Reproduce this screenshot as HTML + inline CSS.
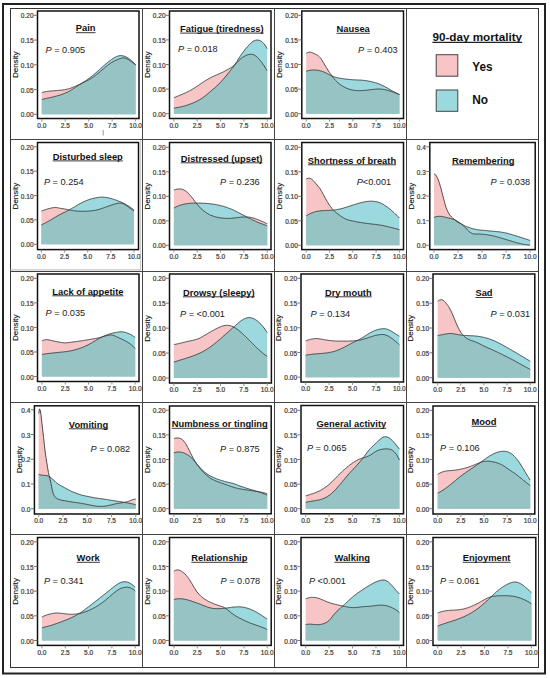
<!DOCTYPE html>
<html><head><meta charset="utf-8"><style>
html,body{margin:0;padding:0;background:#fff;}
svg{display:block;}
text{font-family:'Liberation Sans', sans-serif;text-decoration-skip-ink:none;}
.tk{font-size:6.5px;fill:#404040;stroke:#404040;stroke-width:0.22px;}
.dl{font-size:8px;fill:#111;stroke:#111;stroke-width:0.12px;}
.ti{font-size:9.35px;font-weight:bold;fill:#111;}
.pv{font-size:9.2px;fill:#1a1a1a;}
.lt{font-size:11.7px;font-weight:bold;fill:#111;}
.ly{font-size:13.2px;font-weight:bold;fill:#111;}
</style></head><body>
<svg width="550" height="678" viewBox="0 0 550 678">
<rect x="0" y="0" width="550" height="678" fill="#fff"/>
<rect x="3" y="4" width="542" height="669.5" fill="none" stroke="#222" stroke-width="2"/>
<rect x="10.5" y="8.5" width="528" height="659" fill="none" stroke="#333" stroke-width="1"/>
<line x1="142.5" y1="8.5" x2="142.5" y2="667.5" stroke="#444" stroke-width="1"/>
<line x1="274.5" y1="8.5" x2="274.5" y2="667.5" stroke="#444" stroke-width="1"/>
<line x1="406.5" y1="8.5" x2="406.5" y2="667.5" stroke="#444" stroke-width="1"/>
<line x1="10.5" y1="139.5" x2="538.5" y2="139.5" stroke="#444" stroke-width="1"/>
<line x1="10.5" y1="271.5" x2="538.5" y2="271.5" stroke="#444" stroke-width="1"/>
<line x1="10.5" y1="402.5" x2="538.5" y2="402.5" stroke="#444" stroke-width="1"/>
<line x1="10.5" y1="534.5" x2="538.5" y2="534.5" stroke="#444" stroke-width="1"/>
<line x1="10.5" y1="269.8" x2="141" y2="269.8" stroke="#c4c4c4" stroke-width="1.2"/>
<line x1="140.6" y1="140" x2="140.6" y2="270" stroke="#c8c8c8" stroke-width="1"/>
<path d="M41.8,114.3 L41.8,92.6 L42.6,92.4 L43.4,92.2 L44.1,92 L44.9,91.8 L45.7,91.7 L46.5,91.6 L47.3,91.4 L48.1,91.3 L48.8,91.2 L49.6,91.1 L50.4,91.1 L51.2,91 L52,90.9 L52.7,90.8 L53.5,90.8 L54.3,90.7 L55.1,90.7 L55.9,90.6 L56.7,90.6 L57.4,90.5 L58.2,90.4 L59,90.4 L59.8,90.3 L60.6,90.2 L61.3,90.2 L62.1,90.1 L62.9,90 L63.7,89.8 L64.5,89.7 L65.2,89.6 L66,89.4 L66.8,89.2 L67.6,89.1 L68.4,88.9 L69.2,88.6 L69.9,88.4 L70.7,88.1 L71.5,87.8 L72.3,87.5 L73.1,87.2 L73.8,86.9 L74.6,86.6 L75.4,86.3 L76.2,85.9 L77,85.5 L77.8,85.2 L78.5,84.8 L79.3,84.5 L80.1,84.1 L80.9,83.7 L81.7,83.3 L82.4,83 L83.2,82.6 L84,82.2 L84.8,81.9 L85.6,81.5 L86.4,81.1 L87.1,80.7 L87.9,80.3 L88.7,79.9 L89.5,79.4 L90.3,79 L91,78.5 L91.8,78 L92.6,77.5 L93.4,76.9 L94.2,76.4 L95,75.8 L95.7,75.2 L96.5,74.6 L97.3,74 L98.1,73.3 L98.9,72.7 L99.6,72.1 L100.4,71.4 L101.2,70.7 L102,70.1 L102.8,69.4 L103.6,68.7 L104.3,68 L105.1,67.4 L105.9,66.7 L106.7,66.1 L107.5,65.5 L108.2,64.8 L109,64.3 L109.8,63.7 L110.6,63.1 L111.4,62.6 L112.1,62.2 L112.9,61.7 L113.7,61.3 L114.5,60.9 L115.3,60.6 L116.1,60.2 L116.8,59.9 L117.6,59.6 L118.4,59.3 L119.2,58.9 L120,58.6 L120.7,58.4 L121.5,58.1 L122.3,58 L123.1,57.9 L123.9,57.9 L124.7,58 L125.4,58.2 L126.2,58.5 L127,58.8 L127.8,59.2 L128.6,59.7 L129.3,60.2 L130.1,60.8 L130.9,61.3 L131.7,61.9 L132.5,62.5 L133.3,63.1 L134,63.7 L134.8,64.3 L135.6,64.8 L135.6,114.3 Z" fill="rgb(247,197,197)"/>
<path d="M41.8,114.3 L41.8,99.5 L42.6,99.3 L43.4,99.1 L44.1,98.9 L44.9,98.7 L45.7,98.6 L46.5,98.4 L47.3,98.2 L48.1,98 L48.8,97.9 L49.6,97.7 L50.4,97.5 L51.2,97.4 L52,97.2 L52.7,97 L53.5,96.8 L54.3,96.6 L55.1,96.4 L55.9,96.2 L56.7,96 L57.4,95.8 L58.2,95.6 L59,95.4 L59.8,95.1 L60.6,94.9 L61.3,94.6 L62.1,94.3 L62.9,94 L63.7,93.7 L64.5,93.4 L65.2,93.1 L66,92.7 L66.8,92.4 L67.6,92 L68.4,91.6 L69.2,91.2 L69.9,90.8 L70.7,90.3 L71.5,89.9 L72.3,89.4 L73.1,88.9 L73.8,88.4 L74.6,87.9 L75.4,87.4 L76.2,86.9 L77,86.4 L77.8,85.9 L78.5,85.3 L79.3,84.8 L80.1,84.3 L80.9,83.8 L81.7,83.3 L82.4,82.8 L83.2,82.3 L84,81.8 L84.8,81.3 L85.6,80.8 L86.4,80.3 L87.1,79.7 L87.9,79.2 L88.7,78.6 L89.5,78.1 L90.3,77.5 L91,76.9 L91.8,76.3 L92.6,75.6 L93.4,75 L94.2,74.3 L95,73.6 L95.7,73 L96.5,72.3 L97.3,71.6 L98.1,70.9 L98.9,70.2 L99.6,69.5 L100.4,68.7 L101.2,68 L102,67.3 L102.8,66.6 L103.6,65.9 L104.3,65.3 L105.1,64.6 L105.9,63.9 L106.7,63.3 L107.5,62.6 L108.2,62 L109,61.4 L109.8,60.8 L110.6,60.2 L111.4,59.6 L112.1,59.1 L112.9,58.6 L113.7,58.1 L114.5,57.6 L115.3,57.2 L116.1,56.8 L116.8,56.4 L117.6,56.2 L118.4,55.9 L119.2,55.8 L120,55.7 L120.7,55.6 L121.5,55.6 L122.3,55.7 L123.1,55.9 L123.9,56.1 L124.7,56.3 L125.4,56.6 L126.2,57 L127,57.4 L127.8,57.9 L128.6,58.4 L129.3,58.9 L130.1,59.5 L130.9,60.2 L131.7,60.9 L132.5,61.6 L133.3,62.3 L134,63.1 L134.8,63.9 L135.6,64.8 L135.6,114.3 Z" fill="rgb(156,217,222)"/>
<path d="M41.8,114.3 L41.8,99.5 L42.6,99.3 L43.4,99.1 L44.1,98.9 L44.9,98.7 L45.7,98.6 L46.5,98.4 L47.3,98.2 L48.1,98 L48.8,97.9 L49.6,97.7 L50.4,97.5 L51.2,97.4 L52,97.2 L52.7,97 L53.5,96.8 L54.3,96.6 L55.1,96.4 L55.9,96.2 L56.7,96 L57.4,95.8 L58.2,95.6 L59,95.4 L59.8,95.1 L60.6,94.9 L61.3,94.6 L62.1,94.3 L62.9,94 L63.7,93.7 L64.5,93.4 L65.2,93.1 L66,92.7 L66.8,92.4 L67.6,92 L68.4,91.6 L69.2,91.2 L69.9,90.8 L70.7,90.3 L71.5,89.9 L72.3,89.4 L73.1,88.9 L73.8,88.4 L74.6,87.9 L75.4,87.4 L76.2,86.9 L77,86.4 L77.8,85.9 L78.5,85.3 L79.3,84.8 L80.1,84.3 L80.9,83.8 L81.7,83.3 L82.4,83 L83.2,82.6 L84,82.2 L84.8,81.9 L85.6,81.5 L86.4,81.1 L87.1,80.7 L87.9,80.3 L88.7,79.9 L89.5,79.4 L90.3,79 L91,78.5 L91.8,78 L92.6,77.5 L93.4,76.9 L94.2,76.4 L95,75.8 L95.7,75.2 L96.5,74.6 L97.3,74 L98.1,73.3 L98.9,72.7 L99.6,72.1 L100.4,71.4 L101.2,70.7 L102,70.1 L102.8,69.4 L103.6,68.7 L104.3,68 L105.1,67.4 L105.9,66.7 L106.7,66.1 L107.5,65.5 L108.2,64.8 L109,64.3 L109.8,63.7 L110.6,63.1 L111.4,62.6 L112.1,62.2 L112.9,61.7 L113.7,61.3 L114.5,60.9 L115.3,60.6 L116.1,60.2 L116.8,59.9 L117.6,59.6 L118.4,59.3 L119.2,58.9 L120,58.6 L120.7,58.4 L121.5,58.1 L122.3,58 L123.1,57.9 L123.9,57.9 L124.7,58 L125.4,58.2 L126.2,58.5 L127,58.8 L127.8,59.2 L128.6,59.7 L129.3,60.2 L130.1,60.8 L130.9,61.3 L131.7,61.9 L132.5,62.5 L133.3,63.1 L134,63.7 L134.8,64.3 L135.6,64.8 L135.6,114.3 Z" fill="rgb(150,195,196)"/>
<path d="M41.8,92.62 L42.6,92.4 L43.4,92.2 L44.1,92 L44.9,91.8 L45.7,91.7 L46.5,91.6 L47.3,91.4 L48.1,91.3 L48.8,91.2 L49.6,91.1 L50.4,91.1 L51.2,91 L52,90.9 L52.7,90.8 L53.5,90.8 L54.3,90.7 L55.1,90.7 L55.9,90.6 L56.7,90.6 L57.4,90.5 L58.2,90.4 L59,90.4 L59.8,90.3 L60.6,90.2 L61.3,90.2 L62.1,90.1 L62.9,90 L63.7,89.8 L64.5,89.7 L65.2,89.6 L66,89.4 L66.8,89.2 L67.6,89.1 L68.4,88.9 L69.2,88.6 L69.9,88.4 L70.7,88.1 L71.5,87.8 L72.3,87.5 L73.1,87.2 L73.8,86.9 L74.6,86.6 L75.4,86.3 L76.2,85.9 L77,85.5 L77.8,85.2 L78.5,84.8 L79.3,84.5 L80.1,84.1 L80.9,83.7 L81.7,83.3 L82.4,83 L83.2,82.6 L84,82.2 L84.8,81.9 L85.6,81.5 L86.4,81.1 L87.1,80.7 L87.9,80.3 L88.7,79.9 L89.5,79.4 L90.3,79 L91,78.5 L91.8,78 L92.6,77.5 L93.4,76.9 L94.2,76.4 L95,75.8 L95.7,75.2 L96.5,74.6 L97.3,74 L98.1,73.3 L98.9,72.7 L99.6,72.1 L100.4,71.4 L101.2,70.7 L102,70.1 L102.8,69.4 L103.6,68.7 L104.3,68 L105.1,67.4 L105.9,66.7 L106.7,66.1 L107.5,65.5 L108.2,64.8 L109,64.3 L109.8,63.7 L110.6,63.1 L111.4,62.6 L112.1,62.2 L112.9,61.7 L113.7,61.3 L114.5,60.9 L115.3,60.6 L116.1,60.2 L116.8,59.9 L117.6,59.6 L118.4,59.3 L119.2,58.9 L120,58.6 L120.7,58.4 L121.5,58.1 L122.3,58 L123.1,57.9 L123.9,57.9 L124.7,58 L125.4,58.2 L126.2,58.5 L127,58.8 L127.8,59.2 L128.6,59.7 L129.3,60.2 L130.1,60.8 L130.9,61.3 L131.7,61.9 L132.5,62.5 L133.3,63.1 L134,63.7 L134.8,64.3 L135.6,64.8" fill="none" stroke="#3a3a3a" stroke-width="0.9"/>
<path d="M41.8,99.45 L42.6,99.3 L43.4,99.1 L44.1,98.9 L44.9,98.7 L45.7,98.6 L46.5,98.4 L47.3,98.2 L48.1,98 L48.8,97.9 L49.6,97.7 L50.4,97.5 L51.2,97.4 L52,97.2 L52.7,97 L53.5,96.8 L54.3,96.6 L55.1,96.4 L55.9,96.2 L56.7,96 L57.4,95.8 L58.2,95.6 L59,95.4 L59.8,95.1 L60.6,94.9 L61.3,94.6 L62.1,94.3 L62.9,94 L63.7,93.7 L64.5,93.4 L65.2,93.1 L66,92.7 L66.8,92.4 L67.6,92 L68.4,91.6 L69.2,91.2 L69.9,90.8 L70.7,90.3 L71.5,89.9 L72.3,89.4 L73.1,88.9 L73.8,88.4 L74.6,87.9 L75.4,87.4 L76.2,86.9 L77,86.4 L77.8,85.9 L78.5,85.3 L79.3,84.8 L80.1,84.3 L80.9,83.8 L81.7,83.3 L82.4,82.8 L83.2,82.3 L84,81.8 L84.8,81.3 L85.6,80.8 L86.4,80.3 L87.1,79.7 L87.9,79.2 L88.7,78.6 L89.5,78.1 L90.3,77.5 L91,76.9 L91.8,76.3 L92.6,75.6 L93.4,75 L94.2,74.3 L95,73.6 L95.7,73 L96.5,72.3 L97.3,71.6 L98.1,70.9 L98.9,70.2 L99.6,69.5 L100.4,68.7 L101.2,68 L102,67.3 L102.8,66.6 L103.6,65.9 L104.3,65.3 L105.1,64.6 L105.9,63.9 L106.7,63.3 L107.5,62.6 L108.2,62 L109,61.4 L109.8,60.8 L110.6,60.2 L111.4,59.6 L112.1,59.1 L112.9,58.6 L113.7,58.1 L114.5,57.6 L115.3,57.2 L116.1,56.8 L116.8,56.4 L117.6,56.2 L118.4,55.9 L119.2,55.8 L120,55.7 L120.7,55.6 L121.5,55.6 L122.3,55.7 L123.1,55.9 L123.9,56.1 L124.7,56.3 L125.4,56.6 L126.2,57 L127,57.4 L127.8,57.9 L128.6,58.4 L129.3,58.9 L130.1,59.5 L130.9,60.2 L131.7,60.9 L132.5,61.6 L133.3,62.3 L134,63.1 L134.8,63.9 L135.6,64.8" fill="none" stroke="#3a3a3a" stroke-width="0.9"/>
<rect x="37.5" y="11" width="101.5" height="107.5" fill="none" stroke="#111" stroke-width="1.5"/>
<line x1="33.9" y1="114.3" x2="37.5" y2="114.3" stroke="#555" stroke-width="0.8"/>
<text x="33.5" y="117.4" class="tk" text-anchor="end">0.00</text>
<line x1="33.9" y1="89.55" x2="37.5" y2="89.55" stroke="#555" stroke-width="0.8"/>
<text x="33.5" y="92.65" class="tk" text-anchor="end">0.05</text>
<line x1="33.9" y1="64.8" x2="37.5" y2="64.8" stroke="#555" stroke-width="0.8"/>
<text x="33.5" y="67.9" class="tk" text-anchor="end">0.10</text>
<line x1="33.9" y1="40.05" x2="37.5" y2="40.05" stroke="#555" stroke-width="0.8"/>
<text x="33.5" y="43.15" class="tk" text-anchor="end">0.15</text>
<line x1="33.9" y1="15.3" x2="37.5" y2="15.3" stroke="#555" stroke-width="0.8"/>
<text x="33.5" y="18.4" class="tk" text-anchor="end">0.20</text>
<line x1="41.8" y1="118.5" x2="41.8" y2="121.5" stroke="#777" stroke-width="0.8"/>
<text x="41.8" y="127.7" class="tk" text-anchor="middle">0.0</text>
<line x1="65.25" y1="118.5" x2="65.25" y2="121.5" stroke="#777" stroke-width="0.8"/>
<text x="65.25" y="127.7" class="tk" text-anchor="middle">2.5</text>
<line x1="88.7" y1="118.5" x2="88.7" y2="121.5" stroke="#777" stroke-width="0.8"/>
<text x="88.7" y="127.7" class="tk" text-anchor="middle">5.0</text>
<line x1="112.15" y1="118.5" x2="112.15" y2="121.5" stroke="#777" stroke-width="0.8"/>
<text x="112.15" y="127.7" class="tk" text-anchor="middle">7.5</text>
<line x1="135.6" y1="118.5" x2="135.6" y2="121.5" stroke="#777" stroke-width="0.8"/>
<text x="135.6" y="127.7" class="tk" text-anchor="middle">10.0</text>
<text transform="translate(17.5,64.75) rotate(-90)" class="dl" text-anchor="middle">Density</text>
<text x="85.7" y="31.4" class="ti" text-anchor="middle">Pain</text>
<line x1="75.83" y1="32.7" x2="95.57" y2="32.7" stroke="#222" stroke-width="0.9"/>
<text x="45.5" y="52.5" class="pv"><tspan font-style="italic">P</tspan> = 0.905</text>
<path d="M173.9,113.7 L173.9,97.8 L174.7,97.4 L175.5,97.1 L176.2,96.8 L177,96.4 L177.8,96.1 L178.6,95.8 L179.3,95.5 L180.1,95.2 L180.9,94.8 L181.7,94.5 L182.5,94.2 L183.2,93.8 L184,93.5 L184.8,93.1 L185.6,92.8 L186.3,92.4 L187.1,92 L187.9,91.7 L188.7,91.3 L189.4,90.9 L190.2,90.5 L191,90 L191.8,89.6 L192.6,89.1 L193.3,88.7 L194.1,88.2 L194.9,87.7 L195.7,87.2 L196.4,86.7 L197.2,86.2 L198,85.7 L198.8,85.2 L199.6,84.6 L200.3,84.1 L201.1,83.6 L201.9,83 L202.7,82.5 L203.4,82 L204.2,81.5 L205,81 L205.8,80.5 L206.6,80 L207.3,79.6 L208.1,79.1 L208.9,78.6 L209.7,78.2 L210.4,77.8 L211.2,77.4 L212,77 L212.8,76.6 L213.6,76.3 L214.3,75.9 L215.1,75.6 L215.9,75.2 L216.7,74.9 L217.4,74.6 L218.2,74.2 L219,73.9 L219.8,73.6 L220.6,73.2 L221.3,72.8 L222.1,72.5 L222.9,72.1 L223.7,71.7 L224.4,71.3 L225.2,70.9 L226,70.5 L226.8,70 L227.5,69.6 L228.3,69.2 L229.1,68.7 L229.9,68.3 L230.7,67.8 L231.4,67.4 L232.2,66.9 L233,66.3 L233.8,65.8 L234.5,65.1 L235.3,64.3 L236.1,63.5 L236.9,62.7 L237.7,61.9 L238.4,61 L239.2,60.2 L240,59.5 L240.8,58.8 L241.5,58.1 L242.3,57.6 L243.1,57 L243.9,56.5 L244.7,56.1 L245.4,55.7 L246.2,55.3 L247,55 L247.8,54.8 L248.5,54.6 L249.3,54.4 L250.1,54.3 L250.9,54.2 L251.6,54.3 L252.4,54.4 L253.2,54.6 L254,54.9 L254.8,55.3 L255.5,55.8 L256.3,56.3 L257.1,57 L257.9,57.8 L258.6,58.6 L259.4,59.5 L260.2,60.4 L261,61.4 L261.8,62.4 L262.5,63.5 L263.3,64.7 L264.1,65.8 L264.9,67 L265.6,68.3 L266.4,69.5 L267.2,70.7 L267.2,113.7 Z" fill="rgb(247,197,197)"/>
<path d="M173.9,113.7 L173.9,108 L174.7,108 L175.5,107.9 L176.2,107.7 L177,107.6 L177.8,107.5 L178.6,107.4 L179.3,107.2 L180.1,107.1 L180.9,106.9 L181.7,106.7 L182.5,106.5 L183.2,106.3 L184,106.1 L184.8,105.9 L185.6,105.7 L186.3,105.4 L187.1,105.2 L187.9,104.9 L188.7,104.7 L189.4,104.4 L190.2,104.1 L191,103.8 L191.8,103.5 L192.6,103.2 L193.3,102.8 L194.1,102.5 L194.9,102.2 L195.7,101.8 L196.4,101.4 L197.2,101 L198,100.6 L198.8,100.2 L199.6,99.7 L200.3,99.3 L201.1,98.8 L201.9,98.3 L202.7,97.7 L203.4,97.2 L204.2,96.6 L205,96 L205.8,95.4 L206.6,94.8 L207.3,94.1 L208.1,93.5 L208.9,92.8 L209.7,92.2 L210.4,91.5 L211.2,90.9 L212,90.2 L212.8,89.5 L213.6,88.9 L214.3,88.2 L215.1,87.5 L215.9,86.8 L216.7,86.1 L217.4,85.4 L218.2,84.7 L219,83.9 L219.8,83.1 L220.6,82.3 L221.3,81.5 L222.1,80.6 L222.9,79.7 L223.7,78.8 L224.4,77.9 L225.2,77 L226,76.1 L226.8,75.1 L227.5,74.1 L228.3,73.2 L229.1,72.2 L229.9,71.2 L230.7,70.3 L231.4,69.3 L232.2,68.3 L233,67.3 L233.8,66.2 L234.5,65.1 L235.3,63.9 L236.1,62.7 L236.9,61.5 L237.7,60.2 L238.4,59 L239.2,57.8 L240,56.6 L240.8,55.4 L241.5,54.3 L242.3,53.2 L243.1,52.2 L243.9,51.1 L244.7,50.1 L245.4,49.1 L246.2,48.2 L247,47.2 L247.8,46.3 L248.5,45.5 L249.3,44.6 L250.1,43.8 L250.9,43.1 L251.6,42.4 L252.4,41.8 L253.2,41.3 L254,40.9 L254.8,40.6 L255.5,40.3 L256.3,40.1 L257.1,40.1 L257.9,40.1 L258.6,40.2 L259.4,40.4 L260.2,40.7 L261,41.2 L261.8,41.7 L262.5,42.3 L263.3,43.1 L264.1,43.9 L264.9,44.9 L265.6,46 L266.4,47.3 L267.2,48.7 L267.2,113.7 Z" fill="rgb(156,217,222)"/>
<path d="M173.9,113.7 L173.9,108 L174.7,108 L175.5,107.9 L176.2,107.7 L177,107.6 L177.8,107.5 L178.6,107.4 L179.3,107.2 L180.1,107.1 L180.9,106.9 L181.7,106.7 L182.5,106.5 L183.2,106.3 L184,106.1 L184.8,105.9 L185.6,105.7 L186.3,105.4 L187.1,105.2 L187.9,104.9 L188.7,104.7 L189.4,104.4 L190.2,104.1 L191,103.8 L191.8,103.5 L192.6,103.2 L193.3,102.8 L194.1,102.5 L194.9,102.2 L195.7,101.8 L196.4,101.4 L197.2,101 L198,100.6 L198.8,100.2 L199.6,99.7 L200.3,99.3 L201.1,98.8 L201.9,98.3 L202.7,97.7 L203.4,97.2 L204.2,96.6 L205,96 L205.8,95.4 L206.6,94.8 L207.3,94.1 L208.1,93.5 L208.9,92.8 L209.7,92.2 L210.4,91.5 L211.2,90.9 L212,90.2 L212.8,89.5 L213.6,88.9 L214.3,88.2 L215.1,87.5 L215.9,86.8 L216.7,86.1 L217.4,85.4 L218.2,84.7 L219,83.9 L219.8,83.1 L220.6,82.3 L221.3,81.5 L222.1,80.6 L222.9,79.7 L223.7,78.8 L224.4,77.9 L225.2,77 L226,76.1 L226.8,75.1 L227.5,74.1 L228.3,73.2 L229.1,72.2 L229.9,71.2 L230.7,70.3 L231.4,69.3 L232.2,68.3 L233,67.3 L233.8,66.2 L234.5,65.1 L235.3,64.3 L236.1,63.5 L236.9,62.7 L237.7,61.9 L238.4,61 L239.2,60.2 L240,59.5 L240.8,58.8 L241.5,58.1 L242.3,57.6 L243.1,57 L243.9,56.5 L244.7,56.1 L245.4,55.7 L246.2,55.3 L247,55 L247.8,54.8 L248.5,54.6 L249.3,54.4 L250.1,54.3 L250.9,54.2 L251.6,54.3 L252.4,54.4 L253.2,54.6 L254,54.9 L254.8,55.3 L255.5,55.8 L256.3,56.3 L257.1,57 L257.9,57.8 L258.6,58.6 L259.4,59.5 L260.2,60.4 L261,61.4 L261.8,62.4 L262.5,63.5 L263.3,64.7 L264.1,65.8 L264.9,67 L265.6,68.3 L266.4,69.5 L267.2,70.7 L267.2,113.7 Z" fill="rgb(150,195,196)"/>
<path d="M173.9,97.76 L174.7,97.4 L175.5,97.1 L176.2,96.8 L177,96.4 L177.8,96.1 L178.6,95.8 L179.3,95.5 L180.1,95.2 L180.9,94.8 L181.7,94.5 L182.5,94.2 L183.2,93.8 L184,93.5 L184.8,93.1 L185.6,92.8 L186.3,92.4 L187.1,92 L187.9,91.7 L188.7,91.3 L189.4,90.9 L190.2,90.5 L191,90 L191.8,89.6 L192.6,89.1 L193.3,88.7 L194.1,88.2 L194.9,87.7 L195.7,87.2 L196.4,86.7 L197.2,86.2 L198,85.7 L198.8,85.2 L199.6,84.6 L200.3,84.1 L201.1,83.6 L201.9,83 L202.7,82.5 L203.4,82 L204.2,81.5 L205,81 L205.8,80.5 L206.6,80 L207.3,79.6 L208.1,79.1 L208.9,78.6 L209.7,78.2 L210.4,77.8 L211.2,77.4 L212,77 L212.8,76.6 L213.6,76.3 L214.3,75.9 L215.1,75.6 L215.9,75.2 L216.7,74.9 L217.4,74.6 L218.2,74.2 L219,73.9 L219.8,73.6 L220.6,73.2 L221.3,72.8 L222.1,72.5 L222.9,72.1 L223.7,71.7 L224.4,71.3 L225.2,70.9 L226,70.5 L226.8,70 L227.5,69.6 L228.3,69.2 L229.1,68.7 L229.9,68.3 L230.7,67.8 L231.4,67.4 L232.2,66.9 L233,66.3 L233.8,65.8 L234.5,65.1 L235.3,64.3 L236.1,63.5 L236.9,62.7 L237.7,61.9 L238.4,61 L239.2,60.2 L240,59.5 L240.8,58.8 L241.5,58.1 L242.3,57.6 L243.1,57 L243.9,56.5 L244.7,56.1 L245.4,55.7 L246.2,55.3 L247,55 L247.8,54.8 L248.5,54.6 L249.3,54.4 L250.1,54.3 L250.9,54.2 L251.6,54.3 L252.4,54.4 L253.2,54.6 L254,54.9 L254.8,55.3 L255.5,55.8 L256.3,56.3 L257.1,57 L257.9,57.8 L258.6,58.6 L259.4,59.5 L260.2,60.4 L261,61.4 L261.8,62.4 L262.5,63.5 L263.3,64.7 L264.1,65.8 L264.9,67 L265.6,68.3 L266.4,69.5 L267.2,70.7" fill="none" stroke="#3a3a3a" stroke-width="0.9"/>
<path d="M173.9,108.04 L174.7,108 L175.5,107.9 L176.2,107.7 L177,107.6 L177.8,107.5 L178.6,107.4 L179.3,107.2 L180.1,107.1 L180.9,106.9 L181.7,106.7 L182.5,106.5 L183.2,106.3 L184,106.1 L184.8,105.9 L185.6,105.7 L186.3,105.4 L187.1,105.2 L187.9,104.9 L188.7,104.7 L189.4,104.4 L190.2,104.1 L191,103.8 L191.8,103.5 L192.6,103.2 L193.3,102.8 L194.1,102.5 L194.9,102.2 L195.7,101.8 L196.4,101.4 L197.2,101 L198,100.6 L198.8,100.2 L199.6,99.7 L200.3,99.3 L201.1,98.8 L201.9,98.3 L202.7,97.7 L203.4,97.2 L204.2,96.6 L205,96 L205.8,95.4 L206.6,94.8 L207.3,94.1 L208.1,93.5 L208.9,92.8 L209.7,92.2 L210.4,91.5 L211.2,90.9 L212,90.2 L212.8,89.5 L213.6,88.9 L214.3,88.2 L215.1,87.5 L215.9,86.8 L216.7,86.1 L217.4,85.4 L218.2,84.7 L219,83.9 L219.8,83.1 L220.6,82.3 L221.3,81.5 L222.1,80.6 L222.9,79.7 L223.7,78.8 L224.4,77.9 L225.2,77 L226,76.1 L226.8,75.1 L227.5,74.1 L228.3,73.2 L229.1,72.2 L229.9,71.2 L230.7,70.3 L231.4,69.3 L232.2,68.3 L233,67.3 L233.8,66.2 L234.5,65.1 L235.3,63.9 L236.1,62.7 L236.9,61.5 L237.7,60.2 L238.4,59 L239.2,57.8 L240,56.6 L240.8,55.4 L241.5,54.3 L242.3,53.2 L243.1,52.2 L243.9,51.1 L244.7,50.1 L245.4,49.1 L246.2,48.2 L247,47.2 L247.8,46.3 L248.5,45.5 L249.3,44.6 L250.1,43.8 L250.9,43.1 L251.6,42.4 L252.4,41.8 L253.2,41.3 L254,40.9 L254.8,40.6 L255.5,40.3 L256.3,40.1 L257.1,40.1 L257.9,40.1 L258.6,40.2 L259.4,40.4 L260.2,40.7 L261,41.2 L261.8,41.7 L262.5,42.3 L263.3,43.1 L264.1,43.9 L264.9,44.9 L265.6,46 L266.4,47.3 L267.2,48.7" fill="none" stroke="#3a3a3a" stroke-width="0.9"/>
<rect x="169.5" y="11" width="101.5" height="107.5" fill="none" stroke="#111" stroke-width="1.5"/>
<line x1="165.9" y1="113.7" x2="169.5" y2="113.7" stroke="#555" stroke-width="0.8"/>
<text x="165.5" y="116.8" class="tk" text-anchor="end">0.00</text>
<line x1="165.9" y1="89.1" x2="169.5" y2="89.1" stroke="#555" stroke-width="0.8"/>
<text x="165.5" y="92.2" class="tk" text-anchor="end">0.05</text>
<line x1="165.9" y1="64.5" x2="169.5" y2="64.5" stroke="#555" stroke-width="0.8"/>
<text x="165.5" y="67.6" class="tk" text-anchor="end">0.10</text>
<line x1="165.9" y1="39.9" x2="169.5" y2="39.9" stroke="#555" stroke-width="0.8"/>
<text x="165.5" y="43" class="tk" text-anchor="end">0.15</text>
<line x1="165.9" y1="15.3" x2="169.5" y2="15.3" stroke="#555" stroke-width="0.8"/>
<text x="165.5" y="18.4" class="tk" text-anchor="end">0.20</text>
<line x1="173.9" y1="118.5" x2="173.9" y2="121.5" stroke="#777" stroke-width="0.8"/>
<text x="173.9" y="127.7" class="tk" text-anchor="middle">0.0</text>
<line x1="197.22" y1="118.5" x2="197.22" y2="121.5" stroke="#777" stroke-width="0.8"/>
<text x="197.22" y="127.7" class="tk" text-anchor="middle">2.5</text>
<line x1="220.55" y1="118.5" x2="220.55" y2="121.5" stroke="#777" stroke-width="0.8"/>
<text x="220.55" y="127.7" class="tk" text-anchor="middle">5.0</text>
<line x1="243.88" y1="118.5" x2="243.88" y2="121.5" stroke="#777" stroke-width="0.8"/>
<text x="243.88" y="127.7" class="tk" text-anchor="middle">7.5</text>
<line x1="267.2" y1="118.5" x2="267.2" y2="121.5" stroke="#777" stroke-width="0.8"/>
<text x="267.2" y="127.7" class="tk" text-anchor="middle">10.0</text>
<text transform="translate(149.5,64.75) rotate(-90)" class="dl" text-anchor="middle">Density</text>
<text x="221.9" y="31.8" class="ti" text-anchor="middle">Fatigue (tiredness)</text>
<line x1="180.08" y1="33.1" x2="263.72" y2="33.1" stroke="#222" stroke-width="0.9"/>
<text x="178" y="52.2" class="pv"><tspan font-style="italic">P</tspan> = 0.018</text>
<path d="M306.2,113.7 L306.2,53.3 L307,52.9 L307.8,52.5 L308.5,52.3 L309.3,52.2 L310.1,52.2 L310.9,52.3 L311.6,52.5 L312.4,52.8 L313.2,53.1 L314,53.4 L314.7,53.8 L315.5,54.2 L316.3,54.6 L317.1,55 L317.8,55.5 L318.6,56.1 L319.4,56.8 L320.2,57.6 L321,58.6 L321.7,59.8 L322.5,61 L323.3,62.3 L324.1,63.7 L324.8,65 L325.6,66.3 L326.4,67.6 L327.2,68.8 L327.9,70 L328.7,71.2 L329.5,72.4 L330.3,73.5 L331.1,74.6 L331.8,75.7 L332.6,76.8 L333.4,77.8 L334.2,78.8 L334.9,79.7 L335.7,80.5 L336.5,81.3 L337.3,82.1 L338,82.8 L338.8,83.5 L339.6,84.1 L340.4,84.7 L341.1,85.2 L341.9,85.7 L342.7,86.2 L343.5,86.6 L344.3,87.1 L345,87.5 L345.8,87.8 L346.6,88.2 L347.4,88.5 L348.1,88.8 L348.9,89.1 L349.7,89.3 L350.5,89.5 L351.2,89.7 L352,89.9 L352.8,90.1 L353.6,90.2 L354.4,90.3 L355.1,90.4 L355.9,90.5 L356.7,90.6 L357.5,90.6 L358.2,90.6 L359,90.7 L359.8,90.7 L360.6,90.6 L361.3,90.6 L362.1,90.6 L362.9,90.5 L363.7,90.5 L364.4,90.4 L365.2,90.3 L366,90.2 L366.8,90.2 L367.6,90.1 L368.3,90 L369.1,89.9 L369.9,89.8 L370.7,89.7 L371.4,89.6 L372.2,89.5 L373,89.4 L373.8,89.3 L374.5,89.2 L375.3,89.2 L376.1,89.1 L376.9,89.1 L377.7,89 L378.4,89 L379.2,89 L380,89.1 L380.8,89.1 L381.5,89.2 L382.3,89.3 L383.1,89.4 L383.9,89.5 L384.6,89.6 L385.4,89.8 L386.2,90 L387,90.2 L387.8,90.4 L388.5,90.6 L389.3,90.8 L390.1,91.1 L390.9,91.3 L391.6,91.6 L392.4,91.9 L393.2,92.1 L394,92.4 L394.7,92.7 L395.5,93 L396.3,93.3 L397.1,93.6 L397.8,93.9 L398.6,94.2 L399.4,94.5 L399.4,113.7 Z" fill="rgb(247,197,197)"/>
<path d="M306.2,113.7 L306.2,71.2 L307,71 L307.8,70.8 L308.5,70.6 L309.3,70.4 L310.1,70.3 L310.9,70.2 L311.6,70.1 L312.4,70 L313.2,70 L314,70 L314.7,70 L315.5,70 L316.3,70.1 L317.1,70.2 L317.8,70.3 L318.6,70.4 L319.4,70.6 L320.2,70.8 L321,71 L321.7,71.2 L322.5,71.5 L323.3,71.8 L324.1,72.1 L324.8,72.5 L325.6,72.8 L326.4,73.2 L327.2,73.6 L327.9,74 L328.7,74.4 L329.5,74.8 L330.3,75.2 L331.1,75.6 L331.8,75.9 L332.6,76.2 L333.4,76.5 L334.2,76.8 L334.9,77.1 L335.7,77.3 L336.5,77.5 L337.3,77.7 L338,77.9 L338.8,78 L339.6,78.2 L340.4,78.3 L341.1,78.4 L341.9,78.5 L342.7,78.7 L343.5,78.8 L344.3,78.9 L345,79 L345.8,79.1 L346.6,79.2 L347.4,79.3 L348.1,79.3 L348.9,79.4 L349.7,79.5 L350.5,79.6 L351.2,79.6 L352,79.7 L352.8,79.8 L353.6,79.8 L354.4,79.8 L355.1,79.9 L355.9,79.9 L356.7,79.9 L357.5,80 L358.2,80 L359,80 L359.8,80.1 L360.6,80.1 L361.3,80.2 L362.1,80.2 L362.9,80.3 L363.7,80.4 L364.4,80.5 L365.2,80.6 L366,80.7 L366.8,80.8 L367.6,80.9 L368.3,81.1 L369.1,81.2 L369.9,81.4 L370.7,81.5 L371.4,81.7 L372.2,81.9 L373,82.1 L373.8,82.3 L374.5,82.5 L375.3,82.7 L376.1,83 L376.9,83.2 L377.7,83.5 L378.4,83.7 L379.2,84 L380,84.3 L380.8,84.7 L381.5,85 L382.3,85.4 L383.1,85.8 L383.9,86.1 L384.6,86.6 L385.4,87 L386.2,87.4 L387,87.8 L387.8,88.3 L388.5,88.7 L389.3,89.1 L390.1,89.6 L390.9,90 L391.6,90.5 L392.4,90.9 L393.2,91.4 L394,91.8 L394.7,92.2 L395.5,92.6 L396.3,93 L397.1,93.4 L397.8,93.8 L398.6,94.2 L399.4,94.5 L399.4,113.7 Z" fill="rgb(156,217,222)"/>
<path d="M306.2,113.7 L306.2,71.2 L307,71 L307.8,70.8 L308.5,70.6 L309.3,70.4 L310.1,70.3 L310.9,70.2 L311.6,70.1 L312.4,70 L313.2,70 L314,70 L314.7,70 L315.5,70 L316.3,70.1 L317.1,70.2 L317.8,70.3 L318.6,70.4 L319.4,70.6 L320.2,70.8 L321,71 L321.7,71.2 L322.5,71.5 L323.3,71.8 L324.1,72.1 L324.8,72.5 L325.6,72.8 L326.4,73.2 L327.2,73.6 L327.9,74 L328.7,74.4 L329.5,74.8 L330.3,75.2 L331.1,75.6 L331.8,75.9 L332.6,76.8 L333.4,77.8 L334.2,78.8 L334.9,79.7 L335.7,80.5 L336.5,81.3 L337.3,82.1 L338,82.8 L338.8,83.5 L339.6,84.1 L340.4,84.7 L341.1,85.2 L341.9,85.7 L342.7,86.2 L343.5,86.6 L344.3,87.1 L345,87.5 L345.8,87.8 L346.6,88.2 L347.4,88.5 L348.1,88.8 L348.9,89.1 L349.7,89.3 L350.5,89.5 L351.2,89.7 L352,89.9 L352.8,90.1 L353.6,90.2 L354.4,90.3 L355.1,90.4 L355.9,90.5 L356.7,90.6 L357.5,90.6 L358.2,90.6 L359,90.7 L359.8,90.7 L360.6,90.6 L361.3,90.6 L362.1,90.6 L362.9,90.5 L363.7,90.5 L364.4,90.4 L365.2,90.3 L366,90.2 L366.8,90.2 L367.6,90.1 L368.3,90 L369.1,89.9 L369.9,89.8 L370.7,89.7 L371.4,89.6 L372.2,89.5 L373,89.4 L373.8,89.3 L374.5,89.2 L375.3,89.2 L376.1,89.1 L376.9,89.1 L377.7,89 L378.4,89 L379.2,89 L380,89.1 L380.8,89.1 L381.5,89.2 L382.3,89.3 L383.1,89.4 L383.9,89.5 L384.6,89.6 L385.4,89.8 L386.2,90 L387,90.2 L387.8,90.4 L388.5,90.6 L389.3,90.8 L390.1,91.1 L390.9,91.3 L391.6,91.6 L392.4,91.9 L393.2,92.1 L394,92.4 L394.7,92.7 L395.5,93 L396.3,93.3 L397.1,93.6 L397.8,93.9 L398.6,94.2 L399.4,94.5 L399.4,113.7 Z" fill="rgb(150,195,196)"/>
<path d="M306.2,53.33 L307,52.9 L307.8,52.5 L308.5,52.3 L309.3,52.2 L310.1,52.2 L310.9,52.3 L311.6,52.5 L312.4,52.8 L313.2,53.1 L314,53.4 L314.7,53.8 L315.5,54.2 L316.3,54.6 L317.1,55 L317.8,55.5 L318.6,56.1 L319.4,56.8 L320.2,57.6 L321,58.6 L321.7,59.8 L322.5,61 L323.3,62.3 L324.1,63.7 L324.8,65 L325.6,66.3 L326.4,67.6 L327.2,68.8 L327.9,70 L328.7,71.2 L329.5,72.4 L330.3,73.5 L331.1,74.6 L331.8,75.7 L332.6,76.8 L333.4,77.8 L334.2,78.8 L334.9,79.7 L335.7,80.5 L336.5,81.3 L337.3,82.1 L338,82.8 L338.8,83.5 L339.6,84.1 L340.4,84.7 L341.1,85.2 L341.9,85.7 L342.7,86.2 L343.5,86.6 L344.3,87.1 L345,87.5 L345.8,87.8 L346.6,88.2 L347.4,88.5 L348.1,88.8 L348.9,89.1 L349.7,89.3 L350.5,89.5 L351.2,89.7 L352,89.9 L352.8,90.1 L353.6,90.2 L354.4,90.3 L355.1,90.4 L355.9,90.5 L356.7,90.6 L357.5,90.6 L358.2,90.6 L359,90.7 L359.8,90.7 L360.6,90.6 L361.3,90.6 L362.1,90.6 L362.9,90.5 L363.7,90.5 L364.4,90.4 L365.2,90.3 L366,90.2 L366.8,90.2 L367.6,90.1 L368.3,90 L369.1,89.9 L369.9,89.8 L370.7,89.7 L371.4,89.6 L372.2,89.5 L373,89.4 L373.8,89.3 L374.5,89.2 L375.3,89.2 L376.1,89.1 L376.9,89.1 L377.7,89 L378.4,89 L379.2,89 L380,89.1 L380.8,89.1 L381.5,89.2 L382.3,89.3 L383.1,89.4 L383.9,89.5 L384.6,89.6 L385.4,89.8 L386.2,90 L387,90.2 L387.8,90.4 L388.5,90.6 L389.3,90.8 L390.1,91.1 L390.9,91.3 L391.6,91.6 L392.4,91.9 L393.2,92.1 L394,92.4 L394.7,92.7 L395.5,93 L396.3,93.3 L397.1,93.6 L397.8,93.9 L398.6,94.2 L399.4,94.5" fill="none" stroke="#3a3a3a" stroke-width="0.9"/>
<path d="M306.2,71.24 L307,71 L307.8,70.8 L308.5,70.6 L309.3,70.4 L310.1,70.3 L310.9,70.2 L311.6,70.1 L312.4,70 L313.2,70 L314,70 L314.7,70 L315.5,70 L316.3,70.1 L317.1,70.2 L317.8,70.3 L318.6,70.4 L319.4,70.6 L320.2,70.8 L321,71 L321.7,71.2 L322.5,71.5 L323.3,71.8 L324.1,72.1 L324.8,72.5 L325.6,72.8 L326.4,73.2 L327.2,73.6 L327.9,74 L328.7,74.4 L329.5,74.8 L330.3,75.2 L331.1,75.6 L331.8,75.9 L332.6,76.2 L333.4,76.5 L334.2,76.8 L334.9,77.1 L335.7,77.3 L336.5,77.5 L337.3,77.7 L338,77.9 L338.8,78 L339.6,78.2 L340.4,78.3 L341.1,78.4 L341.9,78.5 L342.7,78.7 L343.5,78.8 L344.3,78.9 L345,79 L345.8,79.1 L346.6,79.2 L347.4,79.3 L348.1,79.3 L348.9,79.4 L349.7,79.5 L350.5,79.6 L351.2,79.6 L352,79.7 L352.8,79.8 L353.6,79.8 L354.4,79.8 L355.1,79.9 L355.9,79.9 L356.7,79.9 L357.5,80 L358.2,80 L359,80 L359.8,80.1 L360.6,80.1 L361.3,80.2 L362.1,80.2 L362.9,80.3 L363.7,80.4 L364.4,80.5 L365.2,80.6 L366,80.7 L366.8,80.8 L367.6,80.9 L368.3,81.1 L369.1,81.2 L369.9,81.4 L370.7,81.5 L371.4,81.7 L372.2,81.9 L373,82.1 L373.8,82.3 L374.5,82.5 L375.3,82.7 L376.1,83 L376.9,83.2 L377.7,83.5 L378.4,83.7 L379.2,84 L380,84.3 L380.8,84.7 L381.5,85 L382.3,85.4 L383.1,85.8 L383.9,86.1 L384.6,86.6 L385.4,87 L386.2,87.4 L387,87.8 L387.8,88.3 L388.5,88.7 L389.3,89.1 L390.1,89.6 L390.9,90 L391.6,90.5 L392.4,90.9 L393.2,91.4 L394,91.8 L394.7,92.2 L395.5,92.6 L396.3,93 L397.1,93.4 L397.8,93.8 L398.6,94.2 L399.4,94.5" fill="none" stroke="#3a3a3a" stroke-width="0.9"/>
<rect x="301.8" y="11" width="101.7" height="107.5" fill="none" stroke="#111" stroke-width="1.5"/>
<line x1="298.2" y1="113.7" x2="301.8" y2="113.7" stroke="#555" stroke-width="0.8"/>
<text x="297.8" y="116.8" class="tk" text-anchor="end">0.00</text>
<line x1="298.2" y1="89.1" x2="301.8" y2="89.1" stroke="#555" stroke-width="0.8"/>
<text x="297.8" y="92.2" class="tk" text-anchor="end">0.05</text>
<line x1="298.2" y1="64.5" x2="301.8" y2="64.5" stroke="#555" stroke-width="0.8"/>
<text x="297.8" y="67.6" class="tk" text-anchor="end">0.10</text>
<line x1="298.2" y1="39.9" x2="301.8" y2="39.9" stroke="#555" stroke-width="0.8"/>
<text x="297.8" y="43" class="tk" text-anchor="end">0.15</text>
<line x1="298.2" y1="15.3" x2="301.8" y2="15.3" stroke="#555" stroke-width="0.8"/>
<text x="297.8" y="18.4" class="tk" text-anchor="end">0.20</text>
<line x1="306.2" y1="118.5" x2="306.2" y2="121.5" stroke="#777" stroke-width="0.8"/>
<text x="306.2" y="127.7" class="tk" text-anchor="middle">0.0</text>
<line x1="329.5" y1="118.5" x2="329.5" y2="121.5" stroke="#777" stroke-width="0.8"/>
<text x="329.5" y="127.7" class="tk" text-anchor="middle">2.5</text>
<line x1="352.8" y1="118.5" x2="352.8" y2="121.5" stroke="#777" stroke-width="0.8"/>
<text x="352.8" y="127.7" class="tk" text-anchor="middle">5.0</text>
<line x1="376.1" y1="118.5" x2="376.1" y2="121.5" stroke="#777" stroke-width="0.8"/>
<text x="376.1" y="127.7" class="tk" text-anchor="middle">7.5</text>
<line x1="399.4" y1="118.5" x2="399.4" y2="121.5" stroke="#777" stroke-width="0.8"/>
<text x="399.4" y="127.7" class="tk" text-anchor="middle">10.0</text>
<text transform="translate(281.8,64.75) rotate(-90)" class="dl" text-anchor="middle">Density</text>
<text x="353.2" y="32" class="ti" text-anchor="middle">Nausea</text>
<line x1="336.57" y1="33.3" x2="369.83" y2="33.3" stroke="#222" stroke-width="0.9"/>
<text x="358" y="52.9" class="pv"><tspan font-style="italic">P</tspan> = 0.403</text>
<path d="M41.4,244.3 L41.4,211.2 L42.2,210.8 L42.9,210.5 L43.7,210.2 L44.5,209.9 L45.3,209.7 L46,209.4 L46.8,209.2 L47.6,209 L48.3,208.8 L49.1,208.6 L49.9,208.4 L50.7,208.2 L51.4,208 L52.2,207.8 L53,207.7 L53.7,207.6 L54.5,207.5 L55.3,207.4 L56.1,207.5 L56.8,207.6 L57.6,207.7 L58.4,207.9 L59.1,208.1 L59.9,208.2 L60.7,208.4 L61.5,208.5 L62.2,208.6 L63,208.7 L63.8,208.8 L64.5,209 L65.3,209.1 L66.1,209.3 L66.9,209.4 L67.6,209.6 L68.4,209.8 L69.2,209.9 L70,210.1 L70.7,210.2 L71.5,210.4 L72.3,210.5 L73,210.6 L73.8,210.7 L74.6,210.8 L75.4,210.9 L76.1,211 L76.9,211 L77.7,211.1 L78.4,211.2 L79.2,211.2 L80,211.2 L80.8,211.3 L81.5,211.3 L82.3,211.3 L83.1,211.3 L83.8,211.3 L84.6,211.3 L85.4,211.2 L86.2,211.2 L86.9,211.2 L87.7,211.2 L88.5,211.1 L89.2,211.1 L90,211 L90.8,210.9 L91.6,210.8 L92.3,210.7 L93.1,210.6 L93.9,210.5 L94.6,210.4 L95.4,210.3 L96.2,210.1 L97,209.9 L97.7,209.7 L98.5,209.5 L99.3,209.3 L100,209.1 L100.8,208.8 L101.6,208.6 L102.4,208.3 L103.1,208.1 L103.9,207.8 L104.7,207.5 L105.4,207.2 L106.2,207 L107,206.7 L107.8,206.4 L108.5,206.1 L109.3,205.8 L110.1,205.6 L110.8,205.3 L111.6,205 L112.4,204.8 L113.2,204.5 L113.9,204.3 L114.7,204.1 L115.5,203.8 L116.3,203.6 L117,203.5 L117.8,203.3 L118.6,203.2 L119.3,203.1 L120.1,203.1 L120.9,203.2 L121.7,203.3 L122.4,203.5 L123.2,203.8 L124,204.1 L124.7,204.5 L125.5,205 L126.3,205.5 L127.1,206 L127.8,206.6 L128.6,207.1 L129.4,207.7 L130.1,208.3 L130.9,208.8 L131.7,209.3 L132.5,209.8 L133.2,210.3 L134,210.7 L134,244.3 Z" fill="rgb(247,197,197)"/>
<path d="M41.4,244.3 L41.4,224.8 L42.2,224.5 L42.9,224.1 L43.7,223.7 L44.5,223.4 L45.3,223 L46,222.6 L46.8,222.1 L47.6,221.7 L48.3,221.3 L49.1,220.8 L49.9,220.4 L50.7,219.9 L51.4,219.5 L52.2,219 L53,218.5 L53.7,218.1 L54.5,217.6 L55.3,217.2 L56.1,216.7 L56.8,216.3 L57.6,215.8 L58.4,215.4 L59.1,215 L59.9,214.6 L60.7,214.2 L61.5,213.8 L62.2,213.4 L63,213 L63.8,212.6 L64.5,212.3 L65.3,211.9 L66.1,211.5 L66.9,211.1 L67.6,210.7 L68.4,210.3 L69.2,209.9 L70,209.5 L70.7,209.1 L71.5,208.6 L72.3,208.2 L73,207.7 L73.8,207.3 L74.6,206.8 L75.4,206.3 L76.1,205.9 L76.9,205.4 L77.7,205 L78.4,204.5 L79.2,204.1 L80,203.7 L80.8,203.2 L81.5,202.8 L82.3,202.5 L83.1,202.1 L83.8,201.7 L84.6,201.4 L85.4,201 L86.2,200.7 L86.9,200.4 L87.7,200.1 L88.5,199.8 L89.2,199.5 L90,199.3 L90.8,199.1 L91.6,198.8 L92.3,198.6 L93.1,198.4 L93.9,198.3 L94.6,198.1 L95.4,197.9 L96.2,197.8 L97,197.6 L97.7,197.5 L98.5,197.4 L99.3,197.3 L100,197.2 L100.8,197.2 L101.6,197.2 L102.4,197.2 L103.1,197.2 L103.9,197.2 L104.7,197.3 L105.4,197.4 L106.2,197.5 L107,197.6 L107.8,197.8 L108.5,197.9 L109.3,198.1 L110.1,198.3 L110.8,198.5 L111.6,198.7 L112.4,198.9 L113.2,199.2 L113.9,199.4 L114.7,199.7 L115.5,199.9 L116.3,200.2 L117,200.5 L117.8,200.8 L118.6,201.1 L119.3,201.4 L120.1,201.7 L120.9,202 L121.7,202.3 L122.4,202.7 L123.2,203.1 L124,203.4 L124.7,203.8 L125.5,204.3 L126.3,204.7 L127.1,205.1 L127.8,205.6 L128.6,206.1 L129.4,206.6 L130.1,207.1 L130.9,207.7 L131.7,208.3 L132.5,208.9 L133.2,209.5 L134,210.2 L134,244.3 Z" fill="rgb(156,217,222)"/>
<path d="M41.4,244.3 L41.4,224.8 L42.2,224.5 L42.9,224.1 L43.7,223.7 L44.5,223.4 L45.3,223 L46,222.6 L46.8,222.1 L47.6,221.7 L48.3,221.3 L49.1,220.8 L49.9,220.4 L50.7,219.9 L51.4,219.5 L52.2,219 L53,218.5 L53.7,218.1 L54.5,217.6 L55.3,217.2 L56.1,216.7 L56.8,216.3 L57.6,215.8 L58.4,215.4 L59.1,215 L59.9,214.6 L60.7,214.2 L61.5,213.8 L62.2,213.4 L63,213 L63.8,212.6 L64.5,212.3 L65.3,211.9 L66.1,211.5 L66.9,211.1 L67.6,210.7 L68.4,210.3 L69.2,209.9 L70,210.1 L70.7,210.2 L71.5,210.4 L72.3,210.5 L73,210.6 L73.8,210.7 L74.6,210.8 L75.4,210.9 L76.1,211 L76.9,211 L77.7,211.1 L78.4,211.2 L79.2,211.2 L80,211.2 L80.8,211.3 L81.5,211.3 L82.3,211.3 L83.1,211.3 L83.8,211.3 L84.6,211.3 L85.4,211.2 L86.2,211.2 L86.9,211.2 L87.7,211.2 L88.5,211.1 L89.2,211.1 L90,211 L90.8,210.9 L91.6,210.8 L92.3,210.7 L93.1,210.6 L93.9,210.5 L94.6,210.4 L95.4,210.3 L96.2,210.1 L97,209.9 L97.7,209.7 L98.5,209.5 L99.3,209.3 L100,209.1 L100.8,208.8 L101.6,208.6 L102.4,208.3 L103.1,208.1 L103.9,207.8 L104.7,207.5 L105.4,207.2 L106.2,207 L107,206.7 L107.8,206.4 L108.5,206.1 L109.3,205.8 L110.1,205.6 L110.8,205.3 L111.6,205 L112.4,204.8 L113.2,204.5 L113.9,204.3 L114.7,204.1 L115.5,203.8 L116.3,203.6 L117,203.5 L117.8,203.3 L118.6,203.2 L119.3,203.1 L120.1,203.1 L120.9,203.2 L121.7,203.3 L122.4,203.5 L123.2,203.8 L124,204.1 L124.7,204.5 L125.5,205 L126.3,205.5 L127.1,206 L127.8,206.6 L128.6,207.1 L129.4,207.7 L130.1,208.3 L130.9,208.8 L131.7,209.3 L132.5,209.8 L133.2,210.3 L134,210.7 L134,244.3 Z" fill="rgb(150,195,196)"/>
<path d="M41.4,211.15 L42.2,210.8 L42.9,210.5 L43.7,210.2 L44.5,209.9 L45.3,209.7 L46,209.4 L46.8,209.2 L47.6,209 L48.3,208.8 L49.1,208.6 L49.9,208.4 L50.7,208.2 L51.4,208 L52.2,207.8 L53,207.7 L53.7,207.6 L54.5,207.5 L55.3,207.4 L56.1,207.5 L56.8,207.6 L57.6,207.7 L58.4,207.9 L59.1,208.1 L59.9,208.2 L60.7,208.4 L61.5,208.5 L62.2,208.6 L63,208.7 L63.8,208.8 L64.5,209 L65.3,209.1 L66.1,209.3 L66.9,209.4 L67.6,209.6 L68.4,209.8 L69.2,209.9 L70,210.1 L70.7,210.2 L71.5,210.4 L72.3,210.5 L73,210.6 L73.8,210.7 L74.6,210.8 L75.4,210.9 L76.1,211 L76.9,211 L77.7,211.1 L78.4,211.2 L79.2,211.2 L80,211.2 L80.8,211.3 L81.5,211.3 L82.3,211.3 L83.1,211.3 L83.8,211.3 L84.6,211.3 L85.4,211.2 L86.2,211.2 L86.9,211.2 L87.7,211.2 L88.5,211.1 L89.2,211.1 L90,211 L90.8,210.9 L91.6,210.8 L92.3,210.7 L93.1,210.6 L93.9,210.5 L94.6,210.4 L95.4,210.3 L96.2,210.1 L97,209.9 L97.7,209.7 L98.5,209.5 L99.3,209.3 L100,209.1 L100.8,208.8 L101.6,208.6 L102.4,208.3 L103.1,208.1 L103.9,207.8 L104.7,207.5 L105.4,207.2 L106.2,207 L107,206.7 L107.8,206.4 L108.5,206.1 L109.3,205.8 L110.1,205.6 L110.8,205.3 L111.6,205 L112.4,204.8 L113.2,204.5 L113.9,204.3 L114.7,204.1 L115.5,203.8 L116.3,203.6 L117,203.5 L117.8,203.3 L118.6,203.2 L119.3,203.1 L120.1,203.1 L120.9,203.2 L121.7,203.3 L122.4,203.5 L123.2,203.8 L124,204.1 L124.7,204.5 L125.5,205 L126.3,205.5 L127.1,206 L127.8,206.6 L128.6,207.1 L129.4,207.7 L130.1,208.3 L130.9,208.8 L131.7,209.3 L132.5,209.8 L133.2,210.3 L134,210.7" fill="none" stroke="#3a3a3a" stroke-width="0.9"/>
<path d="M41.4,224.8 L42.2,224.5 L42.9,224.1 L43.7,223.7 L44.5,223.4 L45.3,223 L46,222.6 L46.8,222.1 L47.6,221.7 L48.3,221.3 L49.1,220.8 L49.9,220.4 L50.7,219.9 L51.4,219.5 L52.2,219 L53,218.5 L53.7,218.1 L54.5,217.6 L55.3,217.2 L56.1,216.7 L56.8,216.3 L57.6,215.8 L58.4,215.4 L59.1,215 L59.9,214.6 L60.7,214.2 L61.5,213.8 L62.2,213.4 L63,213 L63.8,212.6 L64.5,212.3 L65.3,211.9 L66.1,211.5 L66.9,211.1 L67.6,210.7 L68.4,210.3 L69.2,209.9 L70,209.5 L70.7,209.1 L71.5,208.6 L72.3,208.2 L73,207.7 L73.8,207.3 L74.6,206.8 L75.4,206.3 L76.1,205.9 L76.9,205.4 L77.7,205 L78.4,204.5 L79.2,204.1 L80,203.7 L80.8,203.2 L81.5,202.8 L82.3,202.5 L83.1,202.1 L83.8,201.7 L84.6,201.4 L85.4,201 L86.2,200.7 L86.9,200.4 L87.7,200.1 L88.5,199.8 L89.2,199.5 L90,199.3 L90.8,199.1 L91.6,198.8 L92.3,198.6 L93.1,198.4 L93.9,198.3 L94.6,198.1 L95.4,197.9 L96.2,197.8 L97,197.6 L97.7,197.5 L98.5,197.4 L99.3,197.3 L100,197.2 L100.8,197.2 L101.6,197.2 L102.4,197.2 L103.1,197.2 L103.9,197.2 L104.7,197.3 L105.4,197.4 L106.2,197.5 L107,197.6 L107.8,197.8 L108.5,197.9 L109.3,198.1 L110.1,198.3 L110.8,198.5 L111.6,198.7 L112.4,198.9 L113.2,199.2 L113.9,199.4 L114.7,199.7 L115.5,199.9 L116.3,200.2 L117,200.5 L117.8,200.8 L118.6,201.1 L119.3,201.4 L120.1,201.7 L120.9,202 L121.7,202.3 L122.4,202.7 L123.2,203.1 L124,203.4 L124.7,203.8 L125.5,204.3 L126.3,204.7 L127.1,205.1 L127.8,205.6 L128.6,206.1 L129.4,206.6 L130.1,207.1 L130.9,207.7 L131.7,208.3 L132.5,208.9 L133.2,209.5 L134,210.2" fill="none" stroke="#3a3a3a" stroke-width="0.9"/>
<rect x="37.5" y="142.5" width="101" height="107.1" fill="none" stroke="#111" stroke-width="1.5"/>
<line x1="33.9" y1="244.3" x2="37.5" y2="244.3" stroke="#555" stroke-width="0.8"/>
<text x="33.5" y="247.4" class="tk" text-anchor="end">0.00</text>
<line x1="33.9" y1="219.93" x2="37.5" y2="219.93" stroke="#555" stroke-width="0.8"/>
<text x="33.5" y="223.03" class="tk" text-anchor="end">0.05</text>
<line x1="33.9" y1="195.55" x2="37.5" y2="195.55" stroke="#555" stroke-width="0.8"/>
<text x="33.5" y="198.65" class="tk" text-anchor="end">0.10</text>
<line x1="33.9" y1="171.18" x2="37.5" y2="171.18" stroke="#555" stroke-width="0.8"/>
<text x="33.5" y="174.28" class="tk" text-anchor="end">0.15</text>
<line x1="33.9" y1="146.8" x2="37.5" y2="146.8" stroke="#555" stroke-width="0.8"/>
<text x="33.5" y="149.9" class="tk" text-anchor="end">0.20</text>
<line x1="41.4" y1="249.6" x2="41.4" y2="252.6" stroke="#777" stroke-width="0.8"/>
<text x="41.4" y="258.8" class="tk" text-anchor="middle">0.0</text>
<line x1="64.55" y1="249.6" x2="64.55" y2="252.6" stroke="#777" stroke-width="0.8"/>
<text x="64.55" y="258.8" class="tk" text-anchor="middle">2.5</text>
<line x1="87.7" y1="249.6" x2="87.7" y2="252.6" stroke="#777" stroke-width="0.8"/>
<text x="87.7" y="258.8" class="tk" text-anchor="middle">5.0</text>
<line x1="110.85" y1="249.6" x2="110.85" y2="252.6" stroke="#777" stroke-width="0.8"/>
<text x="110.85" y="258.8" class="tk" text-anchor="middle">7.5</text>
<line x1="134" y1="249.6" x2="134" y2="252.6" stroke="#777" stroke-width="0.8"/>
<text x="134" y="258.8" class="tk" text-anchor="middle">10.0</text>
<text transform="translate(17.5,196.05) rotate(-90)" class="dl" text-anchor="middle">Density</text>
<text x="87.8" y="159.6" class="ti" text-anchor="middle">Disturbed sleep</text>
<line x1="52.73" y1="160.9" x2="122.87" y2="160.9" stroke="#222" stroke-width="0.9"/>
<text x="43.9" y="184.9" class="pv"><tspan font-style="italic">P</tspan> = 0.254</text>
<path d="M173.9,245.3 L173.9,190.2 L174.7,189.9 L175.5,189.6 L176.2,189.4 L177,189.2 L177.8,189 L178.6,189 L179.3,188.9 L180.1,188.9 L180.9,189 L181.7,189.2 L182.5,189.4 L183.2,189.7 L184,190 L184.8,190.5 L185.6,191 L186.3,191.5 L187.1,192.2 L187.9,192.9 L188.7,193.6 L189.4,194.5 L190.2,195.4 L191,196.3 L191.8,197.3 L192.6,198.3 L193.3,199.3 L194.1,200.3 L194.9,201.4 L195.7,202.4 L196.4,203.4 L197.2,204.4 L198,205.3 L198.8,206.2 L199.6,207 L200.3,207.8 L201.1,208.6 L201.9,209.3 L202.7,210 L203.4,210.6 L204.2,211.2 L205,211.8 L205.8,212.4 L206.6,212.9 L207.3,213.4 L208.1,213.9 L208.9,214.3 L209.7,214.7 L210.4,215.1 L211.2,215.4 L212,215.7 L212.8,216 L213.6,216.3 L214.3,216.5 L215.1,216.8 L215.9,217 L216.7,217.2 L217.4,217.3 L218.2,217.5 L219,217.6 L219.8,217.7 L220.6,217.9 L221.3,218 L222.1,218.1 L222.9,218.1 L223.7,218.2 L224.4,218.3 L225.2,218.3 L226,218.4 L226.8,218.4 L227.5,218.4 L228.3,218.4 L229.1,218.4 L229.9,218.4 L230.7,218.3 L231.4,218.3 L232.2,218.2 L233,218.1 L233.8,218 L234.5,217.9 L235.3,217.8 L236.1,217.8 L236.9,217.7 L237.7,217.6 L238.4,217.5 L239.2,217.4 L240,217.3 L240.8,217.2 L241.5,217.1 L242.3,217.1 L243.1,217 L243.9,217 L244.7,217 L245.4,217 L246.2,217 L247,217 L247.8,217.1 L248.5,217.1 L249.3,217.2 L250.1,217.3 L250.9,217.5 L251.6,217.6 L252.4,217.8 L253.2,218 L254,218.2 L254.8,218.5 L255.5,218.7 L256.3,219 L257.1,219.3 L257.9,219.6 L258.6,219.9 L259.4,220.2 L260.2,220.5 L261,220.9 L261.8,221.2 L262.5,221.6 L263.3,221.9 L264.1,222.3 L264.9,222.6 L265.6,223 L266.4,223.4 L267.2,223.7 L267.2,245.3 Z" fill="rgb(247,197,197)"/>
<path d="M173.9,245.3 L173.9,208.1 L174.7,207.6 L175.5,207.2 L176.2,206.8 L177,206.5 L177.8,206.1 L178.6,205.8 L179.3,205.5 L180.1,205.3 L180.9,205 L181.7,204.8 L182.5,204.6 L183.2,204.4 L184,204.2 L184.8,204 L185.6,203.9 L186.3,203.8 L187.1,203.7 L187.9,203.6 L188.7,203.5 L189.4,203.4 L190.2,203.3 L191,203.3 L191.8,203.2 L192.6,203.2 L193.3,203.1 L194.1,203.1 L194.9,203.1 L195.7,203.1 L196.4,203.1 L197.2,203.1 L198,203.1 L198.8,203.1 L199.6,203.1 L200.3,203.1 L201.1,203.1 L201.9,203.2 L202.7,203.2 L203.4,203.2 L204.2,203.3 L205,203.3 L205.8,203.4 L206.6,203.4 L207.3,203.5 L208.1,203.6 L208.9,203.6 L209.7,203.7 L210.4,203.8 L211.2,203.9 L212,204 L212.8,204.1 L213.6,204.2 L214.3,204.3 L215.1,204.5 L215.9,204.6 L216.7,204.8 L217.4,204.9 L218.2,205.1 L219,205.2 L219.8,205.4 L220.6,205.6 L221.3,205.8 L222.1,206 L222.9,206.2 L223.7,206.4 L224.4,206.7 L225.2,206.9 L226,207.1 L226.8,207.4 L227.5,207.7 L228.3,208 L229.1,208.2 L229.9,208.6 L230.7,208.9 L231.4,209.2 L232.2,209.5 L233,209.9 L233.8,210.2 L234.5,210.6 L235.3,211 L236.1,211.4 L236.9,211.8 L237.7,212.2 L238.4,212.6 L239.2,213 L240,213.4 L240.8,213.8 L241.5,214.2 L242.3,214.6 L243.1,215 L243.9,215.4 L244.7,215.8 L245.4,216.2 L246.2,216.7 L247,217.1 L247.8,217.5 L248.5,217.9 L249.3,218.3 L250.1,218.6 L250.9,219 L251.6,219.4 L252.4,219.8 L253.2,220.2 L254,220.5 L254.8,220.9 L255.5,221.2 L256.3,221.6 L257.1,221.9 L257.9,222.3 L258.6,222.6 L259.4,222.9 L260.2,223.2 L261,223.5 L261.8,223.8 L262.5,224.1 L263.3,224.4 L264.1,224.7 L264.9,225 L265.6,225.2 L266.4,225.5 L267.2,225.7 L267.2,245.3 Z" fill="rgb(156,217,222)"/>
<path d="M173.9,245.3 L173.9,208.1 L174.7,207.6 L175.5,207.2 L176.2,206.8 L177,206.5 L177.8,206.1 L178.6,205.8 L179.3,205.5 L180.1,205.3 L180.9,205 L181.7,204.8 L182.5,204.6 L183.2,204.4 L184,204.2 L184.8,204 L185.6,203.9 L186.3,203.8 L187.1,203.7 L187.9,203.6 L188.7,203.5 L189.4,203.4 L190.2,203.3 L191,203.3 L191.8,203.2 L192.6,203.2 L193.3,203.1 L194.1,203.1 L194.9,203.1 L195.7,203.1 L196.4,203.4 L197.2,204.4 L198,205.3 L198.8,206.2 L199.6,207 L200.3,207.8 L201.1,208.6 L201.9,209.3 L202.7,210 L203.4,210.6 L204.2,211.2 L205,211.8 L205.8,212.4 L206.6,212.9 L207.3,213.4 L208.1,213.9 L208.9,214.3 L209.7,214.7 L210.4,215.1 L211.2,215.4 L212,215.7 L212.8,216 L213.6,216.3 L214.3,216.5 L215.1,216.8 L215.9,217 L216.7,217.2 L217.4,217.3 L218.2,217.5 L219,217.6 L219.8,217.7 L220.6,217.9 L221.3,218 L222.1,218.1 L222.9,218.1 L223.7,218.2 L224.4,218.3 L225.2,218.3 L226,218.4 L226.8,218.4 L227.5,218.4 L228.3,218.4 L229.1,218.4 L229.9,218.4 L230.7,218.3 L231.4,218.3 L232.2,218.2 L233,218.1 L233.8,218 L234.5,217.9 L235.3,217.8 L236.1,217.8 L236.9,217.7 L237.7,217.6 L238.4,217.5 L239.2,217.4 L240,217.3 L240.8,217.2 L241.5,217.1 L242.3,217.1 L243.1,217 L243.9,217 L244.7,217 L245.4,217 L246.2,217 L247,217.1 L247.8,217.5 L248.5,217.9 L249.3,218.3 L250.1,218.6 L250.9,219 L251.6,219.4 L252.4,219.8 L253.2,220.2 L254,220.5 L254.8,220.9 L255.5,221.2 L256.3,221.6 L257.1,221.9 L257.9,222.3 L258.6,222.6 L259.4,222.9 L260.2,223.2 L261,223.5 L261.8,223.8 L262.5,224.1 L263.3,224.4 L264.1,224.7 L264.9,225 L265.6,225.2 L266.4,225.5 L267.2,225.7 L267.2,245.3 Z" fill="rgb(150,195,196)"/>
<path d="M173.9,190.18 L174.7,189.9 L175.5,189.6 L176.2,189.4 L177,189.2 L177.8,189 L178.6,189 L179.3,188.9 L180.1,188.9 L180.9,189 L181.7,189.2 L182.5,189.4 L183.2,189.7 L184,190 L184.8,190.5 L185.6,191 L186.3,191.5 L187.1,192.2 L187.9,192.9 L188.7,193.6 L189.4,194.5 L190.2,195.4 L191,196.3 L191.8,197.3 L192.6,198.3 L193.3,199.3 L194.1,200.3 L194.9,201.4 L195.7,202.4 L196.4,203.4 L197.2,204.4 L198,205.3 L198.8,206.2 L199.6,207 L200.3,207.8 L201.1,208.6 L201.9,209.3 L202.7,210 L203.4,210.6 L204.2,211.2 L205,211.8 L205.8,212.4 L206.6,212.9 L207.3,213.4 L208.1,213.9 L208.9,214.3 L209.7,214.7 L210.4,215.1 L211.2,215.4 L212,215.7 L212.8,216 L213.6,216.3 L214.3,216.5 L215.1,216.8 L215.9,217 L216.7,217.2 L217.4,217.3 L218.2,217.5 L219,217.6 L219.8,217.7 L220.6,217.9 L221.3,218 L222.1,218.1 L222.9,218.1 L223.7,218.2 L224.4,218.3 L225.2,218.3 L226,218.4 L226.8,218.4 L227.5,218.4 L228.3,218.4 L229.1,218.4 L229.9,218.4 L230.7,218.3 L231.4,218.3 L232.2,218.2 L233,218.1 L233.8,218 L234.5,217.9 L235.3,217.8 L236.1,217.8 L236.9,217.7 L237.7,217.6 L238.4,217.5 L239.2,217.4 L240,217.3 L240.8,217.2 L241.5,217.1 L242.3,217.1 L243.1,217 L243.9,217 L244.7,217 L245.4,217 L246.2,217 L247,217 L247.8,217.1 L248.5,217.1 L249.3,217.2 L250.1,217.3 L250.9,217.5 L251.6,217.6 L252.4,217.8 L253.2,218 L254,218.2 L254.8,218.5 L255.5,218.7 L256.3,219 L257.1,219.3 L257.9,219.6 L258.6,219.9 L259.4,220.2 L260.2,220.5 L261,220.9 L261.8,221.2 L262.5,221.6 L263.3,221.9 L264.1,222.3 L264.9,222.6 L265.6,223 L266.4,223.4 L267.2,223.7" fill="none" stroke="#3a3a3a" stroke-width="0.9"/>
<path d="M173.9,208.06 L174.7,207.6 L175.5,207.2 L176.2,206.8 L177,206.5 L177.8,206.1 L178.6,205.8 L179.3,205.5 L180.1,205.3 L180.9,205 L181.7,204.8 L182.5,204.6 L183.2,204.4 L184,204.2 L184.8,204 L185.6,203.9 L186.3,203.8 L187.1,203.7 L187.9,203.6 L188.7,203.5 L189.4,203.4 L190.2,203.3 L191,203.3 L191.8,203.2 L192.6,203.2 L193.3,203.1 L194.1,203.1 L194.9,203.1 L195.7,203.1 L196.4,203.1 L197.2,203.1 L198,203.1 L198.8,203.1 L199.6,203.1 L200.3,203.1 L201.1,203.1 L201.9,203.2 L202.7,203.2 L203.4,203.2 L204.2,203.3 L205,203.3 L205.8,203.4 L206.6,203.4 L207.3,203.5 L208.1,203.6 L208.9,203.6 L209.7,203.7 L210.4,203.8 L211.2,203.9 L212,204 L212.8,204.1 L213.6,204.2 L214.3,204.3 L215.1,204.5 L215.9,204.6 L216.7,204.8 L217.4,204.9 L218.2,205.1 L219,205.2 L219.8,205.4 L220.6,205.6 L221.3,205.8 L222.1,206 L222.9,206.2 L223.7,206.4 L224.4,206.7 L225.2,206.9 L226,207.1 L226.8,207.4 L227.5,207.7 L228.3,208 L229.1,208.2 L229.9,208.6 L230.7,208.9 L231.4,209.2 L232.2,209.5 L233,209.9 L233.8,210.2 L234.5,210.6 L235.3,211 L236.1,211.4 L236.9,211.8 L237.7,212.2 L238.4,212.6 L239.2,213 L240,213.4 L240.8,213.8 L241.5,214.2 L242.3,214.6 L243.1,215 L243.9,215.4 L244.7,215.8 L245.4,216.2 L246.2,216.7 L247,217.1 L247.8,217.5 L248.5,217.9 L249.3,218.3 L250.1,218.6 L250.9,219 L251.6,219.4 L252.4,219.8 L253.2,220.2 L254,220.5 L254.8,220.9 L255.5,221.2 L256.3,221.6 L257.1,221.9 L257.9,222.3 L258.6,222.6 L259.4,222.9 L260.2,223.2 L261,223.5 L261.8,223.8 L262.5,224.1 L263.3,224.4 L264.1,224.7 L264.9,225 L265.6,225.2 L266.4,225.5 L267.2,225.7" fill="none" stroke="#3a3a3a" stroke-width="0.9"/>
<rect x="169.5" y="142.5" width="101.5" height="107.1" fill="none" stroke="#111" stroke-width="1.5"/>
<line x1="165.9" y1="245.3" x2="169.5" y2="245.3" stroke="#555" stroke-width="0.8"/>
<text x="165.5" y="248.4" class="tk" text-anchor="end">0.00</text>
<line x1="165.9" y1="220.8" x2="169.5" y2="220.8" stroke="#555" stroke-width="0.8"/>
<text x="165.5" y="223.9" class="tk" text-anchor="end">0.05</text>
<line x1="165.9" y1="196.3" x2="169.5" y2="196.3" stroke="#555" stroke-width="0.8"/>
<text x="165.5" y="199.4" class="tk" text-anchor="end">0.10</text>
<line x1="165.9" y1="171.8" x2="169.5" y2="171.8" stroke="#555" stroke-width="0.8"/>
<text x="165.5" y="174.9" class="tk" text-anchor="end">0.15</text>
<line x1="165.9" y1="147.3" x2="169.5" y2="147.3" stroke="#555" stroke-width="0.8"/>
<text x="165.5" y="150.4" class="tk" text-anchor="end">0.20</text>
<line x1="173.9" y1="249.6" x2="173.9" y2="252.6" stroke="#777" stroke-width="0.8"/>
<text x="173.9" y="258.8" class="tk" text-anchor="middle">0.0</text>
<line x1="197.22" y1="249.6" x2="197.22" y2="252.6" stroke="#777" stroke-width="0.8"/>
<text x="197.22" y="258.8" class="tk" text-anchor="middle">2.5</text>
<line x1="220.55" y1="249.6" x2="220.55" y2="252.6" stroke="#777" stroke-width="0.8"/>
<text x="220.55" y="258.8" class="tk" text-anchor="middle">5.0</text>
<line x1="243.88" y1="249.6" x2="243.88" y2="252.6" stroke="#777" stroke-width="0.8"/>
<text x="243.88" y="258.8" class="tk" text-anchor="middle">7.5</text>
<line x1="267.2" y1="249.6" x2="267.2" y2="252.6" stroke="#777" stroke-width="0.8"/>
<text x="267.2" y="258.8" class="tk" text-anchor="middle">10.0</text>
<text transform="translate(149.5,196.05) rotate(-90)" class="dl" text-anchor="middle">Density</text>
<text x="221.6" y="161.5" class="ti" text-anchor="middle">Distressed (upset)</text>
<line x1="180.81" y1="162.8" x2="262.39" y2="162.8" stroke="#222" stroke-width="0.9"/>
<text x="220" y="184.9" class="pv"><tspan font-style="italic">P</tspan> = 0.236</text>
<path d="M306.2,245.3 L306.2,179.2 L307,178.7 L307.8,178.3 L308.5,178.2 L309.3,178.2 L310.1,178.3 L310.9,178.7 L311.6,179.2 L312.4,179.8 L313.2,180.5 L314,181.4 L314.7,182.2 L315.5,183.2 L316.3,184.1 L317.1,185 L317.8,186 L318.6,186.9 L319.4,187.9 L320.2,189 L321,190.2 L321.7,191.5 L322.5,192.9 L323.3,194.4 L324.1,195.8 L324.8,197.3 L325.6,198.7 L326.4,200.1 L327.2,201.4 L327.9,202.7 L328.7,204 L329.5,205.2 L330.3,206.3 L331.1,207.4 L331.8,208.4 L332.6,209.4 L333.4,210.2 L334.2,211 L334.9,211.7 L335.7,212.3 L336.5,212.9 L337.3,213.5 L338,214.1 L338.8,214.7 L339.6,215.2 L340.4,215.8 L341.1,216.3 L341.9,216.9 L342.7,217.4 L343.5,217.8 L344.3,218.3 L345,218.7 L345.8,219.1 L346.6,219.4 L347.4,219.7 L348.1,219.9 L348.9,220.2 L349.7,220.4 L350.5,220.6 L351.2,220.7 L352,220.9 L352.8,221 L353.6,221.2 L354.4,221.4 L355.1,221.5 L355.9,221.7 L356.7,221.8 L357.5,222 L358.2,222.1 L359,222.2 L359.8,222.4 L360.6,222.5 L361.3,222.6 L362.1,222.8 L362.9,222.9 L363.7,223 L364.4,223.1 L365.2,223.2 L366,223.3 L366.8,223.4 L367.6,223.5 L368.3,223.6 L369.1,223.7 L369.9,223.8 L370.7,223.9 L371.4,224 L372.2,224.1 L373,224.2 L373.8,224.3 L374.5,224.3 L375.3,224.4 L376.1,224.5 L376.9,224.6 L377.7,224.7 L378.4,224.9 L379.2,225 L380,225.1 L380.8,225.2 L381.5,225.3 L382.3,225.5 L383.1,225.6 L383.9,225.8 L384.6,225.9 L385.4,226.1 L386.2,226.3 L387,226.4 L387.8,226.6 L388.5,226.8 L389.3,227 L390.1,227.2 L390.9,227.4 L391.6,227.6 L392.4,227.8 L393.2,228 L394,228.2 L394.7,228.4 L395.5,228.6 L396.3,228.8 L397.1,229 L397.8,229.2 L398.6,229.4 L399.4,229.6 L399.4,245.3 Z" fill="rgb(247,197,197)"/>
<path d="M306.2,245.3 L306.2,215.9 L307,215.4 L307.8,214.9 L308.5,214.5 L309.3,214.1 L310.1,213.7 L310.9,213.3 L311.6,213 L312.4,212.7 L313.2,212.4 L314,212.2 L314.7,211.9 L315.5,211.7 L316.3,211.5 L317.1,211.4 L317.8,211.2 L318.6,211.1 L319.4,211 L320.2,210.9 L321,210.8 L321.7,210.7 L322.5,210.7 L323.3,210.6 L324.1,210.5 L324.8,210.5 L325.6,210.5 L326.4,210.4 L327.2,210.4 L327.9,210.4 L328.7,210.4 L329.5,210.3 L330.3,210.3 L331.1,210.3 L331.8,210.2 L332.6,210.2 L333.4,210.1 L334.2,210 L334.9,209.9 L335.7,209.8 L336.5,209.7 L337.3,209.6 L338,209.4 L338.8,209.2 L339.6,209.1 L340.4,208.9 L341.1,208.7 L341.9,208.5 L342.7,208.3 L343.5,208.1 L344.3,207.8 L345,207.6 L345.8,207.4 L346.6,207.1 L347.4,206.9 L348.1,206.6 L348.9,206.4 L349.7,206.1 L350.5,205.9 L351.2,205.6 L352,205.4 L352.8,205.1 L353.6,204.9 L354.4,204.6 L355.1,204.4 L355.9,204.1 L356.7,203.9 L357.5,203.7 L358.2,203.4 L359,203.2 L359.8,203 L360.6,202.8 L361.3,202.6 L362.1,202.4 L362.9,202.2 L363.7,202.1 L364.4,201.9 L365.2,201.8 L366,201.6 L366.8,201.5 L367.6,201.4 L368.3,201.3 L369.1,201.3 L369.9,201.2 L370.7,201.2 L371.4,201.2 L372.2,201.2 L373,201.3 L373.8,201.3 L374.5,201.4 L375.3,201.5 L376.1,201.7 L376.9,201.8 L377.7,202 L378.4,202.3 L379.2,202.5 L380,202.8 L380.8,203.2 L381.5,203.5 L382.3,203.9 L383.1,204.3 L383.9,204.8 L384.6,205.3 L385.4,205.8 L386.2,206.3 L387,206.9 L387.8,207.4 L388.5,208 L389.3,208.6 L390.1,209.3 L390.9,209.9 L391.6,210.6 L392.4,211.3 L393.2,212 L394,212.7 L394.7,213.4 L395.5,214.1 L396.3,214.9 L397.1,215.6 L397.8,216.4 L398.6,217.1 L399.4,217.9 L399.4,245.3 Z" fill="rgb(156,217,222)"/>
<path d="M306.2,245.3 L306.2,215.9 L307,215.4 L307.8,214.9 L308.5,214.5 L309.3,214.1 L310.1,213.7 L310.9,213.3 L311.6,213 L312.4,212.7 L313.2,212.4 L314,212.2 L314.7,211.9 L315.5,211.7 L316.3,211.5 L317.1,211.4 L317.8,211.2 L318.6,211.1 L319.4,211 L320.2,210.9 L321,210.8 L321.7,210.7 L322.5,210.7 L323.3,210.6 L324.1,210.5 L324.8,210.5 L325.6,210.5 L326.4,210.4 L327.2,210.4 L327.9,210.4 L328.7,210.4 L329.5,210.3 L330.3,210.3 L331.1,210.3 L331.8,210.2 L332.6,210.2 L333.4,210.2 L334.2,211 L334.9,211.7 L335.7,212.3 L336.5,212.9 L337.3,213.5 L338,214.1 L338.8,214.7 L339.6,215.2 L340.4,215.8 L341.1,216.3 L341.9,216.9 L342.7,217.4 L343.5,217.8 L344.3,218.3 L345,218.7 L345.8,219.1 L346.6,219.4 L347.4,219.7 L348.1,219.9 L348.9,220.2 L349.7,220.4 L350.5,220.6 L351.2,220.7 L352,220.9 L352.8,221 L353.6,221.2 L354.4,221.4 L355.1,221.5 L355.9,221.7 L356.7,221.8 L357.5,222 L358.2,222.1 L359,222.2 L359.8,222.4 L360.6,222.5 L361.3,222.6 L362.1,222.8 L362.9,222.9 L363.7,223 L364.4,223.1 L365.2,223.2 L366,223.3 L366.8,223.4 L367.6,223.5 L368.3,223.6 L369.1,223.7 L369.9,223.8 L370.7,223.9 L371.4,224 L372.2,224.1 L373,224.2 L373.8,224.3 L374.5,224.3 L375.3,224.4 L376.1,224.5 L376.9,224.6 L377.7,224.7 L378.4,224.9 L379.2,225 L380,225.1 L380.8,225.2 L381.5,225.3 L382.3,225.5 L383.1,225.6 L383.9,225.8 L384.6,225.9 L385.4,226.1 L386.2,226.3 L387,226.4 L387.8,226.6 L388.5,226.8 L389.3,227 L390.1,227.2 L390.9,227.4 L391.6,227.6 L392.4,227.8 L393.2,228 L394,228.2 L394.7,228.4 L395.5,228.6 L396.3,228.8 L397.1,229 L397.8,229.2 L398.6,229.4 L399.4,229.6 L399.4,245.3 Z" fill="rgb(150,195,196)"/>
<path d="M306.2,179.15 L307,178.7 L307.8,178.3 L308.5,178.2 L309.3,178.2 L310.1,178.3 L310.9,178.7 L311.6,179.2 L312.4,179.8 L313.2,180.5 L314,181.4 L314.7,182.2 L315.5,183.2 L316.3,184.1 L317.1,185 L317.8,186 L318.6,186.9 L319.4,187.9 L320.2,189 L321,190.2 L321.7,191.5 L322.5,192.9 L323.3,194.4 L324.1,195.8 L324.8,197.3 L325.6,198.7 L326.4,200.1 L327.2,201.4 L327.9,202.7 L328.7,204 L329.5,205.2 L330.3,206.3 L331.1,207.4 L331.8,208.4 L332.6,209.4 L333.4,210.2 L334.2,211 L334.9,211.7 L335.7,212.3 L336.5,212.9 L337.3,213.5 L338,214.1 L338.8,214.7 L339.6,215.2 L340.4,215.8 L341.1,216.3 L341.9,216.9 L342.7,217.4 L343.5,217.8 L344.3,218.3 L345,218.7 L345.8,219.1 L346.6,219.4 L347.4,219.7 L348.1,219.9 L348.9,220.2 L349.7,220.4 L350.5,220.6 L351.2,220.7 L352,220.9 L352.8,221 L353.6,221.2 L354.4,221.4 L355.1,221.5 L355.9,221.7 L356.7,221.8 L357.5,222 L358.2,222.1 L359,222.2 L359.8,222.4 L360.6,222.5 L361.3,222.6 L362.1,222.8 L362.9,222.9 L363.7,223 L364.4,223.1 L365.2,223.2 L366,223.3 L366.8,223.4 L367.6,223.5 L368.3,223.6 L369.1,223.7 L369.9,223.8 L370.7,223.9 L371.4,224 L372.2,224.1 L373,224.2 L373.8,224.3 L374.5,224.3 L375.3,224.4 L376.1,224.5 L376.9,224.6 L377.7,224.7 L378.4,224.9 L379.2,225 L380,225.1 L380.8,225.2 L381.5,225.3 L382.3,225.5 L383.1,225.6 L383.9,225.8 L384.6,225.9 L385.4,226.1 L386.2,226.3 L387,226.4 L387.8,226.6 L388.5,226.8 L389.3,227 L390.1,227.2 L390.9,227.4 L391.6,227.6 L392.4,227.8 L393.2,228 L394,228.2 L394.7,228.4 L395.5,228.6 L396.3,228.8 L397.1,229 L397.8,229.2 L398.6,229.4 L399.4,229.6" fill="none" stroke="#3a3a3a" stroke-width="0.9"/>
<path d="M306.2,215.9 L307,215.4 L307.8,214.9 L308.5,214.5 L309.3,214.1 L310.1,213.7 L310.9,213.3 L311.6,213 L312.4,212.7 L313.2,212.4 L314,212.2 L314.7,211.9 L315.5,211.7 L316.3,211.5 L317.1,211.4 L317.8,211.2 L318.6,211.1 L319.4,211 L320.2,210.9 L321,210.8 L321.7,210.7 L322.5,210.7 L323.3,210.6 L324.1,210.5 L324.8,210.5 L325.6,210.5 L326.4,210.4 L327.2,210.4 L327.9,210.4 L328.7,210.4 L329.5,210.3 L330.3,210.3 L331.1,210.3 L331.8,210.2 L332.6,210.2 L333.4,210.1 L334.2,210 L334.9,209.9 L335.7,209.8 L336.5,209.7 L337.3,209.6 L338,209.4 L338.8,209.2 L339.6,209.1 L340.4,208.9 L341.1,208.7 L341.9,208.5 L342.7,208.3 L343.5,208.1 L344.3,207.8 L345,207.6 L345.8,207.4 L346.6,207.1 L347.4,206.9 L348.1,206.6 L348.9,206.4 L349.7,206.1 L350.5,205.9 L351.2,205.6 L352,205.4 L352.8,205.1 L353.6,204.9 L354.4,204.6 L355.1,204.4 L355.9,204.1 L356.7,203.9 L357.5,203.7 L358.2,203.4 L359,203.2 L359.8,203 L360.6,202.8 L361.3,202.6 L362.1,202.4 L362.9,202.2 L363.7,202.1 L364.4,201.9 L365.2,201.8 L366,201.6 L366.8,201.5 L367.6,201.4 L368.3,201.3 L369.1,201.3 L369.9,201.2 L370.7,201.2 L371.4,201.2 L372.2,201.2 L373,201.3 L373.8,201.3 L374.5,201.4 L375.3,201.5 L376.1,201.7 L376.9,201.8 L377.7,202 L378.4,202.3 L379.2,202.5 L380,202.8 L380.8,203.2 L381.5,203.5 L382.3,203.9 L383.1,204.3 L383.9,204.8 L384.6,205.3 L385.4,205.8 L386.2,206.3 L387,206.9 L387.8,207.4 L388.5,208 L389.3,208.6 L390.1,209.3 L390.9,209.9 L391.6,210.6 L392.4,211.3 L393.2,212 L394,212.7 L394.7,213.4 L395.5,214.1 L396.3,214.9 L397.1,215.6 L397.8,216.4 L398.6,217.1 L399.4,217.9" fill="none" stroke="#3a3a3a" stroke-width="0.9"/>
<rect x="301.8" y="142.5" width="101.7" height="107.1" fill="none" stroke="#111" stroke-width="1.5"/>
<line x1="298.2" y1="245.3" x2="301.8" y2="245.3" stroke="#555" stroke-width="0.8"/>
<text x="297.8" y="248.4" class="tk" text-anchor="end">0.00</text>
<line x1="298.2" y1="220.8" x2="301.8" y2="220.8" stroke="#555" stroke-width="0.8"/>
<text x="297.8" y="223.9" class="tk" text-anchor="end">0.05</text>
<line x1="298.2" y1="196.3" x2="301.8" y2="196.3" stroke="#555" stroke-width="0.8"/>
<text x="297.8" y="199.4" class="tk" text-anchor="end">0.10</text>
<line x1="298.2" y1="171.8" x2="301.8" y2="171.8" stroke="#555" stroke-width="0.8"/>
<text x="297.8" y="174.9" class="tk" text-anchor="end">0.15</text>
<line x1="298.2" y1="147.3" x2="301.8" y2="147.3" stroke="#555" stroke-width="0.8"/>
<text x="297.8" y="150.4" class="tk" text-anchor="end">0.20</text>
<line x1="306.2" y1="249.6" x2="306.2" y2="252.6" stroke="#777" stroke-width="0.8"/>
<text x="306.2" y="258.8" class="tk" text-anchor="middle">0.0</text>
<line x1="329.5" y1="249.6" x2="329.5" y2="252.6" stroke="#777" stroke-width="0.8"/>
<text x="329.5" y="258.8" class="tk" text-anchor="middle">2.5</text>
<line x1="352.8" y1="249.6" x2="352.8" y2="252.6" stroke="#777" stroke-width="0.8"/>
<text x="352.8" y="258.8" class="tk" text-anchor="middle">5.0</text>
<line x1="376.1" y1="249.6" x2="376.1" y2="252.6" stroke="#777" stroke-width="0.8"/>
<text x="376.1" y="258.8" class="tk" text-anchor="middle">7.5</text>
<line x1="399.4" y1="249.6" x2="399.4" y2="252.6" stroke="#777" stroke-width="0.8"/>
<text x="399.4" y="258.8" class="tk" text-anchor="middle">10.0</text>
<text transform="translate(281.8,196.05) rotate(-90)" class="dl" text-anchor="middle">Density</text>
<text x="352" y="163.5" class="ti" text-anchor="middle">Shortness of breath</text>
<line x1="307.84" y1="164.8" x2="396.16" y2="164.8" stroke="#222" stroke-width="0.9"/>
<text x="356.7" y="185.4" class="pv"><tspan font-style="italic">P</tspan><0.001</text>
<path d="M434,245.3 L434,174 L434.8,174.2 L435.6,174.8 L436.4,175.9 L437.2,177.4 L438,179.2 L438.8,181.3 L439.6,183.8 L440.4,186.4 L441.2,189.3 L442,192.4 L442.8,195.5 L443.6,198.7 L444.4,201.7 L445.2,204.6 L446,207.1 L446.8,209.3 L447.6,211.2 L448.4,212.8 L449.2,214.1 L450,215.3 L450.8,216.2 L451.6,217 L452.4,217.7 L453.2,218.5 L454,219.2 L454.8,220 L455.6,220.7 L456.4,221.4 L457.2,221.9 L458.1,222.4 L458.9,222.8 L459.7,223.2 L460.5,223.6 L461.3,224.1 L462.1,224.6 L462.9,225.3 L463.7,226 L464.5,226.8 L465.3,227.6 L466.1,228.4 L466.9,229.3 L467.7,230.1 L468.5,230.9 L469.3,231.6 L470.1,232.3 L470.9,232.8 L471.7,233.3 L472.5,233.6 L473.3,233.8 L474.1,234 L474.9,234 L475.7,234 L476.5,234 L477.3,234 L478.1,234 L478.9,234 L479.7,234 L480.5,234.1 L481.3,234.1 L482.1,234.2 L482.9,234.3 L483.7,234.4 L484.5,234.4 L485.3,234.5 L486.1,234.6 L486.9,234.7 L487.7,234.9 L488.5,235 L489.3,235.1 L490.1,235.3 L490.9,235.4 L491.7,235.6 L492.5,235.7 L493.3,235.9 L494.1,236.1 L494.9,236.3 L495.7,236.5 L496.5,236.7 L497.3,236.9 L498.1,237.2 L498.9,237.4 L499.7,237.6 L500.5,237.8 L501.3,238.1 L502.1,238.3 L502.9,238.6 L503.7,238.8 L504.5,239.1 L505.3,239.3 L506.2,239.6 L507,239.8 L507.8,240.1 L508.6,240.3 L509.4,240.6 L510.2,240.8 L511,241 L511.8,241.3 L512.6,241.5 L513.4,241.8 L514.2,242 L515,242.2 L515.8,242.5 L516.6,242.7 L517.4,242.9 L518.2,243.1 L519,243.3 L519.8,243.5 L520.6,243.7 L521.4,243.9 L522.2,244.1 L523,244.2 L523.8,244.4 L524.6,244.5 L525.4,244.6 L526.2,244.7 L527,244.8 L527.8,244.9 L528.6,245 L529.4,245 L530.2,245.1 L530.2,245.3 Z" fill="rgb(247,197,197)"/>
<path d="M434,245.3 L434,217.5 L434.8,217.1 L435.6,216.9 L436.4,216.6 L437.2,216.5 L438,216.4 L438.8,216.3 L439.6,216.3 L440.4,216.4 L441.2,216.4 L442,216.5 L442.8,216.7 L443.6,216.8 L444.4,217 L445.2,217.2 L446,217.4 L446.8,217.6 L447.6,217.8 L448.4,218 L449.2,218.2 L450,218.4 L450.8,218.5 L451.6,218.7 L452.4,218.9 L453.2,219.2 L454,219.4 L454.8,219.8 L455.6,220.1 L456.4,220.6 L457.2,221.1 L458.1,221.6 L458.9,222.2 L459.7,222.7 L460.5,223.3 L461.3,223.8 L462.1,224.4 L462.9,224.8 L463.7,225.3 L464.5,225.7 L465.3,226.1 L466.1,226.4 L466.9,226.8 L467.7,227.1 L468.5,227.3 L469.3,227.6 L470.1,227.9 L470.9,228.1 L471.7,228.4 L472.5,228.6 L473.3,228.8 L474.1,229 L474.9,229.2 L475.7,229.4 L476.5,229.5 L477.3,229.7 L478.1,229.8 L478.9,229.9 L479.7,230 L480.5,230.1 L481.3,230.2 L482.1,230.2 L482.9,230.3 L483.7,230.4 L484.5,230.4 L485.3,230.5 L486.1,230.6 L486.9,230.7 L487.7,230.7 L488.5,230.8 L489.3,230.9 L490.1,231 L490.9,231.1 L491.7,231.1 L492.5,231.2 L493.3,231.3 L494.1,231.3 L494.9,231.4 L495.7,231.5 L496.5,231.6 L497.3,231.7 L498.1,231.7 L498.9,231.8 L499.7,231.9 L500.5,232 L501.3,232.2 L502.1,232.3 L502.9,232.4 L503.7,232.6 L504.5,232.7 L505.3,232.9 L506.2,233.1 L507,233.2 L507.8,233.4 L508.6,233.7 L509.4,233.9 L510.2,234.1 L511,234.3 L511.8,234.6 L512.6,234.8 L513.4,235.1 L514.2,235.3 L515,235.6 L515.8,235.8 L516.6,236.1 L517.4,236.3 L518.2,236.6 L519,236.8 L519.8,237.1 L520.6,237.3 L521.4,237.6 L522.2,237.8 L523,238.1 L523.8,238.4 L524.6,238.6 L525.4,238.9 L526.2,239.2 L527,239.4 L527.8,239.7 L528.6,240 L529.4,240.2 L530.2,240.5 L530.2,245.3 Z" fill="rgb(156,217,222)"/>
<path d="M434,245.3 L434,217.5 L434.8,217.1 L435.6,216.9 L436.4,216.6 L437.2,216.5 L438,216.4 L438.8,216.3 L439.6,216.3 L440.4,216.4 L441.2,216.4 L442,216.5 L442.8,216.7 L443.6,216.8 L444.4,217 L445.2,217.2 L446,217.4 L446.8,217.6 L447.6,217.8 L448.4,218 L449.2,218.2 L450,218.4 L450.8,218.5 L451.6,218.7 L452.4,218.9 L453.2,219.2 L454,219.4 L454.8,220 L455.6,220.7 L456.4,221.4 L457.2,221.9 L458.1,222.4 L458.9,222.8 L459.7,223.2 L460.5,223.6 L461.3,224.1 L462.1,224.6 L462.9,225.3 L463.7,226 L464.5,226.8 L465.3,227.6 L466.1,228.4 L466.9,229.3 L467.7,230.1 L468.5,230.9 L469.3,231.6 L470.1,232.3 L470.9,232.8 L471.7,233.3 L472.5,233.6 L473.3,233.8 L474.1,234 L474.9,234 L475.7,234 L476.5,234 L477.3,234 L478.1,234 L478.9,234 L479.7,234 L480.5,234.1 L481.3,234.1 L482.1,234.2 L482.9,234.3 L483.7,234.4 L484.5,234.4 L485.3,234.5 L486.1,234.6 L486.9,234.7 L487.7,234.9 L488.5,235 L489.3,235.1 L490.1,235.3 L490.9,235.4 L491.7,235.6 L492.5,235.7 L493.3,235.9 L494.1,236.1 L494.9,236.3 L495.7,236.5 L496.5,236.7 L497.3,236.9 L498.1,237.2 L498.9,237.4 L499.7,237.6 L500.5,237.8 L501.3,238.1 L502.1,238.3 L502.9,238.6 L503.7,238.8 L504.5,239.1 L505.3,239.3 L506.2,239.6 L507,239.8 L507.8,240.1 L508.6,240.3 L509.4,240.6 L510.2,240.8 L511,241 L511.8,241.3 L512.6,241.5 L513.4,241.8 L514.2,242 L515,242.2 L515.8,242.5 L516.6,242.7 L517.4,242.9 L518.2,243.1 L519,243.3 L519.8,243.5 L520.6,243.7 L521.4,243.9 L522.2,244.1 L523,244.2 L523.8,244.4 L524.6,244.5 L525.4,244.6 L526.2,244.7 L527,244.8 L527.8,244.9 L528.6,245 L529.4,245 L530.2,245.1 L530.2,245.3 Z" fill="rgb(150,195,196)"/>
<path d="M434,174.01 L434.8,174.2 L435.6,174.8 L436.4,175.9 L437.2,177.4 L438,179.2 L438.8,181.3 L439.6,183.8 L440.4,186.4 L441.2,189.3 L442,192.4 L442.8,195.5 L443.6,198.7 L444.4,201.7 L445.2,204.6 L446,207.1 L446.8,209.3 L447.6,211.2 L448.4,212.8 L449.2,214.1 L450,215.3 L450.8,216.2 L451.6,217 L452.4,217.7 L453.2,218.5 L454,219.2 L454.8,220 L455.6,220.7 L456.4,221.4 L457.2,221.9 L458.1,222.4 L458.9,222.8 L459.7,223.2 L460.5,223.6 L461.3,224.1 L462.1,224.6 L462.9,225.3 L463.7,226 L464.5,226.8 L465.3,227.6 L466.1,228.4 L466.9,229.3 L467.7,230.1 L468.5,230.9 L469.3,231.6 L470.1,232.3 L470.9,232.8 L471.7,233.3 L472.5,233.6 L473.3,233.8 L474.1,234 L474.9,234 L475.7,234 L476.5,234 L477.3,234 L478.1,234 L478.9,234 L479.7,234 L480.5,234.1 L481.3,234.1 L482.1,234.2 L482.9,234.3 L483.7,234.4 L484.5,234.4 L485.3,234.5 L486.1,234.6 L486.9,234.7 L487.7,234.9 L488.5,235 L489.3,235.1 L490.1,235.3 L490.9,235.4 L491.7,235.6 L492.5,235.7 L493.3,235.9 L494.1,236.1 L494.9,236.3 L495.7,236.5 L496.5,236.7 L497.3,236.9 L498.1,237.2 L498.9,237.4 L499.7,237.6 L500.5,237.8 L501.3,238.1 L502.1,238.3 L502.9,238.6 L503.7,238.8 L504.5,239.1 L505.3,239.3 L506.2,239.6 L507,239.8 L507.8,240.1 L508.6,240.3 L509.4,240.6 L510.2,240.8 L511,241 L511.8,241.3 L512.6,241.5 L513.4,241.8 L514.2,242 L515,242.2 L515.8,242.5 L516.6,242.7 L517.4,242.9 L518.2,243.1 L519,243.3 L519.8,243.5 L520.6,243.7 L521.4,243.9 L522.2,244.1 L523,244.2 L523.8,244.4 L524.6,244.5 L525.4,244.6 L526.2,244.7 L527,244.8 L527.8,244.9 L528.6,245 L529.4,245 L530.2,245.1" fill="none" stroke="#3a3a3a" stroke-width="0.9"/>
<path d="M434,217.47 L434.8,217.1 L435.6,216.9 L436.4,216.6 L437.2,216.5 L438,216.4 L438.8,216.3 L439.6,216.3 L440.4,216.4 L441.2,216.4 L442,216.5 L442.8,216.7 L443.6,216.8 L444.4,217 L445.2,217.2 L446,217.4 L446.8,217.6 L447.6,217.8 L448.4,218 L449.2,218.2 L450,218.4 L450.8,218.5 L451.6,218.7 L452.4,218.9 L453.2,219.2 L454,219.4 L454.8,219.8 L455.6,220.1 L456.4,220.6 L457.2,221.1 L458.1,221.6 L458.9,222.2 L459.7,222.7 L460.5,223.3 L461.3,223.8 L462.1,224.4 L462.9,224.8 L463.7,225.3 L464.5,225.7 L465.3,226.1 L466.1,226.4 L466.9,226.8 L467.7,227.1 L468.5,227.3 L469.3,227.6 L470.1,227.9 L470.9,228.1 L471.7,228.4 L472.5,228.6 L473.3,228.8 L474.1,229 L474.9,229.2 L475.7,229.4 L476.5,229.5 L477.3,229.7 L478.1,229.8 L478.9,229.9 L479.7,230 L480.5,230.1 L481.3,230.2 L482.1,230.2 L482.9,230.3 L483.7,230.4 L484.5,230.4 L485.3,230.5 L486.1,230.6 L486.9,230.7 L487.7,230.7 L488.5,230.8 L489.3,230.9 L490.1,231 L490.9,231.1 L491.7,231.1 L492.5,231.2 L493.3,231.3 L494.1,231.3 L494.9,231.4 L495.7,231.5 L496.5,231.6 L497.3,231.7 L498.1,231.7 L498.9,231.8 L499.7,231.9 L500.5,232 L501.3,232.2 L502.1,232.3 L502.9,232.4 L503.7,232.6 L504.5,232.7 L505.3,232.9 L506.2,233.1 L507,233.2 L507.8,233.4 L508.6,233.7 L509.4,233.9 L510.2,234.1 L511,234.3 L511.8,234.6 L512.6,234.8 L513.4,235.1 L514.2,235.3 L515,235.6 L515.8,235.8 L516.6,236.1 L517.4,236.3 L518.2,236.6 L519,236.8 L519.8,237.1 L520.6,237.3 L521.4,237.6 L522.2,237.8 L523,238.1 L523.8,238.4 L524.6,238.6 L525.4,238.9 L526.2,239.2 L527,239.4 L527.8,239.7 L528.6,240 L529.4,240.2 L530.2,240.5" fill="none" stroke="#3a3a3a" stroke-width="0.9"/>
<rect x="429.8" y="142.5" width="105.4" height="107.1" fill="none" stroke="#111" stroke-width="1.5"/>
<line x1="426.2" y1="245.3" x2="429.8" y2="245.3" stroke="#555" stroke-width="0.8"/>
<text x="425.8" y="248.4" class="tk" text-anchor="end">0.0</text>
<line x1="426.2" y1="220.68" x2="429.8" y2="220.68" stroke="#555" stroke-width="0.8"/>
<text x="425.8" y="223.78" class="tk" text-anchor="end">0.1</text>
<line x1="426.2" y1="196.05" x2="429.8" y2="196.05" stroke="#555" stroke-width="0.8"/>
<text x="425.8" y="199.15" class="tk" text-anchor="end">0.2</text>
<line x1="426.2" y1="171.43" x2="429.8" y2="171.43" stroke="#555" stroke-width="0.8"/>
<text x="425.8" y="174.53" class="tk" text-anchor="end">0.3</text>
<line x1="426.2" y1="146.8" x2="429.8" y2="146.8" stroke="#555" stroke-width="0.8"/>
<text x="425.8" y="149.9" class="tk" text-anchor="end">0.4</text>
<line x1="434" y1="249.6" x2="434" y2="252.6" stroke="#777" stroke-width="0.8"/>
<text x="434" y="258.8" class="tk" text-anchor="middle">0.0</text>
<line x1="458.05" y1="249.6" x2="458.05" y2="252.6" stroke="#777" stroke-width="0.8"/>
<text x="458.05" y="258.8" class="tk" text-anchor="middle">2.5</text>
<line x1="482.1" y1="249.6" x2="482.1" y2="252.6" stroke="#777" stroke-width="0.8"/>
<text x="482.1" y="258.8" class="tk" text-anchor="middle">5.0</text>
<line x1="506.15" y1="249.6" x2="506.15" y2="252.6" stroke="#777" stroke-width="0.8"/>
<text x="506.15" y="258.8" class="tk" text-anchor="middle">7.5</text>
<line x1="530.2" y1="249.6" x2="530.2" y2="252.6" stroke="#777" stroke-width="0.8"/>
<text x="530.2" y="258.8" class="tk" text-anchor="middle">10.0</text>
<text transform="translate(414,196.05) rotate(-90)" class="dl" text-anchor="middle">Density</text>
<text x="483.2" y="163.5" class="ti" text-anchor="middle">Remembering</text>
<line x1="452.02" y1="164.8" x2="514.38" y2="164.8" stroke="#222" stroke-width="0.9"/>
<text x="490.5" y="185.4" class="pv"><tspan font-style="italic">P</tspan> = 0.038</text>
<path d="M41.9,376.5 L41.9,340.9 L42.7,340.5 L43.5,340.2 L44.2,339.9 L45,339.8 L45.8,339.7 L46.6,339.7 L47.3,339.7 L48.1,339.8 L48.9,339.9 L49.7,340.1 L50.5,340.2 L51.2,340.4 L52,340.6 L52.8,340.8 L53.6,340.9 L54.3,341.1 L55.1,341.3 L55.9,341.5 L56.7,341.6 L57.4,341.8 L58.2,341.9 L59,342.1 L59.8,342.2 L60.6,342.4 L61.3,342.5 L62.1,342.6 L62.9,342.7 L63.7,342.8 L64.4,342.9 L65.2,342.9 L66,342.8 L66.8,342.8 L67.6,342.7 L68.3,342.6 L69.1,342.5 L69.9,342.4 L70.7,342.3 L71.4,342.2 L72.2,342.1 L73,342 L73.8,341.9 L74.6,341.8 L75.3,341.7 L76.1,341.6 L76.9,341.5 L77.7,341.4 L78.4,341.3 L79.2,341.1 L80,341 L80.8,340.9 L81.6,340.8 L82.3,340.7 L83.1,340.6 L83.9,340.4 L84.7,340.3 L85.4,340.2 L86.2,340.1 L87,339.9 L87.8,339.8 L88.5,339.7 L89.3,339.5 L90.1,339.4 L90.9,339.3 L91.7,339.2 L92.4,339 L93.2,338.9 L94,338.8 L94.8,338.6 L95.5,338.5 L96.3,338.3 L97.1,338.1 L97.9,338 L98.7,337.8 L99.4,337.6 L100.2,337.4 L101,337.2 L101.8,337 L102.5,336.7 L103.3,336.5 L104.1,336.3 L104.9,336.1 L105.7,335.9 L106.4,335.7 L107.2,335.5 L108,335.3 L108.8,335.2 L109.5,335 L110.3,335 L111.1,334.9 L111.9,335 L112.7,335.2 L113.4,335.4 L114.2,335.7 L115,336 L115.8,336.4 L116.5,336.7 L117.3,337.1 L118.1,337.4 L118.9,337.8 L119.6,338.1 L120.4,338.5 L121.2,338.8 L122,339.2 L122.8,339.6 L123.5,339.9 L124.3,340.3 L125.1,340.7 L125.9,341.1 L126.6,341.6 L127.4,342.1 L128.2,342.6 L129,343.1 L129.8,343.6 L130.5,344.2 L131.3,344.8 L132.1,345.5 L132.9,346.2 L133.6,346.9 L134.4,347.7 L135.2,348.5 L135.2,376.5 Z" fill="rgb(247,197,197)"/>
<path d="M41.9,376.5 L41.9,354.4 L42.7,354.3 L43.5,354.2 L44.2,354.1 L45,354 L45.8,353.8 L46.6,353.7 L47.3,353.6 L48.1,353.5 L48.9,353.4 L49.7,353.4 L50.5,353.3 L51.2,353.2 L52,353.1 L52.8,353 L53.6,352.9 L54.3,352.8 L55.1,352.8 L55.9,352.7 L56.7,352.6 L57.4,352.5 L58.2,352.4 L59,352.4 L59.8,352.3 L60.6,352.2 L61.3,352.1 L62.1,352 L62.9,352 L63.7,351.9 L64.4,351.8 L65.2,351.7 L66,351.6 L66.8,351.5 L67.6,351.4 L68.3,351.2 L69.1,351.1 L69.9,351 L70.7,350.8 L71.4,350.7 L72.2,350.5 L73,350.3 L73.8,350.1 L74.6,349.9 L75.3,349.7 L76.1,349.5 L76.9,349.3 L77.7,349 L78.4,348.8 L79.2,348.5 L80,348.2 L80.8,348 L81.6,347.7 L82.3,347.4 L83.1,347.1 L83.9,346.8 L84.7,346.4 L85.4,346.1 L86.2,345.7 L87,345.4 L87.8,345 L88.5,344.6 L89.3,344.2 L90.1,343.7 L90.9,343.3 L91.7,342.9 L92.4,342.4 L93.2,341.9 L94,341.5 L94.8,341 L95.5,340.5 L96.3,340.1 L97.1,339.6 L97.9,339.2 L98.7,338.7 L99.4,338.3 L100.2,337.9 L101,337.5 L101.8,337.1 L102.5,336.7 L103.3,336.4 L104.1,336 L104.9,335.7 L105.7,335.4 L106.4,335.1 L107.2,334.8 L108,334.5 L108.8,334.2 L109.5,334 L110.3,333.7 L111.1,333.5 L111.9,333.3 L112.7,333.1 L113.4,332.9 L114.2,332.8 L115,332.6 L115.8,332.5 L116.5,332.3 L117.3,332.2 L118.1,332.1 L118.9,332 L119.6,331.9 L120.4,331.8 L121.2,331.8 L122,331.8 L122.8,331.9 L123.5,332 L124.3,332.2 L125.1,332.3 L125.9,332.6 L126.6,332.8 L127.4,333.1 L128.2,333.4 L129,333.7 L129.8,334.1 L130.5,334.5 L131.3,334.9 L132.1,335.4 L132.9,335.9 L133.6,336.4 L134.4,336.9 L135.2,337.5 L135.2,376.5 Z" fill="rgb(156,217,222)"/>
<path d="M41.9,376.5 L41.9,354.4 L42.7,354.3 L43.5,354.2 L44.2,354.1 L45,354 L45.8,353.8 L46.6,353.7 L47.3,353.6 L48.1,353.5 L48.9,353.4 L49.7,353.4 L50.5,353.3 L51.2,353.2 L52,353.1 L52.8,353 L53.6,352.9 L54.3,352.8 L55.1,352.8 L55.9,352.7 L56.7,352.6 L57.4,352.5 L58.2,352.4 L59,352.4 L59.8,352.3 L60.6,352.2 L61.3,352.1 L62.1,352 L62.9,352 L63.7,351.9 L64.4,351.8 L65.2,351.7 L66,351.6 L66.8,351.5 L67.6,351.4 L68.3,351.2 L69.1,351.1 L69.9,351 L70.7,350.8 L71.4,350.7 L72.2,350.5 L73,350.3 L73.8,350.1 L74.6,349.9 L75.3,349.7 L76.1,349.5 L76.9,349.3 L77.7,349 L78.4,348.8 L79.2,348.5 L80,348.2 L80.8,348 L81.6,347.7 L82.3,347.4 L83.1,347.1 L83.9,346.8 L84.7,346.4 L85.4,346.1 L86.2,345.7 L87,345.4 L87.8,345 L88.5,344.6 L89.3,344.2 L90.1,343.7 L90.9,343.3 L91.7,342.9 L92.4,342.4 L93.2,341.9 L94,341.5 L94.8,341 L95.5,340.5 L96.3,340.1 L97.1,339.6 L97.9,339.2 L98.7,338.7 L99.4,338.3 L100.2,337.9 L101,337.5 L101.8,337.1 L102.5,336.7 L103.3,336.5 L104.1,336.3 L104.9,336.1 L105.7,335.9 L106.4,335.7 L107.2,335.5 L108,335.3 L108.8,335.2 L109.5,335 L110.3,335 L111.1,334.9 L111.9,335 L112.7,335.2 L113.4,335.4 L114.2,335.7 L115,336 L115.8,336.4 L116.5,336.7 L117.3,337.1 L118.1,337.4 L118.9,337.8 L119.6,338.1 L120.4,338.5 L121.2,338.8 L122,339.2 L122.8,339.6 L123.5,339.9 L124.3,340.3 L125.1,340.7 L125.9,341.1 L126.6,341.6 L127.4,342.1 L128.2,342.6 L129,343.1 L129.8,343.6 L130.5,344.2 L131.3,344.8 L132.1,345.5 L132.9,346.2 L133.6,346.9 L134.4,347.7 L135.2,348.5 L135.2,376.5 Z" fill="rgb(150,195,196)"/>
<path d="M41.9,340.9 L42.7,340.5 L43.5,340.2 L44.2,339.9 L45,339.8 L45.8,339.7 L46.6,339.7 L47.3,339.7 L48.1,339.8 L48.9,339.9 L49.7,340.1 L50.5,340.2 L51.2,340.4 L52,340.6 L52.8,340.8 L53.6,340.9 L54.3,341.1 L55.1,341.3 L55.9,341.5 L56.7,341.6 L57.4,341.8 L58.2,341.9 L59,342.1 L59.8,342.2 L60.6,342.4 L61.3,342.5 L62.1,342.6 L62.9,342.7 L63.7,342.8 L64.4,342.9 L65.2,342.9 L66,342.8 L66.8,342.8 L67.6,342.7 L68.3,342.6 L69.1,342.5 L69.9,342.4 L70.7,342.3 L71.4,342.2 L72.2,342.1 L73,342 L73.8,341.9 L74.6,341.8 L75.3,341.7 L76.1,341.6 L76.9,341.5 L77.7,341.4 L78.4,341.3 L79.2,341.1 L80,341 L80.8,340.9 L81.6,340.8 L82.3,340.7 L83.1,340.6 L83.9,340.4 L84.7,340.3 L85.4,340.2 L86.2,340.1 L87,339.9 L87.8,339.8 L88.5,339.7 L89.3,339.5 L90.1,339.4 L90.9,339.3 L91.7,339.2 L92.4,339 L93.2,338.9 L94,338.8 L94.8,338.6 L95.5,338.5 L96.3,338.3 L97.1,338.1 L97.9,338 L98.7,337.8 L99.4,337.6 L100.2,337.4 L101,337.2 L101.8,337 L102.5,336.7 L103.3,336.5 L104.1,336.3 L104.9,336.1 L105.7,335.9 L106.4,335.7 L107.2,335.5 L108,335.3 L108.8,335.2 L109.5,335 L110.3,335 L111.1,334.9 L111.9,335 L112.7,335.2 L113.4,335.4 L114.2,335.7 L115,336 L115.8,336.4 L116.5,336.7 L117.3,337.1 L118.1,337.4 L118.9,337.8 L119.6,338.1 L120.4,338.5 L121.2,338.8 L122,339.2 L122.8,339.6 L123.5,339.9 L124.3,340.3 L125.1,340.7 L125.9,341.1 L126.6,341.6 L127.4,342.1 L128.2,342.6 L129,343.1 L129.8,343.6 L130.5,344.2 L131.3,344.8 L132.1,345.5 L132.9,346.2 L133.6,346.9 L134.4,347.7 L135.2,348.5" fill="none" stroke="#3a3a3a" stroke-width="0.9"/>
<path d="M41.9,354.41 L42.7,354.3 L43.5,354.2 L44.2,354.1 L45,354 L45.8,353.8 L46.6,353.7 L47.3,353.6 L48.1,353.5 L48.9,353.4 L49.7,353.4 L50.5,353.3 L51.2,353.2 L52,353.1 L52.8,353 L53.6,352.9 L54.3,352.8 L55.1,352.8 L55.9,352.7 L56.7,352.6 L57.4,352.5 L58.2,352.4 L59,352.4 L59.8,352.3 L60.6,352.2 L61.3,352.1 L62.1,352 L62.9,352 L63.7,351.9 L64.4,351.8 L65.2,351.7 L66,351.6 L66.8,351.5 L67.6,351.4 L68.3,351.2 L69.1,351.1 L69.9,351 L70.7,350.8 L71.4,350.7 L72.2,350.5 L73,350.3 L73.8,350.1 L74.6,349.9 L75.3,349.7 L76.1,349.5 L76.9,349.3 L77.7,349 L78.4,348.8 L79.2,348.5 L80,348.2 L80.8,348 L81.6,347.7 L82.3,347.4 L83.1,347.1 L83.9,346.8 L84.7,346.4 L85.4,346.1 L86.2,345.7 L87,345.4 L87.8,345 L88.5,344.6 L89.3,344.2 L90.1,343.7 L90.9,343.3 L91.7,342.9 L92.4,342.4 L93.2,341.9 L94,341.5 L94.8,341 L95.5,340.5 L96.3,340.1 L97.1,339.6 L97.9,339.2 L98.7,338.7 L99.4,338.3 L100.2,337.9 L101,337.5 L101.8,337.1 L102.5,336.7 L103.3,336.4 L104.1,336 L104.9,335.7 L105.7,335.4 L106.4,335.1 L107.2,334.8 L108,334.5 L108.8,334.2 L109.5,334 L110.3,333.7 L111.1,333.5 L111.9,333.3 L112.7,333.1 L113.4,332.9 L114.2,332.8 L115,332.6 L115.8,332.5 L116.5,332.3 L117.3,332.2 L118.1,332.1 L118.9,332 L119.6,331.9 L120.4,331.8 L121.2,331.8 L122,331.8 L122.8,331.9 L123.5,332 L124.3,332.2 L125.1,332.3 L125.9,332.6 L126.6,332.8 L127.4,333.1 L128.2,333.4 L129,333.7 L129.8,334.1 L130.5,334.5 L131.3,334.9 L132.1,335.4 L132.9,335.9 L133.6,336.4 L134.4,336.9 L135.2,337.5" fill="none" stroke="#3a3a3a" stroke-width="0.9"/>
<rect x="37.5" y="274" width="101.5" height="107.5" fill="none" stroke="#111" stroke-width="1.5"/>
<line x1="33.9" y1="376.5" x2="37.5" y2="376.5" stroke="#555" stroke-width="0.8"/>
<text x="33.5" y="379.6" class="tk" text-anchor="end">0.00</text>
<line x1="33.9" y1="351.95" x2="37.5" y2="351.95" stroke="#555" stroke-width="0.8"/>
<text x="33.5" y="355.05" class="tk" text-anchor="end">0.05</text>
<line x1="33.9" y1="327.4" x2="37.5" y2="327.4" stroke="#555" stroke-width="0.8"/>
<text x="33.5" y="330.5" class="tk" text-anchor="end">0.10</text>
<line x1="33.9" y1="302.85" x2="37.5" y2="302.85" stroke="#555" stroke-width="0.8"/>
<text x="33.5" y="305.95" class="tk" text-anchor="end">0.15</text>
<line x1="33.9" y1="278.3" x2="37.5" y2="278.3" stroke="#555" stroke-width="0.8"/>
<text x="33.5" y="281.4" class="tk" text-anchor="end">0.20</text>
<line x1="41.9" y1="381.5" x2="41.9" y2="384.5" stroke="#777" stroke-width="0.8"/>
<text x="41.9" y="390.7" class="tk" text-anchor="middle">0.0</text>
<line x1="65.22" y1="381.5" x2="65.22" y2="384.5" stroke="#777" stroke-width="0.8"/>
<text x="65.22" y="390.7" class="tk" text-anchor="middle">2.5</text>
<line x1="88.55" y1="381.5" x2="88.55" y2="384.5" stroke="#777" stroke-width="0.8"/>
<text x="88.55" y="390.7" class="tk" text-anchor="middle">5.0</text>
<line x1="111.88" y1="381.5" x2="111.88" y2="384.5" stroke="#777" stroke-width="0.8"/>
<text x="111.88" y="390.7" class="tk" text-anchor="middle">7.5</text>
<line x1="135.2" y1="381.5" x2="135.2" y2="384.5" stroke="#777" stroke-width="0.8"/>
<text x="135.2" y="390.7" class="tk" text-anchor="middle">10.0</text>
<text transform="translate(17.5,327.75) rotate(-90)" class="dl" text-anchor="middle">Density</text>
<text x="87.9" y="294.5" class="ti" text-anchor="middle">Lack of appetite</text>
<line x1="52.31" y1="295.8" x2="123.49" y2="295.8" stroke="#222" stroke-width="0.9"/>
<text x="45.6" y="316.4" class="pv"><tspan font-style="italic">P</tspan> = 0.035</text>
<path d="M173.9,378 L173.9,344.5 L174.7,344.4 L175.5,344.3 L176.2,344.1 L177,344 L177.8,343.8 L178.6,343.6 L179.3,343.4 L180.1,343.2 L180.9,343.1 L181.7,342.9 L182.5,342.7 L183.2,342.5 L184,342.3 L184.8,342.1 L185.6,341.9 L186.3,341.7 L187.1,341.5 L187.9,341.3 L188.7,341.2 L189.4,341 L190.2,340.9 L191,340.7 L191.8,340.5 L192.6,340.4 L193.3,340.2 L194.1,340 L194.9,339.8 L195.7,339.6 L196.4,339.4 L197.2,339.1 L198,338.8 L198.8,338.5 L199.6,338.2 L200.3,337.8 L201.1,337.4 L201.9,337 L202.7,336.5 L203.4,336.1 L204.2,335.6 L205,335.2 L205.8,334.7 L206.6,334.2 L207.3,333.8 L208.1,333.3 L208.9,332.8 L209.7,332.4 L210.4,331.9 L211.2,331.5 L212,331 L212.8,330.6 L213.6,330.2 L214.3,329.8 L215.1,329.3 L215.9,328.9 L216.7,328.5 L217.4,328.2 L218.2,327.8 L219,327.4 L219.8,327.1 L220.6,326.7 L221.3,326.5 L222.1,326.2 L222.9,325.9 L223.7,325.7 L224.4,325.6 L225.2,325.5 L226,325.4 L226.8,325.3 L227.5,325.3 L228.3,325.4 L229.1,325.5 L229.9,325.6 L230.7,325.8 L231.4,326.1 L232.2,326.4 L233,326.7 L233.8,327.1 L234.5,327.5 L235.3,328 L236.1,328.5 L236.9,329 L237.7,329.6 L238.4,330.1 L239.2,330.8 L240,331.4 L240.8,332.1 L241.5,332.8 L242.3,333.5 L243.1,334.2 L243.9,334.9 L244.7,335.7 L245.4,336.4 L246.2,337.2 L247,337.9 L247.8,338.7 L248.5,339.5 L249.3,340.3 L250.1,341.1 L250.9,341.9 L251.6,342.7 L252.4,343.4 L253.2,344.2 L254,345 L254.8,345.8 L255.5,346.5 L256.3,347.3 L257.1,348 L257.9,348.8 L258.6,349.5 L259.4,350.2 L260.2,350.9 L261,351.6 L261.8,352.3 L262.5,352.9 L263.3,353.5 L264.1,354.1 L264.9,354.7 L265.6,355.3 L266.4,355.8 L267.2,356.3 L267.2,378 Z" fill="rgb(247,197,197)"/>
<path d="M173.9,378 L173.9,362.1 L174.7,361.8 L175.5,361.6 L176.2,361.3 L177,361.1 L177.8,360.8 L178.6,360.6 L179.3,360.3 L180.1,360.1 L180.9,359.9 L181.7,359.6 L182.5,359.4 L183.2,359.2 L184,358.9 L184.8,358.7 L185.6,358.4 L186.3,358.2 L187.1,357.9 L187.9,357.7 L188.7,357.4 L189.4,357.2 L190.2,356.9 L191,356.7 L191.8,356.4 L192.6,356.1 L193.3,355.8 L194.1,355.5 L194.9,355.2 L195.7,354.9 L196.4,354.6 L197.2,354.3 L198,353.9 L198.8,353.6 L199.6,353.2 L200.3,352.8 L201.1,352.5 L201.9,352.1 L202.7,351.7 L203.4,351.2 L204.2,350.8 L205,350.4 L205.8,349.9 L206.6,349.4 L207.3,348.9 L208.1,348.4 L208.9,347.9 L209.7,347.4 L210.4,346.8 L211.2,346.3 L212,345.7 L212.8,345.1 L213.6,344.5 L214.3,343.9 L215.1,343.3 L215.9,342.7 L216.7,342 L217.4,341.4 L218.2,340.7 L219,340.1 L219.8,339.4 L220.6,338.7 L221.3,338.1 L222.1,337.4 L222.9,336.7 L223.7,336 L224.4,335.3 L225.2,334.6 L226,333.9 L226.8,333.2 L227.5,332.5 L228.3,331.8 L229.1,331.1 L229.9,330.4 L230.7,329.7 L231.4,329 L232.2,328.3 L233,327.6 L233.8,327 L234.5,326.3 L235.3,325.6 L236.1,324.9 L236.9,324.2 L237.7,323.5 L238.4,322.9 L239.2,322.2 L240,321.6 L240.8,321 L241.5,320.5 L242.3,320 L243.1,319.5 L243.9,319.1 L244.7,318.7 L245.4,318.4 L246.2,318.1 L247,317.9 L247.8,317.7 L248.5,317.6 L249.3,317.6 L250.1,317.6 L250.9,317.7 L251.6,317.9 L252.4,318.2 L253.2,318.5 L254,318.8 L254.8,319.2 L255.5,319.7 L256.3,320.2 L257.1,320.8 L257.9,321.4 L258.6,322 L259.4,322.7 L260.2,323.5 L261,324.3 L261.8,325.2 L262.5,326.1 L263.3,327 L264.1,328 L264.9,329.1 L265.6,330.2 L266.4,331.4 L267.2,332.6 L267.2,378 Z" fill="rgb(156,217,222)"/>
<path d="M173.9,378 L173.9,362.1 L174.7,361.8 L175.5,361.6 L176.2,361.3 L177,361.1 L177.8,360.8 L178.6,360.6 L179.3,360.3 L180.1,360.1 L180.9,359.9 L181.7,359.6 L182.5,359.4 L183.2,359.2 L184,358.9 L184.8,358.7 L185.6,358.4 L186.3,358.2 L187.1,357.9 L187.9,357.7 L188.7,357.4 L189.4,357.2 L190.2,356.9 L191,356.7 L191.8,356.4 L192.6,356.1 L193.3,355.8 L194.1,355.5 L194.9,355.2 L195.7,354.9 L196.4,354.6 L197.2,354.3 L198,353.9 L198.8,353.6 L199.6,353.2 L200.3,352.8 L201.1,352.5 L201.9,352.1 L202.7,351.7 L203.4,351.2 L204.2,350.8 L205,350.4 L205.8,349.9 L206.6,349.4 L207.3,348.9 L208.1,348.4 L208.9,347.9 L209.7,347.4 L210.4,346.8 L211.2,346.3 L212,345.7 L212.8,345.1 L213.6,344.5 L214.3,343.9 L215.1,343.3 L215.9,342.7 L216.7,342 L217.4,341.4 L218.2,340.7 L219,340.1 L219.8,339.4 L220.6,338.7 L221.3,338.1 L222.1,337.4 L222.9,336.7 L223.7,336 L224.4,335.3 L225.2,334.6 L226,333.9 L226.8,333.2 L227.5,332.5 L228.3,331.8 L229.1,331.1 L229.9,330.4 L230.7,329.7 L231.4,329 L232.2,328.3 L233,327.6 L233.8,327.1 L234.5,327.5 L235.3,328 L236.1,328.5 L236.9,329 L237.7,329.6 L238.4,330.1 L239.2,330.8 L240,331.4 L240.8,332.1 L241.5,332.8 L242.3,333.5 L243.1,334.2 L243.9,334.9 L244.7,335.7 L245.4,336.4 L246.2,337.2 L247,337.9 L247.8,338.7 L248.5,339.5 L249.3,340.3 L250.1,341.1 L250.9,341.9 L251.6,342.7 L252.4,343.4 L253.2,344.2 L254,345 L254.8,345.8 L255.5,346.5 L256.3,347.3 L257.1,348 L257.9,348.8 L258.6,349.5 L259.4,350.2 L260.2,350.9 L261,351.6 L261.8,352.3 L262.5,352.9 L263.3,353.5 L264.1,354.1 L264.9,354.7 L265.6,355.3 L266.4,355.8 L267.2,356.3 L267.2,378 Z" fill="rgb(150,195,196)"/>
<path d="M173.9,344.5 L174.7,344.4 L175.5,344.3 L176.2,344.1 L177,344 L177.8,343.8 L178.6,343.6 L179.3,343.4 L180.1,343.2 L180.9,343.1 L181.7,342.9 L182.5,342.7 L183.2,342.5 L184,342.3 L184.8,342.1 L185.6,341.9 L186.3,341.7 L187.1,341.5 L187.9,341.3 L188.7,341.2 L189.4,341 L190.2,340.9 L191,340.7 L191.8,340.5 L192.6,340.4 L193.3,340.2 L194.1,340 L194.9,339.8 L195.7,339.6 L196.4,339.4 L197.2,339.1 L198,338.8 L198.8,338.5 L199.6,338.2 L200.3,337.8 L201.1,337.4 L201.9,337 L202.7,336.5 L203.4,336.1 L204.2,335.6 L205,335.2 L205.8,334.7 L206.6,334.2 L207.3,333.8 L208.1,333.3 L208.9,332.8 L209.7,332.4 L210.4,331.9 L211.2,331.5 L212,331 L212.8,330.6 L213.6,330.2 L214.3,329.8 L215.1,329.3 L215.9,328.9 L216.7,328.5 L217.4,328.2 L218.2,327.8 L219,327.4 L219.8,327.1 L220.6,326.7 L221.3,326.5 L222.1,326.2 L222.9,325.9 L223.7,325.7 L224.4,325.6 L225.2,325.5 L226,325.4 L226.8,325.3 L227.5,325.3 L228.3,325.4 L229.1,325.5 L229.9,325.6 L230.7,325.8 L231.4,326.1 L232.2,326.4 L233,326.7 L233.8,327.1 L234.5,327.5 L235.3,328 L236.1,328.5 L236.9,329 L237.7,329.6 L238.4,330.1 L239.2,330.8 L240,331.4 L240.8,332.1 L241.5,332.8 L242.3,333.5 L243.1,334.2 L243.9,334.9 L244.7,335.7 L245.4,336.4 L246.2,337.2 L247,337.9 L247.8,338.7 L248.5,339.5 L249.3,340.3 L250.1,341.1 L250.9,341.9 L251.6,342.7 L252.4,343.4 L253.2,344.2 L254,345 L254.8,345.8 L255.5,346.5 L256.3,347.3 L257.1,348 L257.9,348.8 L258.6,349.5 L259.4,350.2 L260.2,350.9 L261,351.6 L261.8,352.3 L262.5,352.9 L263.3,353.5 L264.1,354.1 L264.9,354.7 L265.6,355.3 L266.4,355.8 L267.2,356.3" fill="none" stroke="#3a3a3a" stroke-width="0.9"/>
<path d="M173.9,362.1 L174.7,361.8 L175.5,361.6 L176.2,361.3 L177,361.1 L177.8,360.8 L178.6,360.6 L179.3,360.3 L180.1,360.1 L180.9,359.9 L181.7,359.6 L182.5,359.4 L183.2,359.2 L184,358.9 L184.8,358.7 L185.6,358.4 L186.3,358.2 L187.1,357.9 L187.9,357.7 L188.7,357.4 L189.4,357.2 L190.2,356.9 L191,356.7 L191.8,356.4 L192.6,356.1 L193.3,355.8 L194.1,355.5 L194.9,355.2 L195.7,354.9 L196.4,354.6 L197.2,354.3 L198,353.9 L198.8,353.6 L199.6,353.2 L200.3,352.8 L201.1,352.5 L201.9,352.1 L202.7,351.7 L203.4,351.2 L204.2,350.8 L205,350.4 L205.8,349.9 L206.6,349.4 L207.3,348.9 L208.1,348.4 L208.9,347.9 L209.7,347.4 L210.4,346.8 L211.2,346.3 L212,345.7 L212.8,345.1 L213.6,344.5 L214.3,343.9 L215.1,343.3 L215.9,342.7 L216.7,342 L217.4,341.4 L218.2,340.7 L219,340.1 L219.8,339.4 L220.6,338.7 L221.3,338.1 L222.1,337.4 L222.9,336.7 L223.7,336 L224.4,335.3 L225.2,334.6 L226,333.9 L226.8,333.2 L227.5,332.5 L228.3,331.8 L229.1,331.1 L229.9,330.4 L230.7,329.7 L231.4,329 L232.2,328.3 L233,327.6 L233.8,327 L234.5,326.3 L235.3,325.6 L236.1,324.9 L236.9,324.2 L237.7,323.5 L238.4,322.9 L239.2,322.2 L240,321.6 L240.8,321 L241.5,320.5 L242.3,320 L243.1,319.5 L243.9,319.1 L244.7,318.7 L245.4,318.4 L246.2,318.1 L247,317.9 L247.8,317.7 L248.5,317.6 L249.3,317.6 L250.1,317.6 L250.9,317.7 L251.6,317.9 L252.4,318.2 L253.2,318.5 L254,318.8 L254.8,319.2 L255.5,319.7 L256.3,320.2 L257.1,320.8 L257.9,321.4 L258.6,322 L259.4,322.7 L260.2,323.5 L261,324.3 L261.8,325.2 L262.5,326.1 L263.3,327 L264.1,328 L264.9,329.1 L265.6,330.2 L266.4,331.4 L267.2,332.6" fill="none" stroke="#3a3a3a" stroke-width="0.9"/>
<rect x="169.5" y="274" width="101.9" height="109" fill="none" stroke="#111" stroke-width="1.5"/>
<line x1="165.9" y1="378" x2="169.5" y2="378" stroke="#555" stroke-width="0.8"/>
<text x="165.5" y="381.1" class="tk" text-anchor="end">0.00</text>
<line x1="165.9" y1="353.07" x2="169.5" y2="353.07" stroke="#555" stroke-width="0.8"/>
<text x="165.5" y="356.18" class="tk" text-anchor="end">0.05</text>
<line x1="165.9" y1="328.15" x2="169.5" y2="328.15" stroke="#555" stroke-width="0.8"/>
<text x="165.5" y="331.25" class="tk" text-anchor="end">0.10</text>
<line x1="165.9" y1="303.23" x2="169.5" y2="303.23" stroke="#555" stroke-width="0.8"/>
<text x="165.5" y="306.33" class="tk" text-anchor="end">0.15</text>
<line x1="165.9" y1="278.3" x2="169.5" y2="278.3" stroke="#555" stroke-width="0.8"/>
<text x="165.5" y="281.4" class="tk" text-anchor="end">0.20</text>
<line x1="173.9" y1="383" x2="173.9" y2="386" stroke="#777" stroke-width="0.8"/>
<text x="173.9" y="392.2" class="tk" text-anchor="middle">0.0</text>
<line x1="197.22" y1="383" x2="197.22" y2="386" stroke="#777" stroke-width="0.8"/>
<text x="197.22" y="392.2" class="tk" text-anchor="middle">2.5</text>
<line x1="220.55" y1="383" x2="220.55" y2="386" stroke="#777" stroke-width="0.8"/>
<text x="220.55" y="392.2" class="tk" text-anchor="middle">5.0</text>
<line x1="243.88" y1="383" x2="243.88" y2="386" stroke="#777" stroke-width="0.8"/>
<text x="243.88" y="392.2" class="tk" text-anchor="middle">7.5</text>
<line x1="267.2" y1="383" x2="267.2" y2="386" stroke="#777" stroke-width="0.8"/>
<text x="267.2" y="392.2" class="tk" text-anchor="middle">10.0</text>
<text transform="translate(149.5,328.5) rotate(-90)" class="dl" text-anchor="middle">Density</text>
<text x="218.8" y="295.5" class="ti" text-anchor="middle">Drowsy (sleepy)</text>
<line x1="182.94" y1="296.8" x2="254.66" y2="296.8" stroke="#222" stroke-width="0.9"/>
<text x="180" y="317.1" class="pv"><tspan font-style="italic">P</tspan> = <0.001</text>
<path d="M305.7,377.2 L305.7,340.9 L306.5,340.6 L307.3,340.3 L308,340 L308.8,339.8 L309.6,339.6 L310.4,339.4 L311.2,339.2 L311.9,339 L312.7,338.9 L313.5,338.8 L314.3,338.7 L315.1,338.6 L315.9,338.6 L316.6,338.6 L317.4,338.6 L318.2,338.7 L319,338.8 L319.8,338.9 L320.5,339 L321.3,339.1 L322.1,339.3 L322.9,339.4 L323.7,339.6 L324.4,339.7 L325.2,339.9 L326,340 L326.8,340.1 L327.6,340.2 L328.3,340.3 L329.1,340.5 L329.9,340.5 L330.7,340.6 L331.5,340.7 L332.2,340.8 L333,340.8 L333.8,340.9 L334.6,341 L335.4,341 L336.2,341 L336.9,341 L337.7,341.1 L338.5,341.1 L339.3,341.1 L340.1,341.1 L340.8,341.1 L341.6,341.1 L342.4,341.1 L343.2,341.1 L344,341.1 L344.7,341.1 L345.5,341.1 L346.3,341.1 L347.1,341.1 L347.9,341.1 L348.6,341.1 L349.4,341 L350.2,341 L351,341 L351.8,340.9 L352.5,340.9 L353.3,340.9 L354.1,340.8 L354.9,340.7 L355.7,340.7 L356.5,340.6 L357.2,340.5 L358,340.4 L358.8,340.3 L359.6,340.1 L360.4,340 L361.1,339.8 L361.9,339.6 L362.7,339.4 L363.5,339.2 L364.3,339 L365,338.7 L365.8,338.5 L366.6,338.2 L367.4,338 L368.2,337.7 L368.9,337.4 L369.7,337.2 L370.5,336.9 L371.3,336.7 L372.1,336.4 L372.9,336.2 L373.6,335.9 L374.4,335.7 L375.2,335.5 L376,335.3 L376.8,335.1 L377.5,335 L378.3,334.9 L379.1,334.7 L379.9,334.6 L380.7,334.6 L381.4,334.5 L382.2,334.5 L383,334.5 L383.8,334.6 L384.6,334.7 L385.3,334.9 L386.1,335.2 L386.9,335.5 L387.7,335.8 L388.5,336.2 L389.2,336.7 L390,337.1 L390.8,337.7 L391.6,338.2 L392.4,338.8 L393.2,339.4 L393.9,340 L394.7,340.7 L395.5,341.3 L396.3,342 L397.1,342.6 L397.8,343.3 L398.6,343.9 L399.4,344.6 L399.4,377.2 Z" fill="rgb(247,197,197)"/>
<path d="M305.7,377.2 L305.7,355.3 L306.5,355.1 L307.3,355 L308,354.8 L308.8,354.7 L309.6,354.6 L310.4,354.5 L311.2,354.4 L311.9,354.3 L312.7,354.2 L313.5,354.1 L314.3,354 L315.1,354 L315.9,353.9 L316.6,353.8 L317.4,353.8 L318.2,353.7 L319,353.6 L319.8,353.6 L320.5,353.5 L321.3,353.5 L322.1,353.4 L322.9,353.3 L323.7,353.2 L324.4,353.2 L325.2,353.1 L326,353 L326.8,352.9 L327.6,352.8 L328.3,352.7 L329.1,352.5 L329.9,352.4 L330.7,352.2 L331.5,352.1 L332.2,351.9 L333,351.7 L333.8,351.5 L334.6,351.3 L335.4,351 L336.2,350.7 L336.9,350.5 L337.7,350.2 L338.5,349.8 L339.3,349.5 L340.1,349.2 L340.8,348.8 L341.6,348.5 L342.4,348.1 L343.2,347.7 L344,347.3 L344.7,346.9 L345.5,346.5 L346.3,346.1 L347.1,345.7 L347.9,345.3 L348.6,344.9 L349.4,344.5 L350.2,344.1 L351,343.6 L351.8,343.2 L352.5,342.8 L353.3,342.4 L354.1,342 L354.9,341.7 L355.7,341.3 L356.5,340.9 L357.2,340.5 L358,340.1 L358.8,339.7 L359.6,339.3 L360.4,338.8 L361.1,338.4 L361.9,337.9 L362.7,337.5 L363.5,337 L364.3,336.5 L365,336 L365.8,335.5 L366.6,335 L367.4,334.5 L368.2,334 L368.9,333.5 L369.7,333.1 L370.5,332.6 L371.3,332.2 L372.1,331.8 L372.9,331.4 L373.6,331.1 L374.4,330.8 L375.2,330.4 L376,330.2 L376.8,329.9 L377.5,329.7 L378.3,329.5 L379.1,329.3 L379.9,329.1 L380.7,329 L381.4,328.9 L382.2,328.8 L383,328.7 L383.8,328.7 L384.6,328.7 L385.3,328.8 L386.1,329 L386.9,329.2 L387.7,329.4 L388.5,329.7 L389.2,330.1 L390,330.5 L390.8,330.9 L391.6,331.3 L392.4,331.8 L393.2,332.3 L393.9,332.8 L394.7,333.3 L395.5,333.8 L396.3,334.3 L397.1,334.8 L397.8,335.2 L398.6,335.7 L399.4,336.2 L399.4,377.2 Z" fill="rgb(156,217,222)"/>
<path d="M305.7,377.2 L305.7,355.3 L306.5,355.1 L307.3,355 L308,354.8 L308.8,354.7 L309.6,354.6 L310.4,354.5 L311.2,354.4 L311.9,354.3 L312.7,354.2 L313.5,354.1 L314.3,354 L315.1,354 L315.9,353.9 L316.6,353.8 L317.4,353.8 L318.2,353.7 L319,353.6 L319.8,353.6 L320.5,353.5 L321.3,353.5 L322.1,353.4 L322.9,353.3 L323.7,353.2 L324.4,353.2 L325.2,353.1 L326,353 L326.8,352.9 L327.6,352.8 L328.3,352.7 L329.1,352.5 L329.9,352.4 L330.7,352.2 L331.5,352.1 L332.2,351.9 L333,351.7 L333.8,351.5 L334.6,351.3 L335.4,351 L336.2,350.7 L336.9,350.5 L337.7,350.2 L338.5,349.8 L339.3,349.5 L340.1,349.2 L340.8,348.8 L341.6,348.5 L342.4,348.1 L343.2,347.7 L344,347.3 L344.7,346.9 L345.5,346.5 L346.3,346.1 L347.1,345.7 L347.9,345.3 L348.6,344.9 L349.4,344.5 L350.2,344.1 L351,343.6 L351.8,343.2 L352.5,342.8 L353.3,342.4 L354.1,342 L354.9,341.7 L355.7,341.3 L356.5,340.9 L357.2,340.5 L358,340.4 L358.8,340.3 L359.6,340.1 L360.4,340 L361.1,339.8 L361.9,339.6 L362.7,339.4 L363.5,339.2 L364.3,339 L365,338.7 L365.8,338.5 L366.6,338.2 L367.4,338 L368.2,337.7 L368.9,337.4 L369.7,337.2 L370.5,336.9 L371.3,336.7 L372.1,336.4 L372.9,336.2 L373.6,335.9 L374.4,335.7 L375.2,335.5 L376,335.3 L376.8,335.1 L377.5,335 L378.3,334.9 L379.1,334.7 L379.9,334.6 L380.7,334.6 L381.4,334.5 L382.2,334.5 L383,334.5 L383.8,334.6 L384.6,334.7 L385.3,334.9 L386.1,335.2 L386.9,335.5 L387.7,335.8 L388.5,336.2 L389.2,336.7 L390,337.1 L390.8,337.7 L391.6,338.2 L392.4,338.8 L393.2,339.4 L393.9,340 L394.7,340.7 L395.5,341.3 L396.3,342 L397.1,342.6 L397.8,343.3 L398.6,343.9 L399.4,344.6 L399.4,377.2 Z" fill="rgb(150,195,196)"/>
<path d="M305.7,340.85 L306.5,340.6 L307.3,340.3 L308,340 L308.8,339.8 L309.6,339.6 L310.4,339.4 L311.2,339.2 L311.9,339 L312.7,338.9 L313.5,338.8 L314.3,338.7 L315.1,338.6 L315.9,338.6 L316.6,338.6 L317.4,338.6 L318.2,338.7 L319,338.8 L319.8,338.9 L320.5,339 L321.3,339.1 L322.1,339.3 L322.9,339.4 L323.7,339.6 L324.4,339.7 L325.2,339.9 L326,340 L326.8,340.1 L327.6,340.2 L328.3,340.3 L329.1,340.5 L329.9,340.5 L330.7,340.6 L331.5,340.7 L332.2,340.8 L333,340.8 L333.8,340.9 L334.6,341 L335.4,341 L336.2,341 L336.9,341 L337.7,341.1 L338.5,341.1 L339.3,341.1 L340.1,341.1 L340.8,341.1 L341.6,341.1 L342.4,341.1 L343.2,341.1 L344,341.1 L344.7,341.1 L345.5,341.1 L346.3,341.1 L347.1,341.1 L347.9,341.1 L348.6,341.1 L349.4,341 L350.2,341 L351,341 L351.8,340.9 L352.5,340.9 L353.3,340.9 L354.1,340.8 L354.9,340.7 L355.7,340.7 L356.5,340.6 L357.2,340.5 L358,340.4 L358.8,340.3 L359.6,340.1 L360.4,340 L361.1,339.8 L361.9,339.6 L362.7,339.4 L363.5,339.2 L364.3,339 L365,338.7 L365.8,338.5 L366.6,338.2 L367.4,338 L368.2,337.7 L368.9,337.4 L369.7,337.2 L370.5,336.9 L371.3,336.7 L372.1,336.4 L372.9,336.2 L373.6,335.9 L374.4,335.7 L375.2,335.5 L376,335.3 L376.8,335.1 L377.5,335 L378.3,334.9 L379.1,334.7 L379.9,334.6 L380.7,334.6 L381.4,334.5 L382.2,334.5 L383,334.5 L383.8,334.6 L384.6,334.7 L385.3,334.9 L386.1,335.2 L386.9,335.5 L387.7,335.8 L388.5,336.2 L389.2,336.7 L390,337.1 L390.8,337.7 L391.6,338.2 L392.4,338.8 L393.2,339.4 L393.9,340 L394.7,340.7 L395.5,341.3 L396.3,342 L397.1,342.6 L397.8,343.3 L398.6,343.9 L399.4,344.6" fill="none" stroke="#3a3a3a" stroke-width="0.9"/>
<path d="M305.7,355.29 L306.5,355.1 L307.3,355 L308,354.8 L308.8,354.7 L309.6,354.6 L310.4,354.5 L311.2,354.4 L311.9,354.3 L312.7,354.2 L313.5,354.1 L314.3,354 L315.1,354 L315.9,353.9 L316.6,353.8 L317.4,353.8 L318.2,353.7 L319,353.6 L319.8,353.6 L320.5,353.5 L321.3,353.5 L322.1,353.4 L322.9,353.3 L323.7,353.2 L324.4,353.2 L325.2,353.1 L326,353 L326.8,352.9 L327.6,352.8 L328.3,352.7 L329.1,352.5 L329.9,352.4 L330.7,352.2 L331.5,352.1 L332.2,351.9 L333,351.7 L333.8,351.5 L334.6,351.3 L335.4,351 L336.2,350.7 L336.9,350.5 L337.7,350.2 L338.5,349.8 L339.3,349.5 L340.1,349.2 L340.8,348.8 L341.6,348.5 L342.4,348.1 L343.2,347.7 L344,347.3 L344.7,346.9 L345.5,346.5 L346.3,346.1 L347.1,345.7 L347.9,345.3 L348.6,344.9 L349.4,344.5 L350.2,344.1 L351,343.6 L351.8,343.2 L352.5,342.8 L353.3,342.4 L354.1,342 L354.9,341.7 L355.7,341.3 L356.5,340.9 L357.2,340.5 L358,340.1 L358.8,339.7 L359.6,339.3 L360.4,338.8 L361.1,338.4 L361.9,337.9 L362.7,337.5 L363.5,337 L364.3,336.5 L365,336 L365.8,335.5 L366.6,335 L367.4,334.5 L368.2,334 L368.9,333.5 L369.7,333.1 L370.5,332.6 L371.3,332.2 L372.1,331.8 L372.9,331.4 L373.6,331.1 L374.4,330.8 L375.2,330.4 L376,330.2 L376.8,329.9 L377.5,329.7 L378.3,329.5 L379.1,329.3 L379.9,329.1 L380.7,329 L381.4,328.9 L382.2,328.8 L383,328.7 L383.8,328.7 L384.6,328.7 L385.3,328.8 L386.1,329 L386.9,329.2 L387.7,329.4 L388.5,329.7 L389.2,330.1 L390,330.5 L390.8,330.9 L391.6,331.3 L392.4,331.8 L393.2,332.3 L393.9,332.8 L394.7,333.3 L395.5,333.8 L396.3,334.3 L397.1,334.8 L397.8,335.2 L398.6,335.7 L399.4,336.2" fill="none" stroke="#3a3a3a" stroke-width="0.9"/>
<rect x="301" y="274" width="102.5" height="108" fill="none" stroke="#111" stroke-width="1.5"/>
<line x1="297.4" y1="377.2" x2="301" y2="377.2" stroke="#555" stroke-width="0.8"/>
<text x="297" y="380.3" class="tk" text-anchor="end">0.00</text>
<line x1="297.4" y1="352.48" x2="301" y2="352.48" stroke="#555" stroke-width="0.8"/>
<text x="297" y="355.58" class="tk" text-anchor="end">0.05</text>
<line x1="297.4" y1="327.75" x2="301" y2="327.75" stroke="#555" stroke-width="0.8"/>
<text x="297" y="330.85" class="tk" text-anchor="end">0.10</text>
<line x1="297.4" y1="303.02" x2="301" y2="303.02" stroke="#555" stroke-width="0.8"/>
<text x="297" y="306.12" class="tk" text-anchor="end">0.15</text>
<line x1="297.4" y1="278.3" x2="301" y2="278.3" stroke="#555" stroke-width="0.8"/>
<text x="297" y="281.4" class="tk" text-anchor="end">0.20</text>
<line x1="305.7" y1="382" x2="305.7" y2="385" stroke="#777" stroke-width="0.8"/>
<text x="305.7" y="391.2" class="tk" text-anchor="middle">0.0</text>
<line x1="329.12" y1="382" x2="329.12" y2="385" stroke="#777" stroke-width="0.8"/>
<text x="329.12" y="391.2" class="tk" text-anchor="middle">2.5</text>
<line x1="352.55" y1="382" x2="352.55" y2="385" stroke="#777" stroke-width="0.8"/>
<text x="352.55" y="391.2" class="tk" text-anchor="middle">5.0</text>
<line x1="375.97" y1="382" x2="375.97" y2="385" stroke="#777" stroke-width="0.8"/>
<text x="375.97" y="391.2" class="tk" text-anchor="middle">7.5</text>
<line x1="399.4" y1="382" x2="399.4" y2="385" stroke="#777" stroke-width="0.8"/>
<text x="399.4" y="391.2" class="tk" text-anchor="middle">10.0</text>
<text transform="translate(281,328) rotate(-90)" class="dl" text-anchor="middle">Density</text>
<text x="348.3" y="295.5" class="ti" text-anchor="middle">Dry mouth</text>
<line x1="324.92" y1="296.8" x2="371.68" y2="296.8" stroke="#222" stroke-width="0.9"/>
<text x="310.6" y="316.6" class="pv"><tspan font-style="italic">P</tspan> = 0.134</text>
<path d="M437.7,377.7 L437.7,301.2 L438.5,300.6 L439.2,300.2 L440,299.9 L440.8,299.8 L441.6,299.7 L442.3,299.9 L443.1,300.3 L443.9,300.8 L444.6,301.5 L445.4,302.3 L446.2,303.3 L446.9,304.3 L447.7,305.4 L448.5,306.5 L449.3,307.8 L450,309.1 L450.8,310.6 L451.6,312.2 L452.3,313.9 L453.1,315.7 L453.9,317.6 L454.7,319.5 L455.4,321.4 L456.2,323.2 L457,325 L457.7,326.7 L458.5,328.2 L459.3,329.7 L460.1,331 L460.8,332.3 L461.6,333.4 L462.4,334.4 L463.1,335.3 L463.9,336.1 L464.7,336.8 L465.4,337.4 L466.2,338 L467,338.5 L467.8,338.9 L468.5,339.3 L469.3,339.7 L470.1,340 L470.8,340.3 L471.6,340.5 L472.4,340.8 L473.2,341.1 L473.9,341.3 L474.7,341.6 L475.5,341.9 L476.2,342.3 L477,342.6 L477.8,343 L478.6,343.3 L479.3,343.7 L480.1,344.1 L480.9,344.5 L481.6,344.9 L482.4,345.3 L483.2,345.7 L484,346 L484.7,346.4 L485.5,346.8 L486.3,347.1 L487,347.5 L487.8,347.8 L488.6,348.2 L489.3,348.5 L490.1,348.8 L490.9,349.2 L491.7,349.5 L492.4,349.9 L493.2,350.2 L494,350.6 L494.7,350.9 L495.5,351.3 L496.3,351.6 L497.1,352 L497.8,352.4 L498.6,352.8 L499.4,353.1 L500.1,353.5 L500.9,353.9 L501.7,354.3 L502.5,354.6 L503.2,355 L504,355.4 L504.8,355.8 L505.5,356.2 L506.3,356.5 L507.1,356.9 L507.8,357.3 L508.6,357.7 L509.4,358.1 L510.2,358.5 L510.9,358.9 L511.7,359.3 L512.5,359.7 L513.2,360.1 L514,360.6 L514.8,361 L515.6,361.4 L516.3,361.8 L517.1,362.3 L517.9,362.7 L518.6,363.1 L519.4,363.6 L520.2,364 L521,364.4 L521.7,364.9 L522.5,365.3 L523.3,365.7 L524,366.1 L524.8,366.6 L525.6,367 L526.3,367.4 L527.1,367.8 L527.9,368.2 L528.7,368.6 L529.4,369 L530.2,369.4 L530.2,377.7 Z" fill="rgb(247,197,197)"/>
<path d="M437.7,377.7 L437.7,335.5 L438.5,335.4 L439.2,335.2 L440,335.1 L440.8,335 L441.6,334.8 L442.3,334.7 L443.1,334.5 L443.9,334.3 L444.6,334.2 L445.4,334 L446.2,333.9 L446.9,333.8 L447.7,333.7 L448.5,333.6 L449.3,333.5 L450,333.5 L450.8,333.5 L451.6,333.5 L452.3,333.6 L453.1,333.7 L453.9,333.8 L454.7,334 L455.4,334.1 L456.2,334.3 L457,334.4 L457.7,334.5 L458.5,334.7 L459.3,334.8 L460.1,334.9 L460.8,335 L461.6,335.1 L462.4,335.2 L463.1,335.3 L463.9,335.3 L464.7,335.4 L465.4,335.5 L466.2,335.5 L467,335.5 L467.8,335.6 L468.5,335.6 L469.3,335.7 L470.1,335.7 L470.8,335.7 L471.6,335.8 L472.4,335.8 L473.2,335.8 L473.9,335.9 L474.7,336 L475.5,336 L476.2,336.1 L477,336.2 L477.8,336.3 L478.6,336.4 L479.3,336.5 L480.1,336.6 L480.9,336.8 L481.6,336.9 L482.4,337.1 L483.2,337.3 L484,337.4 L484.7,337.6 L485.5,337.8 L486.3,338 L487,338.3 L487.8,338.5 L488.6,338.7 L489.3,339 L490.1,339.3 L490.9,339.5 L491.7,339.8 L492.4,340.1 L493.2,340.4 L494,340.7 L494.7,341.1 L495.5,341.4 L496.3,341.8 L497.1,342.1 L497.8,342.5 L498.6,342.9 L499.4,343.3 L500.1,343.7 L500.9,344.1 L501.7,344.5 L502.5,344.9 L503.2,345.3 L504,345.8 L504.8,346.2 L505.5,346.6 L506.3,347.1 L507.1,347.5 L507.8,348 L508.6,348.4 L509.4,348.9 L510.2,349.3 L510.9,349.8 L511.7,350.2 L512.5,350.7 L513.2,351.1 L514,351.6 L514.8,352 L515.6,352.5 L516.3,352.9 L517.1,353.4 L517.9,353.8 L518.6,354.3 L519.4,354.7 L520.2,355.2 L521,355.6 L521.7,356.1 L522.5,356.5 L523.3,357 L524,357.5 L524.8,357.9 L525.6,358.4 L526.3,358.9 L527.1,359.4 L527.9,359.8 L528.7,360.3 L529.4,360.8 L530.2,361.3 L530.2,377.7 Z" fill="rgb(156,217,222)"/>
<path d="M437.7,377.7 L437.7,335.5 L438.5,335.4 L439.2,335.2 L440,335.1 L440.8,335 L441.6,334.8 L442.3,334.7 L443.1,334.5 L443.9,334.3 L444.6,334.2 L445.4,334 L446.2,333.9 L446.9,333.8 L447.7,333.7 L448.5,333.6 L449.3,333.5 L450,333.5 L450.8,333.5 L451.6,333.5 L452.3,333.6 L453.1,333.7 L453.9,333.8 L454.7,334 L455.4,334.1 L456.2,334.3 L457,334.4 L457.7,334.5 L458.5,334.7 L459.3,334.8 L460.1,334.9 L460.8,335 L461.6,335.1 L462.4,335.2 L463.1,335.3 L463.9,336.1 L464.7,336.8 L465.4,337.4 L466.2,338 L467,338.5 L467.8,338.9 L468.5,339.3 L469.3,339.7 L470.1,340 L470.8,340.3 L471.6,340.5 L472.4,340.8 L473.2,341.1 L473.9,341.3 L474.7,341.6 L475.5,341.9 L476.2,342.3 L477,342.6 L477.8,343 L478.6,343.3 L479.3,343.7 L480.1,344.1 L480.9,344.5 L481.6,344.9 L482.4,345.3 L483.2,345.7 L484,346 L484.7,346.4 L485.5,346.8 L486.3,347.1 L487,347.5 L487.8,347.8 L488.6,348.2 L489.3,348.5 L490.1,348.8 L490.9,349.2 L491.7,349.5 L492.4,349.9 L493.2,350.2 L494,350.6 L494.7,350.9 L495.5,351.3 L496.3,351.6 L497.1,352 L497.8,352.4 L498.6,352.8 L499.4,353.1 L500.1,353.5 L500.9,353.9 L501.7,354.3 L502.5,354.6 L503.2,355 L504,355.4 L504.8,355.8 L505.5,356.2 L506.3,356.5 L507.1,356.9 L507.8,357.3 L508.6,357.7 L509.4,358.1 L510.2,358.5 L510.9,358.9 L511.7,359.3 L512.5,359.7 L513.2,360.1 L514,360.6 L514.8,361 L515.6,361.4 L516.3,361.8 L517.1,362.3 L517.9,362.7 L518.6,363.1 L519.4,363.6 L520.2,364 L521,364.4 L521.7,364.9 L522.5,365.3 L523.3,365.7 L524,366.1 L524.8,366.6 L525.6,367 L526.3,367.4 L527.1,367.8 L527.9,368.2 L528.7,368.6 L529.4,369 L530.2,369.4 L530.2,377.7 Z" fill="rgb(150,195,196)"/>
<path d="M437.7,301.16 L438.5,300.6 L439.2,300.2 L440,299.9 L440.8,299.8 L441.6,299.7 L442.3,299.9 L443.1,300.3 L443.9,300.8 L444.6,301.5 L445.4,302.3 L446.2,303.3 L446.9,304.3 L447.7,305.4 L448.5,306.5 L449.3,307.8 L450,309.1 L450.8,310.6 L451.6,312.2 L452.3,313.9 L453.1,315.7 L453.9,317.6 L454.7,319.5 L455.4,321.4 L456.2,323.2 L457,325 L457.7,326.7 L458.5,328.2 L459.3,329.7 L460.1,331 L460.8,332.3 L461.6,333.4 L462.4,334.4 L463.1,335.3 L463.9,336.1 L464.7,336.8 L465.4,337.4 L466.2,338 L467,338.5 L467.8,338.9 L468.5,339.3 L469.3,339.7 L470.1,340 L470.8,340.3 L471.6,340.5 L472.4,340.8 L473.2,341.1 L473.9,341.3 L474.7,341.6 L475.5,341.9 L476.2,342.3 L477,342.6 L477.8,343 L478.6,343.3 L479.3,343.7 L480.1,344.1 L480.9,344.5 L481.6,344.9 L482.4,345.3 L483.2,345.7 L484,346 L484.7,346.4 L485.5,346.8 L486.3,347.1 L487,347.5 L487.8,347.8 L488.6,348.2 L489.3,348.5 L490.1,348.8 L490.9,349.2 L491.7,349.5 L492.4,349.9 L493.2,350.2 L494,350.6 L494.7,350.9 L495.5,351.3 L496.3,351.6 L497.1,352 L497.8,352.4 L498.6,352.8 L499.4,353.1 L500.1,353.5 L500.9,353.9 L501.7,354.3 L502.5,354.6 L503.2,355 L504,355.4 L504.8,355.8 L505.5,356.2 L506.3,356.5 L507.1,356.9 L507.8,357.3 L508.6,357.7 L509.4,358.1 L510.2,358.5 L510.9,358.9 L511.7,359.3 L512.5,359.7 L513.2,360.1 L514,360.6 L514.8,361 L515.6,361.4 L516.3,361.8 L517.1,362.3 L517.9,362.7 L518.6,363.1 L519.4,363.6 L520.2,364 L521,364.4 L521.7,364.9 L522.5,365.3 L523.3,365.7 L524,366.1 L524.8,366.6 L525.6,367 L526.3,367.4 L527.1,367.8 L527.9,368.2 L528.7,368.6 L529.4,369 L530.2,369.4" fill="none" stroke="#3a3a3a" stroke-width="0.9"/>
<path d="M437.7,335.45 L438.5,335.4 L439.2,335.2 L440,335.1 L440.8,335 L441.6,334.8 L442.3,334.7 L443.1,334.5 L443.9,334.3 L444.6,334.2 L445.4,334 L446.2,333.9 L446.9,333.8 L447.7,333.7 L448.5,333.6 L449.3,333.5 L450,333.5 L450.8,333.5 L451.6,333.5 L452.3,333.6 L453.1,333.7 L453.9,333.8 L454.7,334 L455.4,334.1 L456.2,334.3 L457,334.4 L457.7,334.5 L458.5,334.7 L459.3,334.8 L460.1,334.9 L460.8,335 L461.6,335.1 L462.4,335.2 L463.1,335.3 L463.9,335.3 L464.7,335.4 L465.4,335.5 L466.2,335.5 L467,335.5 L467.8,335.6 L468.5,335.6 L469.3,335.7 L470.1,335.7 L470.8,335.7 L471.6,335.8 L472.4,335.8 L473.2,335.8 L473.9,335.9 L474.7,336 L475.5,336 L476.2,336.1 L477,336.2 L477.8,336.3 L478.6,336.4 L479.3,336.5 L480.1,336.6 L480.9,336.8 L481.6,336.9 L482.4,337.1 L483.2,337.3 L484,337.4 L484.7,337.6 L485.5,337.8 L486.3,338 L487,338.3 L487.8,338.5 L488.6,338.7 L489.3,339 L490.1,339.3 L490.9,339.5 L491.7,339.8 L492.4,340.1 L493.2,340.4 L494,340.7 L494.7,341.1 L495.5,341.4 L496.3,341.8 L497.1,342.1 L497.8,342.5 L498.6,342.9 L499.4,343.3 L500.1,343.7 L500.9,344.1 L501.7,344.5 L502.5,344.9 L503.2,345.3 L504,345.8 L504.8,346.2 L505.5,346.6 L506.3,347.1 L507.1,347.5 L507.8,348 L508.6,348.4 L509.4,348.9 L510.2,349.3 L510.9,349.8 L511.7,350.2 L512.5,350.7 L513.2,351.1 L514,351.6 L514.8,352 L515.6,352.5 L516.3,352.9 L517.1,353.4 L517.9,353.8 L518.6,354.3 L519.4,354.7 L520.2,355.2 L521,355.6 L521.7,356.1 L522.5,356.5 L523.3,357 L524,357.5 L524.8,357.9 L525.6,358.4 L526.3,358.9 L527.1,359.4 L527.9,359.8 L528.7,360.3 L529.4,360.8 L530.2,361.3" fill="none" stroke="#3a3a3a" stroke-width="0.9"/>
<rect x="433" y="274" width="101.8" height="108.5" fill="none" stroke="#111" stroke-width="1.5"/>
<line x1="429.4" y1="377.7" x2="433" y2="377.7" stroke="#555" stroke-width="0.8"/>
<text x="429" y="380.8" class="tk" text-anchor="end">0.00</text>
<line x1="429.4" y1="352.85" x2="433" y2="352.85" stroke="#555" stroke-width="0.8"/>
<text x="429" y="355.95" class="tk" text-anchor="end">0.05</text>
<line x1="429.4" y1="328" x2="433" y2="328" stroke="#555" stroke-width="0.8"/>
<text x="429" y="331.1" class="tk" text-anchor="end">0.10</text>
<line x1="429.4" y1="303.15" x2="433" y2="303.15" stroke="#555" stroke-width="0.8"/>
<text x="429" y="306.25" class="tk" text-anchor="end">0.15</text>
<line x1="429.4" y1="278.3" x2="433" y2="278.3" stroke="#555" stroke-width="0.8"/>
<text x="429" y="281.4" class="tk" text-anchor="end">0.20</text>
<line x1="437.7" y1="382.5" x2="437.7" y2="385.5" stroke="#777" stroke-width="0.8"/>
<text x="437.7" y="391.7" class="tk" text-anchor="middle">0.0</text>
<line x1="460.82" y1="382.5" x2="460.82" y2="385.5" stroke="#777" stroke-width="0.8"/>
<text x="460.82" y="391.7" class="tk" text-anchor="middle">2.5</text>
<line x1="483.95" y1="382.5" x2="483.95" y2="385.5" stroke="#777" stroke-width="0.8"/>
<text x="483.95" y="391.7" class="tk" text-anchor="middle">5.0</text>
<line x1="507.08" y1="382.5" x2="507.08" y2="385.5" stroke="#777" stroke-width="0.8"/>
<text x="507.08" y="391.7" class="tk" text-anchor="middle">7.5</text>
<line x1="530.2" y1="382.5" x2="530.2" y2="385.5" stroke="#777" stroke-width="0.8"/>
<text x="530.2" y="391.7" class="tk" text-anchor="middle">10.0</text>
<text transform="translate(413,328.25) rotate(-90)" class="dl" text-anchor="middle">Density</text>
<text x="484" y="296.2" class="ti" text-anchor="middle">Sad</text>
<line x1="475.43" y1="297.5" x2="492.57" y2="297.5" stroke="#222" stroke-width="0.9"/>
<text x="490.5" y="316.6" class="pv"><tspan font-style="italic">P</tspan> = 0.031</text>
<path d="M38.7,508.7 L38.7,413.5 L39.5,408.9 L40.3,410.3 L41.1,415.6 L41.9,422.7 L42.7,430 L43.6,437.5 L44.4,445.2 L45.2,452.1 L46,457.6 L46.8,462.6 L47.6,467.8 L48.4,472.3 L49.2,475.7 L50,478.9 L50.8,482.5 L51.6,486.6 L52.4,490.6 L53.2,493.5 L54.1,495.4 L54.9,496.7 L55.7,497.6 L56.5,498.2 L57.3,498.7 L58.1,499.1 L58.9,499.4 L59.7,499.6 L60.5,499.9 L61.3,500.1 L62.1,500.3 L63,500.4 L63.8,500.6 L64.6,500.7 L65.4,500.9 L66.2,501 L67,501.1 L67.8,501.3 L68.6,501.4 L69.4,501.5 L70.2,501.7 L71,501.8 L71.8,501.9 L72.7,502.1 L73.5,502.2 L74.3,502.3 L75.1,502.4 L75.9,502.5 L76.7,502.6 L77.5,502.8 L78.3,502.9 L79.1,503 L79.9,503.1 L80.7,503.3 L81.5,503.4 L82.3,503.6 L83.2,503.7 L84,503.8 L84.8,504 L85.6,504.1 L86.4,504.3 L87.2,504.4 L88,504.6 L88.8,504.7 L89.6,504.9 L90.4,505.1 L91.2,505.3 L92,505.4 L92.9,505.6 L93.7,505.7 L94.5,505.9 L95.3,506 L96.1,506.1 L96.9,506.2 L97.7,506.3 L98.5,506.3 L99.3,506.3 L100.1,506.4 L100.9,506.4 L101.8,506.4 L102.6,506.3 L103.4,506.3 L104.2,506.2 L105,506.1 L105.8,506 L106.6,505.9 L107.4,505.7 L108.2,505.6 L109,505.4 L109.8,505.2 L110.6,505 L111.5,504.8 L112.3,504.6 L113.1,504.4 L113.9,504.2 L114.7,504 L115.5,503.8 L116.3,503.7 L117.1,503.5 L117.9,503.4 L118.7,503.2 L119.5,503.1 L120.3,503 L121.1,502.9 L122,502.8 L122.8,502.6 L123.6,502.5 L124.4,502.4 L125.2,502.2 L126,502 L126.8,501.8 L127.6,501.6 L128.4,501.4 L129.2,501.1 L130,500.7 L130.8,500.4 L131.7,500.1 L132.5,499.7 L133.3,499.5 L134.1,499.3 L134.9,499.2 L135.7,499.2 L135.7,508.7 Z" fill="rgb(247,197,197)"/>
<path d="M38.7,508.7 L38.7,474.2 L39.5,474.6 L40.3,474.9 L41.1,475 L41.9,475.2 L42.7,475.3 L43.6,475.3 L44.4,475.4 L45.2,475.4 L46,475.5 L46.8,475.7 L47.6,475.8 L48.4,476.1 L49.2,476.5 L50,477 L50.8,477.6 L51.6,478.3 L52.4,479 L53.2,479.8 L54.1,480.6 L54.9,481.3 L55.7,482.1 L56.5,482.8 L57.3,483.4 L58.1,484 L58.9,484.5 L59.7,485 L60.5,485.5 L61.3,485.9 L62.1,486.4 L63,486.8 L63.8,487.2 L64.6,487.7 L65.4,488.1 L66.2,488.6 L67,489 L67.8,489.4 L68.6,489.9 L69.4,490.3 L70.2,490.7 L71,491.1 L71.8,491.5 L72.7,491.9 L73.5,492.2 L74.3,492.5 L75.1,492.8 L75.9,493.1 L76.7,493.4 L77.5,493.7 L78.3,494 L79.1,494.3 L79.9,494.5 L80.7,494.8 L81.5,495 L82.3,495.3 L83.2,495.5 L84,495.7 L84.8,495.8 L85.6,496 L86.4,496.2 L87.2,496.3 L88,496.5 L88.8,496.6 L89.6,496.8 L90.4,497 L91.2,497.1 L92,497.3 L92.9,497.5 L93.7,497.6 L94.5,497.8 L95.3,497.9 L96.1,498 L96.9,498.1 L97.7,498.2 L98.5,498.4 L99.3,498.5 L100.1,498.6 L100.9,498.7 L101.8,498.8 L102.6,498.9 L103.4,499 L104.2,499.2 L105,499.3 L105.8,499.4 L106.6,499.5 L107.4,499.7 L108.2,499.8 L109,499.9 L109.8,500 L110.6,500.2 L111.5,500.3 L112.3,500.4 L113.1,500.5 L113.9,500.7 L114.7,500.8 L115.5,500.9 L116.3,501 L117.1,501.2 L117.9,501.3 L118.7,501.4 L119.5,501.5 L120.3,501.7 L121.1,501.8 L122,501.9 L122.8,502.1 L123.6,502.2 L124.4,502.3 L125.2,502.5 L126,502.6 L126.8,502.8 L127.6,502.9 L128.4,503.1 L129.2,503.2 L130,503.4 L130.8,503.6 L131.7,503.7 L132.5,503.9 L133.3,504.1 L134.1,504.3 L134.9,504.5 L135.7,504.7 L135.7,508.7 Z" fill="rgb(156,217,222)"/>
<path d="M38.7,508.7 L38.7,474.2 L39.5,474.6 L40.3,474.9 L41.1,475 L41.9,475.2 L42.7,475.3 L43.6,475.3 L44.4,475.4 L45.2,475.4 L46,475.5 L46.8,475.7 L47.6,475.8 L48.4,476.1 L49.2,476.5 L50,478.9 L50.8,482.5 L51.6,486.6 L52.4,490.6 L53.2,493.5 L54.1,495.4 L54.9,496.7 L55.7,497.6 L56.5,498.2 L57.3,498.7 L58.1,499.1 L58.9,499.4 L59.7,499.6 L60.5,499.9 L61.3,500.1 L62.1,500.3 L63,500.4 L63.8,500.6 L64.6,500.7 L65.4,500.9 L66.2,501 L67,501.1 L67.8,501.3 L68.6,501.4 L69.4,501.5 L70.2,501.7 L71,501.8 L71.8,501.9 L72.7,502.1 L73.5,502.2 L74.3,502.3 L75.1,502.4 L75.9,502.5 L76.7,502.6 L77.5,502.8 L78.3,502.9 L79.1,503 L79.9,503.1 L80.7,503.3 L81.5,503.4 L82.3,503.6 L83.2,503.7 L84,503.8 L84.8,504 L85.6,504.1 L86.4,504.3 L87.2,504.4 L88,504.6 L88.8,504.7 L89.6,504.9 L90.4,505.1 L91.2,505.3 L92,505.4 L92.9,505.6 L93.7,505.7 L94.5,505.9 L95.3,506 L96.1,506.1 L96.9,506.2 L97.7,506.3 L98.5,506.3 L99.3,506.3 L100.1,506.4 L100.9,506.4 L101.8,506.4 L102.6,506.3 L103.4,506.3 L104.2,506.2 L105,506.1 L105.8,506 L106.6,505.9 L107.4,505.7 L108.2,505.6 L109,505.4 L109.8,505.2 L110.6,505 L111.5,504.8 L112.3,504.6 L113.1,504.4 L113.9,504.2 L114.7,504 L115.5,503.8 L116.3,503.7 L117.1,503.5 L117.9,503.4 L118.7,503.2 L119.5,503.1 L120.3,503 L121.1,502.9 L122,502.8 L122.8,502.6 L123.6,502.5 L124.4,502.4 L125.2,502.5 L126,502.6 L126.8,502.8 L127.6,502.9 L128.4,503.1 L129.2,503.2 L130,503.4 L130.8,503.6 L131.7,503.7 L132.5,503.9 L133.3,504.1 L134.1,504.3 L134.9,504.5 L135.7,504.7 L135.7,508.7 Z" fill="rgb(150,195,196)"/>
<path d="M38.7,413.51 L39.5,408.9 L40.3,410.3 L41.1,415.6 L41.9,422.7 L42.7,430 L43.6,437.5 L44.4,445.2 L45.2,452.1 L46,457.6 L46.8,462.6 L47.6,467.8 L48.4,472.3 L49.2,475.7 L50,478.9 L50.8,482.5 L51.6,486.6 L52.4,490.6 L53.2,493.5 L54.1,495.4 L54.9,496.7 L55.7,497.6 L56.5,498.2 L57.3,498.7 L58.1,499.1 L58.9,499.4 L59.7,499.6 L60.5,499.9 L61.3,500.1 L62.1,500.3 L63,500.4 L63.8,500.6 L64.6,500.7 L65.4,500.9 L66.2,501 L67,501.1 L67.8,501.3 L68.6,501.4 L69.4,501.5 L70.2,501.7 L71,501.8 L71.8,501.9 L72.7,502.1 L73.5,502.2 L74.3,502.3 L75.1,502.4 L75.9,502.5 L76.7,502.6 L77.5,502.8 L78.3,502.9 L79.1,503 L79.9,503.1 L80.7,503.3 L81.5,503.4 L82.3,503.6 L83.2,503.7 L84,503.8 L84.8,504 L85.6,504.1 L86.4,504.3 L87.2,504.4 L88,504.6 L88.8,504.7 L89.6,504.9 L90.4,505.1 L91.2,505.3 L92,505.4 L92.9,505.6 L93.7,505.7 L94.5,505.9 L95.3,506 L96.1,506.1 L96.9,506.2 L97.7,506.3 L98.5,506.3 L99.3,506.3 L100.1,506.4 L100.9,506.4 L101.8,506.4 L102.6,506.3 L103.4,506.3 L104.2,506.2 L105,506.1 L105.8,506 L106.6,505.9 L107.4,505.7 L108.2,505.6 L109,505.4 L109.8,505.2 L110.6,505 L111.5,504.8 L112.3,504.6 L113.1,504.4 L113.9,504.2 L114.7,504 L115.5,503.8 L116.3,503.7 L117.1,503.5 L117.9,503.4 L118.7,503.2 L119.5,503.1 L120.3,503 L121.1,502.9 L122,502.8 L122.8,502.6 L123.6,502.5 L124.4,502.4 L125.2,502.2 L126,502 L126.8,501.8 L127.6,501.6 L128.4,501.4 L129.2,501.1 L130,500.7 L130.8,500.4 L131.7,500.1 L132.5,499.7 L133.3,499.5 L134.1,499.3 L134.9,499.2 L135.7,499.2" fill="none" stroke="#3a3a3a" stroke-width="0.9"/>
<path d="M38.7,474.21 L39.5,474.6 L40.3,474.9 L41.1,475 L41.9,475.2 L42.7,475.3 L43.6,475.3 L44.4,475.4 L45.2,475.4 L46,475.5 L46.8,475.7 L47.6,475.8 L48.4,476.1 L49.2,476.5 L50,477 L50.8,477.6 L51.6,478.3 L52.4,479 L53.2,479.8 L54.1,480.6 L54.9,481.3 L55.7,482.1 L56.5,482.8 L57.3,483.4 L58.1,484 L58.9,484.5 L59.7,485 L60.5,485.5 L61.3,485.9 L62.1,486.4 L63,486.8 L63.8,487.2 L64.6,487.7 L65.4,488.1 L66.2,488.6 L67,489 L67.8,489.4 L68.6,489.9 L69.4,490.3 L70.2,490.7 L71,491.1 L71.8,491.5 L72.7,491.9 L73.5,492.2 L74.3,492.5 L75.1,492.8 L75.9,493.1 L76.7,493.4 L77.5,493.7 L78.3,494 L79.1,494.3 L79.9,494.5 L80.7,494.8 L81.5,495 L82.3,495.3 L83.2,495.5 L84,495.7 L84.8,495.8 L85.6,496 L86.4,496.2 L87.2,496.3 L88,496.5 L88.8,496.6 L89.6,496.8 L90.4,497 L91.2,497.1 L92,497.3 L92.9,497.5 L93.7,497.6 L94.5,497.8 L95.3,497.9 L96.1,498 L96.9,498.1 L97.7,498.2 L98.5,498.4 L99.3,498.5 L100.1,498.6 L100.9,498.7 L101.8,498.8 L102.6,498.9 L103.4,499 L104.2,499.2 L105,499.3 L105.8,499.4 L106.6,499.5 L107.4,499.7 L108.2,499.8 L109,499.9 L109.8,500 L110.6,500.2 L111.5,500.3 L112.3,500.4 L113.1,500.5 L113.9,500.7 L114.7,500.8 L115.5,500.9 L116.3,501 L117.1,501.2 L117.9,501.3 L118.7,501.4 L119.5,501.5 L120.3,501.7 L121.1,501.8 L122,501.9 L122.8,502.1 L123.6,502.2 L124.4,502.3 L125.2,502.5 L126,502.6 L126.8,502.8 L127.6,502.9 L128.4,503.1 L129.2,503.2 L130,503.4 L130.8,503.6 L131.7,503.7 L132.5,503.9 L133.3,504.1 L134.1,504.3 L134.9,504.5 L135.7,504.7" fill="none" stroke="#3a3a3a" stroke-width="0.9"/>
<rect x="34.4" y="405.8" width="104.8" height="108.2" fill="none" stroke="#111" stroke-width="1.5"/>
<line x1="30.8" y1="508.7" x2="34.4" y2="508.7" stroke="#555" stroke-width="0.8"/>
<text x="30.4" y="511.8" class="tk" text-anchor="end">0.0</text>
<line x1="30.8" y1="483.98" x2="34.4" y2="483.98" stroke="#555" stroke-width="0.8"/>
<text x="30.4" y="487.08" class="tk" text-anchor="end">0.1</text>
<line x1="30.8" y1="459.25" x2="34.4" y2="459.25" stroke="#555" stroke-width="0.8"/>
<text x="30.4" y="462.35" class="tk" text-anchor="end">0.2</text>
<line x1="30.8" y1="434.52" x2="34.4" y2="434.52" stroke="#555" stroke-width="0.8"/>
<text x="30.4" y="437.62" class="tk" text-anchor="end">0.3</text>
<line x1="30.8" y1="409.8" x2="34.4" y2="409.8" stroke="#555" stroke-width="0.8"/>
<text x="30.4" y="412.9" class="tk" text-anchor="end">0.4</text>
<line x1="38.7" y1="514" x2="38.7" y2="517" stroke="#777" stroke-width="0.8"/>
<text x="38.7" y="523.2" class="tk" text-anchor="middle">0.0</text>
<line x1="62.95" y1="514" x2="62.95" y2="517" stroke="#777" stroke-width="0.8"/>
<text x="62.95" y="523.2" class="tk" text-anchor="middle">2.5</text>
<line x1="87.2" y1="514" x2="87.2" y2="517" stroke="#777" stroke-width="0.8"/>
<text x="87.2" y="523.2" class="tk" text-anchor="middle">5.0</text>
<line x1="111.45" y1="514" x2="111.45" y2="517" stroke="#777" stroke-width="0.8"/>
<text x="111.45" y="523.2" class="tk" text-anchor="middle">7.5</text>
<line x1="135.7" y1="514" x2="135.7" y2="517" stroke="#777" stroke-width="0.8"/>
<text x="135.7" y="523.2" class="tk" text-anchor="middle">10.0</text>
<text transform="translate(22.1,459.9) rotate(-90)" class="dl" text-anchor="middle">Density</text>
<text x="88.5" y="427.5" class="ti" text-anchor="middle">Vomiting</text>
<line x1="68.85" y1="428.8" x2="108.15" y2="428.8" stroke="#222" stroke-width="0.9"/>
<text x="90.5" y="452" class="pv"><tspan font-style="italic">P</tspan> = 0.082</text>
<path d="M173.9,508.7 L173.9,438.5 L174.7,438.4 L175.5,438.2 L176.2,438.1 L177,438 L177.8,438 L178.6,438 L179.3,438.2 L180.1,438.4 L180.9,438.7 L181.7,439.1 L182.5,439.7 L183.2,440.5 L184,441.3 L184.8,442.4 L185.6,443.6 L186.3,444.8 L187.1,446.2 L187.9,447.7 L188.7,449.2 L189.4,450.8 L190.2,452.4 L191,454 L191.8,455.5 L192.6,457 L193.3,458.5 L194.1,459.8 L194.9,461.1 L195.7,462.4 L196.4,463.5 L197.2,464.7 L198,465.7 L198.8,466.8 L199.6,467.8 L200.3,468.7 L201.1,469.7 L201.9,470.6 L202.7,471.4 L203.4,472.2 L204.2,473 L205,473.8 L205.8,474.5 L206.6,475.2 L207.3,475.8 L208.1,476.5 L208.9,477.1 L209.7,477.6 L210.4,478.2 L211.2,478.6 L212,479.1 L212.8,479.5 L213.6,479.9 L214.3,480.3 L215.1,480.7 L215.9,481 L216.7,481.3 L217.4,481.6 L218.2,481.9 L219,482.2 L219.8,482.4 L220.6,482.7 L221.3,483 L222.1,483.3 L222.9,483.5 L223.7,483.8 L224.4,484.1 L225.2,484.4 L226,484.6 L226.8,484.9 L227.5,485.2 L228.3,485.5 L229.1,485.8 L229.9,486 L230.7,486.3 L231.4,486.6 L232.2,486.9 L233,487.1 L233.8,487.3 L234.5,487.6 L235.3,487.8 L236.1,488 L236.9,488.2 L237.7,488.4 L238.4,488.5 L239.2,488.7 L240,488.8 L240.8,489 L241.5,489.1 L242.3,489.3 L243.1,489.4 L243.9,489.5 L244.7,489.7 L245.4,489.8 L246.2,489.9 L247,490 L247.8,490.1 L248.5,490.3 L249.3,490.4 L250.1,490.5 L250.9,490.6 L251.6,490.7 L252.4,490.8 L253.2,490.9 L254,491 L254.8,491.1 L255.5,491.2 L256.3,491.3 L257.1,491.4 L257.9,491.6 L258.6,491.7 L259.4,491.8 L260.2,492 L261,492.1 L261.8,492.3 L262.5,492.4 L263.3,492.6 L264.1,492.8 L264.9,493 L265.6,493.2 L266.4,493.5 L267.2,493.7 L267.2,508.7 Z" fill="rgb(247,197,197)"/>
<path d="M173.9,508.7 L173.9,452.8 L174.7,452.5 L175.5,452.3 L176.2,452.2 L177,452.1 L177.8,452 L178.6,452 L179.3,452 L180.1,452.1 L180.9,452.2 L181.7,452.4 L182.5,452.5 L183.2,452.8 L184,453 L184.8,453.3 L185.6,453.7 L186.3,454.1 L187.1,454.5 L187.9,455 L188.7,455.5 L189.4,456.1 L190.2,456.7 L191,457.4 L191.8,458.1 L192.6,458.9 L193.3,459.8 L194.1,460.7 L194.9,461.6 L195.7,462.5 L196.4,463.5 L197.2,464.4 L198,465.3 L198.8,466.2 L199.6,467.1 L200.3,468 L201.1,468.8 L201.9,469.6 L202.7,470.3 L203.4,471.1 L204.2,471.8 L205,472.4 L205.8,473 L206.6,473.6 L207.3,474.1 L208.1,474.7 L208.9,475.1 L209.7,475.6 L210.4,476 L211.2,476.4 L212,476.8 L212.8,477.2 L213.6,477.5 L214.3,477.9 L215.1,478.2 L215.9,478.5 L216.7,478.8 L217.4,479.1 L218.2,479.4 L219,479.7 L219.8,479.9 L220.6,480.2 L221.3,480.4 L222.1,480.7 L222.9,480.9 L223.7,481.1 L224.4,481.4 L225.2,481.6 L226,481.8 L226.8,482 L227.5,482.1 L228.3,482.3 L229.1,482.5 L229.9,482.7 L230.7,482.8 L231.4,483 L232.2,483.2 L233,483.4 L233.8,483.7 L234.5,483.9 L235.3,484.2 L236.1,484.5 L236.9,484.8 L237.7,485.1 L238.4,485.4 L239.2,485.7 L240,486 L240.8,486.3 L241.5,486.6 L242.3,486.8 L243.1,487.1 L243.9,487.4 L244.7,487.6 L245.4,487.9 L246.2,488.1 L247,488.4 L247.8,488.6 L248.5,488.8 L249.3,489.1 L250.1,489.3 L250.9,489.5 L251.6,489.8 L252.4,490 L253.2,490.2 L254,490.4 L254.8,490.7 L255.5,490.9 L256.3,491.2 L257.1,491.4 L257.9,491.6 L258.6,491.9 L259.4,492.2 L260.2,492.4 L261,492.7 L261.8,493 L262.5,493.3 L263.3,493.5 L264.1,493.9 L264.9,494.2 L265.6,494.5 L266.4,494.8 L267.2,495.2 L267.2,508.7 Z" fill="rgb(156,217,222)"/>
<path d="M173.9,508.7 L173.9,452.8 L174.7,452.5 L175.5,452.3 L176.2,452.2 L177,452.1 L177.8,452 L178.6,452 L179.3,452 L180.1,452.1 L180.9,452.2 L181.7,452.4 L182.5,452.5 L183.2,452.8 L184,453 L184.8,453.3 L185.6,453.7 L186.3,454.1 L187.1,454.5 L187.9,455 L188.7,455.5 L189.4,456.1 L190.2,456.7 L191,457.4 L191.8,458.1 L192.6,458.9 L193.3,459.8 L194.1,460.7 L194.9,461.6 L195.7,462.5 L196.4,463.5 L197.2,464.7 L198,465.7 L198.8,466.8 L199.6,467.8 L200.3,468.7 L201.1,469.7 L201.9,470.6 L202.7,471.4 L203.4,472.2 L204.2,473 L205,473.8 L205.8,474.5 L206.6,475.2 L207.3,475.8 L208.1,476.5 L208.9,477.1 L209.7,477.6 L210.4,478.2 L211.2,478.6 L212,479.1 L212.8,479.5 L213.6,479.9 L214.3,480.3 L215.1,480.7 L215.9,481 L216.7,481.3 L217.4,481.6 L218.2,481.9 L219,482.2 L219.8,482.4 L220.6,482.7 L221.3,483 L222.1,483.3 L222.9,483.5 L223.7,483.8 L224.4,484.1 L225.2,484.4 L226,484.6 L226.8,484.9 L227.5,485.2 L228.3,485.5 L229.1,485.8 L229.9,486 L230.7,486.3 L231.4,486.6 L232.2,486.9 L233,487.1 L233.8,487.3 L234.5,487.6 L235.3,487.8 L236.1,488 L236.9,488.2 L237.7,488.4 L238.4,488.5 L239.2,488.7 L240,488.8 L240.8,489 L241.5,489.1 L242.3,489.3 L243.1,489.4 L243.9,489.5 L244.7,489.7 L245.4,489.8 L246.2,489.9 L247,490 L247.8,490.1 L248.5,490.3 L249.3,490.4 L250.1,490.5 L250.9,490.6 L251.6,490.7 L252.4,490.8 L253.2,490.9 L254,491 L254.8,491.1 L255.5,491.2 L256.3,491.3 L257.1,491.4 L257.9,491.6 L258.6,491.9 L259.4,492.2 L260.2,492.4 L261,492.7 L261.8,493 L262.5,493.3 L263.3,493.5 L264.1,493.9 L264.9,494.2 L265.6,494.5 L266.4,494.8 L267.2,495.2 L267.2,508.7 Z" fill="rgb(150,195,196)"/>
<path d="M173.9,438.54 L174.7,438.4 L175.5,438.2 L176.2,438.1 L177,438 L177.8,438 L178.6,438 L179.3,438.2 L180.1,438.4 L180.9,438.7 L181.7,439.1 L182.5,439.7 L183.2,440.5 L184,441.3 L184.8,442.4 L185.6,443.6 L186.3,444.8 L187.1,446.2 L187.9,447.7 L188.7,449.2 L189.4,450.8 L190.2,452.4 L191,454 L191.8,455.5 L192.6,457 L193.3,458.5 L194.1,459.8 L194.9,461.1 L195.7,462.4 L196.4,463.5 L197.2,464.7 L198,465.7 L198.8,466.8 L199.6,467.8 L200.3,468.7 L201.1,469.7 L201.9,470.6 L202.7,471.4 L203.4,472.2 L204.2,473 L205,473.8 L205.8,474.5 L206.6,475.2 L207.3,475.8 L208.1,476.5 L208.9,477.1 L209.7,477.6 L210.4,478.2 L211.2,478.6 L212,479.1 L212.8,479.5 L213.6,479.9 L214.3,480.3 L215.1,480.7 L215.9,481 L216.7,481.3 L217.4,481.6 L218.2,481.9 L219,482.2 L219.8,482.4 L220.6,482.7 L221.3,483 L222.1,483.3 L222.9,483.5 L223.7,483.8 L224.4,484.1 L225.2,484.4 L226,484.6 L226.8,484.9 L227.5,485.2 L228.3,485.5 L229.1,485.8 L229.9,486 L230.7,486.3 L231.4,486.6 L232.2,486.9 L233,487.1 L233.8,487.3 L234.5,487.6 L235.3,487.8 L236.1,488 L236.9,488.2 L237.7,488.4 L238.4,488.5 L239.2,488.7 L240,488.8 L240.8,489 L241.5,489.1 L242.3,489.3 L243.1,489.4 L243.9,489.5 L244.7,489.7 L245.4,489.8 L246.2,489.9 L247,490 L247.8,490.1 L248.5,490.3 L249.3,490.4 L250.1,490.5 L250.9,490.6 L251.6,490.7 L252.4,490.8 L253.2,490.9 L254,491 L254.8,491.1 L255.5,491.2 L256.3,491.3 L257.1,491.4 L257.9,491.6 L258.6,491.7 L259.4,491.8 L260.2,492 L261,492.1 L261.8,492.3 L262.5,492.4 L263.3,492.6 L264.1,492.8 L264.9,493 L265.6,493.2 L266.4,493.5 L267.2,493.7" fill="none" stroke="#3a3a3a" stroke-width="0.9"/>
<path d="M173.9,452.76 L174.7,452.5 L175.5,452.3 L176.2,452.2 L177,452.1 L177.8,452 L178.6,452 L179.3,452 L180.1,452.1 L180.9,452.2 L181.7,452.4 L182.5,452.5 L183.2,452.8 L184,453 L184.8,453.3 L185.6,453.7 L186.3,454.1 L187.1,454.5 L187.9,455 L188.7,455.5 L189.4,456.1 L190.2,456.7 L191,457.4 L191.8,458.1 L192.6,458.9 L193.3,459.8 L194.1,460.7 L194.9,461.6 L195.7,462.5 L196.4,463.5 L197.2,464.4 L198,465.3 L198.8,466.2 L199.6,467.1 L200.3,468 L201.1,468.8 L201.9,469.6 L202.7,470.3 L203.4,471.1 L204.2,471.8 L205,472.4 L205.8,473 L206.6,473.6 L207.3,474.1 L208.1,474.7 L208.9,475.1 L209.7,475.6 L210.4,476 L211.2,476.4 L212,476.8 L212.8,477.2 L213.6,477.5 L214.3,477.9 L215.1,478.2 L215.9,478.5 L216.7,478.8 L217.4,479.1 L218.2,479.4 L219,479.7 L219.8,479.9 L220.6,480.2 L221.3,480.4 L222.1,480.7 L222.9,480.9 L223.7,481.1 L224.4,481.4 L225.2,481.6 L226,481.8 L226.8,482 L227.5,482.1 L228.3,482.3 L229.1,482.5 L229.9,482.7 L230.7,482.8 L231.4,483 L232.2,483.2 L233,483.4 L233.8,483.7 L234.5,483.9 L235.3,484.2 L236.1,484.5 L236.9,484.8 L237.7,485.1 L238.4,485.4 L239.2,485.7 L240,486 L240.8,486.3 L241.5,486.6 L242.3,486.8 L243.1,487.1 L243.9,487.4 L244.7,487.6 L245.4,487.9 L246.2,488.1 L247,488.4 L247.8,488.6 L248.5,488.8 L249.3,489.1 L250.1,489.3 L250.9,489.5 L251.6,489.8 L252.4,490 L253.2,490.2 L254,490.4 L254.8,490.7 L255.5,490.9 L256.3,491.2 L257.1,491.4 L257.9,491.6 L258.6,491.9 L259.4,492.2 L260.2,492.4 L261,492.7 L261.8,493 L262.5,493.3 L263.3,493.5 L264.1,493.9 L264.9,494.2 L265.6,494.5 L266.4,494.8 L267.2,495.2" fill="none" stroke="#3a3a3a" stroke-width="0.9"/>
<rect x="169.5" y="406" width="101.7" height="107.8" fill="none" stroke="#111" stroke-width="1.5"/>
<line x1="165.9" y1="508.7" x2="169.5" y2="508.7" stroke="#555" stroke-width="0.8"/>
<text x="165.5" y="511.8" class="tk" text-anchor="end">0.00</text>
<line x1="165.9" y1="484.1" x2="169.5" y2="484.1" stroke="#555" stroke-width="0.8"/>
<text x="165.5" y="487.2" class="tk" text-anchor="end">0.05</text>
<line x1="165.9" y1="459.5" x2="169.5" y2="459.5" stroke="#555" stroke-width="0.8"/>
<text x="165.5" y="462.6" class="tk" text-anchor="end">0.10</text>
<line x1="165.9" y1="434.9" x2="169.5" y2="434.9" stroke="#555" stroke-width="0.8"/>
<text x="165.5" y="438" class="tk" text-anchor="end">0.15</text>
<line x1="165.9" y1="410.3" x2="169.5" y2="410.3" stroke="#555" stroke-width="0.8"/>
<text x="165.5" y="413.4" class="tk" text-anchor="end">0.20</text>
<line x1="173.9" y1="513.8" x2="173.9" y2="516.8" stroke="#777" stroke-width="0.8"/>
<text x="173.9" y="523" class="tk" text-anchor="middle">0.0</text>
<line x1="197.22" y1="513.8" x2="197.22" y2="516.8" stroke="#777" stroke-width="0.8"/>
<text x="197.22" y="523" class="tk" text-anchor="middle">2.5</text>
<line x1="220.55" y1="513.8" x2="220.55" y2="516.8" stroke="#777" stroke-width="0.8"/>
<text x="220.55" y="523" class="tk" text-anchor="middle">5.0</text>
<line x1="243.88" y1="513.8" x2="243.88" y2="516.8" stroke="#777" stroke-width="0.8"/>
<text x="243.88" y="523" class="tk" text-anchor="middle">7.5</text>
<line x1="267.2" y1="513.8" x2="267.2" y2="516.8" stroke="#777" stroke-width="0.8"/>
<text x="267.2" y="523" class="tk" text-anchor="middle">10.0</text>
<text transform="translate(149.5,459.9) rotate(-90)" class="dl" text-anchor="middle">Density</text>
<text x="219.7" y="427" class="ti" text-anchor="middle">Numbness or tingling</text>
<line x1="171.65" y1="428.3" x2="267.75" y2="428.3" stroke="#222" stroke-width="0.9"/>
<text x="220" y="452" class="pv"><tspan font-style="italic">P</tspan> = 0.875</text>
<path d="M305.7,508.7 L305.7,495.8 L306.5,495.6 L307.3,495.4 L308,495.1 L308.8,494.9 L309.6,494.7 L310.4,494.4 L311.2,494.2 L311.9,493.9 L312.7,493.7 L313.5,493.4 L314.3,493.1 L315.1,492.8 L315.9,492.5 L316.6,492.2 L317.4,491.8 L318.2,491.5 L319,491.1 L319.8,490.7 L320.5,490.3 L321.3,489.9 L322.1,489.4 L322.9,488.9 L323.7,488.5 L324.4,487.9 L325.2,487.4 L326,486.9 L326.8,486.3 L327.6,485.7 L328.3,485 L329.1,484.4 L329.9,483.7 L330.7,483 L331.5,482.2 L332.2,481.5 L333,480.7 L333.8,479.9 L334.6,479.1 L335.4,478.3 L336.2,477.5 L336.9,476.7 L337.7,475.9 L338.5,475.1 L339.3,474.3 L340.1,473.5 L340.8,472.8 L341.6,472 L342.4,471.3 L343.2,470.6 L344,469.9 L344.7,469.2 L345.5,468.5 L346.3,467.9 L347.1,467.2 L347.9,466.6 L348.6,465.9 L349.4,465.3 L350.2,464.7 L351,464.2 L351.8,463.6 L352.5,463 L353.3,462.5 L354.1,462 L354.9,461.5 L355.7,461 L356.5,460.6 L357.2,460.2 L358,459.8 L358.8,459.4 L359.6,459.1 L360.4,458.8 L361.1,458.5 L361.9,458.2 L362.7,457.9 L363.5,457.7 L364.3,457.5 L365,457.3 L365.8,457.1 L366.6,456.8 L367.4,456.5 L368.2,456.2 L368.9,455.9 L369.7,455.4 L370.5,455 L371.3,454.5 L372.1,453.9 L372.9,453.4 L373.6,452.9 L374.4,452.4 L375.2,451.9 L376,451.4 L376.8,451 L377.5,450.6 L378.3,450.3 L379.1,450 L379.9,449.8 L380.7,449.5 L381.4,449.4 L382.2,449.2 L383,449.1 L383.8,449 L384.6,449 L385.3,448.9 L386.1,448.9 L386.9,448.9 L387.7,448.9 L388.5,449 L389.2,449.1 L390,449.3 L390.8,449.6 L391.6,449.9 L392.4,450.4 L393.2,450.9 L393.9,451.5 L394.7,452.3 L395.5,453.2 L396.3,454.3 L397.1,455.4 L397.8,456.8 L398.6,458.3 L399.4,460 L399.4,508.7 Z" fill="rgb(247,197,197)"/>
<path d="M305.7,508.7 L305.7,502.3 L306.5,502.1 L307.3,502 L308,501.8 L308.8,501.7 L309.6,501.5 L310.4,501.4 L311.2,501.3 L311.9,501.2 L312.7,501 L313.5,500.9 L314.3,500.8 L315.1,500.7 L315.9,500.5 L316.6,500.4 L317.4,500.2 L318.2,500.1 L319,499.9 L319.8,499.7 L320.5,499.5 L321.3,499.3 L322.1,499 L322.9,498.7 L323.7,498.4 L324.4,498.1 L325.2,497.7 L326,497.3 L326.8,496.9 L327.6,496.4 L328.3,495.9 L329.1,495.4 L329.9,494.8 L330.7,494.2 L331.5,493.5 L332.2,492.8 L333,492.1 L333.8,491.3 L334.6,490.6 L335.4,489.7 L336.2,488.9 L336.9,488 L337.7,487.1 L338.5,486.2 L339.3,485.3 L340.1,484.4 L340.8,483.5 L341.6,482.5 L342.4,481.6 L343.2,480.6 L344,479.7 L344.7,478.7 L345.5,477.8 L346.3,476.9 L347.1,476 L347.9,475 L348.6,474.2 L349.4,473.3 L350.2,472.4 L351,471.5 L351.8,470.7 L352.5,469.9 L353.3,469 L354.1,468.2 L354.9,467.4 L355.7,466.5 L356.5,465.7 L357.2,464.8 L358,464 L358.8,463.1 L359.6,462.2 L360.4,461.3 L361.1,460.4 L361.9,459.5 L362.7,458.5 L363.5,457.4 L364.3,456.4 L365,455.3 L365.8,454.2 L366.6,453.2 L367.4,452.1 L368.2,451.1 L368.9,450.2 L369.7,449.3 L370.5,448.4 L371.3,447.6 L372.1,446.9 L372.9,446.1 L373.6,445.4 L374.4,444.7 L375.2,443.9 L376,443.2 L376.8,442.4 L377.5,441.7 L378.3,440.9 L379.1,440.1 L379.9,439.4 L380.7,438.8 L381.4,438.2 L382.2,437.7 L383,437.2 L383.8,436.9 L384.6,436.8 L385.3,436.7 L386.1,436.8 L386.9,437 L387.7,437.2 L388.5,437.6 L389.2,438 L390,438.6 L390.8,439.2 L391.6,439.9 L392.4,440.6 L393.2,441.4 L393.9,442.3 L394.7,443.2 L395.5,444.1 L396.3,445.1 L397.1,446.1 L397.8,447.1 L398.6,448.1 L399.4,449.2 L399.4,508.7 Z" fill="rgb(156,217,222)"/>
<path d="M305.7,508.7 L305.7,502.3 L306.5,502.1 L307.3,502 L308,501.8 L308.8,501.7 L309.6,501.5 L310.4,501.4 L311.2,501.3 L311.9,501.2 L312.7,501 L313.5,500.9 L314.3,500.8 L315.1,500.7 L315.9,500.5 L316.6,500.4 L317.4,500.2 L318.2,500.1 L319,499.9 L319.8,499.7 L320.5,499.5 L321.3,499.3 L322.1,499 L322.9,498.7 L323.7,498.4 L324.4,498.1 L325.2,497.7 L326,497.3 L326.8,496.9 L327.6,496.4 L328.3,495.9 L329.1,495.4 L329.9,494.8 L330.7,494.2 L331.5,493.5 L332.2,492.8 L333,492.1 L333.8,491.3 L334.6,490.6 L335.4,489.7 L336.2,488.9 L336.9,488 L337.7,487.1 L338.5,486.2 L339.3,485.3 L340.1,484.4 L340.8,483.5 L341.6,482.5 L342.4,481.6 L343.2,480.6 L344,479.7 L344.7,478.7 L345.5,477.8 L346.3,476.9 L347.1,476 L347.9,475 L348.6,474.2 L349.4,473.3 L350.2,472.4 L351,471.5 L351.8,470.7 L352.5,469.9 L353.3,469 L354.1,468.2 L354.9,467.4 L355.7,466.5 L356.5,465.7 L357.2,464.8 L358,464 L358.8,463.1 L359.6,462.2 L360.4,461.3 L361.1,460.4 L361.9,459.5 L362.7,458.5 L363.5,457.7 L364.3,457.5 L365,457.3 L365.8,457.1 L366.6,456.8 L367.4,456.5 L368.2,456.2 L368.9,455.9 L369.7,455.4 L370.5,455 L371.3,454.5 L372.1,453.9 L372.9,453.4 L373.6,452.9 L374.4,452.4 L375.2,451.9 L376,451.4 L376.8,451 L377.5,450.6 L378.3,450.3 L379.1,450 L379.9,449.8 L380.7,449.5 L381.4,449.4 L382.2,449.2 L383,449.1 L383.8,449 L384.6,449 L385.3,448.9 L386.1,448.9 L386.9,448.9 L387.7,448.9 L388.5,449 L389.2,449.1 L390,449.3 L390.8,449.6 L391.6,449.9 L392.4,450.4 L393.2,450.9 L393.9,451.5 L394.7,452.3 L395.5,453.2 L396.3,454.3 L397.1,455.4 L397.8,456.8 L398.6,458.3 L399.4,460 L399.4,508.7 Z" fill="rgb(150,195,196)"/>
<path d="M305.7,495.81 L306.5,495.6 L307.3,495.4 L308,495.1 L308.8,494.9 L309.6,494.7 L310.4,494.4 L311.2,494.2 L311.9,493.9 L312.7,493.7 L313.5,493.4 L314.3,493.1 L315.1,492.8 L315.9,492.5 L316.6,492.2 L317.4,491.8 L318.2,491.5 L319,491.1 L319.8,490.7 L320.5,490.3 L321.3,489.9 L322.1,489.4 L322.9,488.9 L323.7,488.5 L324.4,487.9 L325.2,487.4 L326,486.9 L326.8,486.3 L327.6,485.7 L328.3,485 L329.1,484.4 L329.9,483.7 L330.7,483 L331.5,482.2 L332.2,481.5 L333,480.7 L333.8,479.9 L334.6,479.1 L335.4,478.3 L336.2,477.5 L336.9,476.7 L337.7,475.9 L338.5,475.1 L339.3,474.3 L340.1,473.5 L340.8,472.8 L341.6,472 L342.4,471.3 L343.2,470.6 L344,469.9 L344.7,469.2 L345.5,468.5 L346.3,467.9 L347.1,467.2 L347.9,466.6 L348.6,465.9 L349.4,465.3 L350.2,464.7 L351,464.2 L351.8,463.6 L352.5,463 L353.3,462.5 L354.1,462 L354.9,461.5 L355.7,461 L356.5,460.6 L357.2,460.2 L358,459.8 L358.8,459.4 L359.6,459.1 L360.4,458.8 L361.1,458.5 L361.9,458.2 L362.7,457.9 L363.5,457.7 L364.3,457.5 L365,457.3 L365.8,457.1 L366.6,456.8 L367.4,456.5 L368.2,456.2 L368.9,455.9 L369.7,455.4 L370.5,455 L371.3,454.5 L372.1,453.9 L372.9,453.4 L373.6,452.9 L374.4,452.4 L375.2,451.9 L376,451.4 L376.8,451 L377.5,450.6 L378.3,450.3 L379.1,450 L379.9,449.8 L380.7,449.5 L381.4,449.4 L382.2,449.2 L383,449.1 L383.8,449 L384.6,449 L385.3,448.9 L386.1,448.9 L386.9,448.9 L387.7,448.9 L388.5,449 L389.2,449.1 L390,449.3 L390.8,449.6 L391.6,449.9 L392.4,450.4 L393.2,450.9 L393.9,451.5 L394.7,452.3 L395.5,453.2 L396.3,454.3 L397.1,455.4 L397.8,456.8 L398.6,458.3 L399.4,460" fill="none" stroke="#3a3a3a" stroke-width="0.9"/>
<path d="M305.7,502.3 L306.5,502.1 L307.3,502 L308,501.8 L308.8,501.7 L309.6,501.5 L310.4,501.4 L311.2,501.3 L311.9,501.2 L312.7,501 L313.5,500.9 L314.3,500.8 L315.1,500.7 L315.9,500.5 L316.6,500.4 L317.4,500.2 L318.2,500.1 L319,499.9 L319.8,499.7 L320.5,499.5 L321.3,499.3 L322.1,499 L322.9,498.7 L323.7,498.4 L324.4,498.1 L325.2,497.7 L326,497.3 L326.8,496.9 L327.6,496.4 L328.3,495.9 L329.1,495.4 L329.9,494.8 L330.7,494.2 L331.5,493.5 L332.2,492.8 L333,492.1 L333.8,491.3 L334.6,490.6 L335.4,489.7 L336.2,488.9 L336.9,488 L337.7,487.1 L338.5,486.2 L339.3,485.3 L340.1,484.4 L340.8,483.5 L341.6,482.5 L342.4,481.6 L343.2,480.6 L344,479.7 L344.7,478.7 L345.5,477.8 L346.3,476.9 L347.1,476 L347.9,475 L348.6,474.2 L349.4,473.3 L350.2,472.4 L351,471.5 L351.8,470.7 L352.5,469.9 L353.3,469 L354.1,468.2 L354.9,467.4 L355.7,466.5 L356.5,465.7 L357.2,464.8 L358,464 L358.8,463.1 L359.6,462.2 L360.4,461.3 L361.1,460.4 L361.9,459.5 L362.7,458.5 L363.5,457.4 L364.3,456.4 L365,455.3 L365.8,454.2 L366.6,453.2 L367.4,452.1 L368.2,451.1 L368.9,450.2 L369.7,449.3 L370.5,448.4 L371.3,447.6 L372.1,446.9 L372.9,446.1 L373.6,445.4 L374.4,444.7 L375.2,443.9 L376,443.2 L376.8,442.4 L377.5,441.7 L378.3,440.9 L379.1,440.1 L379.9,439.4 L380.7,438.8 L381.4,438.2 L382.2,437.7 L383,437.2 L383.8,436.9 L384.6,436.8 L385.3,436.7 L386.1,436.8 L386.9,437 L387.7,437.2 L388.5,437.6 L389.2,438 L390,438.6 L390.8,439.2 L391.6,439.9 L392.4,440.6 L393.2,441.4 L393.9,442.3 L394.7,443.2 L395.5,444.1 L396.3,445.1 L397.1,446.1 L397.8,447.1 L398.6,448.1 L399.4,449.2" fill="none" stroke="#3a3a3a" stroke-width="0.9"/>
<rect x="301" y="405.5" width="102.5" height="108.3" fill="none" stroke="#111" stroke-width="1.5"/>
<line x1="297.4" y1="508.7" x2="301" y2="508.7" stroke="#555" stroke-width="0.8"/>
<text x="297" y="511.8" class="tk" text-anchor="end">0.00</text>
<line x1="297.4" y1="484.1" x2="301" y2="484.1" stroke="#555" stroke-width="0.8"/>
<text x="297" y="487.2" class="tk" text-anchor="end">0.05</text>
<line x1="297.4" y1="459.5" x2="301" y2="459.5" stroke="#555" stroke-width="0.8"/>
<text x="297" y="462.6" class="tk" text-anchor="end">0.10</text>
<line x1="297.4" y1="434.9" x2="301" y2="434.9" stroke="#555" stroke-width="0.8"/>
<text x="297" y="438" class="tk" text-anchor="end">0.15</text>
<line x1="297.4" y1="410.3" x2="301" y2="410.3" stroke="#555" stroke-width="0.8"/>
<text x="297" y="413.4" class="tk" text-anchor="end">0.20</text>
<line x1="305.7" y1="513.8" x2="305.7" y2="516.8" stroke="#777" stroke-width="0.8"/>
<text x="305.7" y="523" class="tk" text-anchor="middle">0.0</text>
<line x1="329.12" y1="513.8" x2="329.12" y2="516.8" stroke="#777" stroke-width="0.8"/>
<text x="329.12" y="523" class="tk" text-anchor="middle">2.5</text>
<line x1="352.55" y1="513.8" x2="352.55" y2="516.8" stroke="#777" stroke-width="0.8"/>
<text x="352.55" y="523" class="tk" text-anchor="middle">5.0</text>
<line x1="375.97" y1="513.8" x2="375.97" y2="516.8" stroke="#777" stroke-width="0.8"/>
<text x="375.97" y="523" class="tk" text-anchor="middle">7.5</text>
<line x1="399.4" y1="513.8" x2="399.4" y2="516.8" stroke="#777" stroke-width="0.8"/>
<text x="399.4" y="523" class="tk" text-anchor="middle">10.0</text>
<text transform="translate(281,459.65) rotate(-90)" class="dl" text-anchor="middle">Density</text>
<text x="351.4" y="427" class="ti" text-anchor="middle">General activity</text>
<line x1="316.58" y1="428.3" x2="386.22" y2="428.3" stroke="#222" stroke-width="0.9"/>
<text x="306.9" y="451" class="pv"><tspan font-style="italic">P</tspan> = 0.065</text>
<path d="M437.7,508.7 L437.7,474.5 L438.5,473.9 L439.2,473.4 L440,473 L440.8,472.6 L441.6,472.3 L442.3,472 L443.1,471.7 L443.9,471.5 L444.6,471.3 L445.4,471.2 L446.2,471 L446.9,470.9 L447.7,470.8 L448.5,470.7 L449.3,470.7 L450,470.6 L450.8,470.6 L451.6,470.5 L452.3,470.4 L453.1,470.4 L453.9,470.3 L454.7,470.2 L455.4,470.1 L456.2,470 L457,469.9 L457.7,469.7 L458.5,469.6 L459.3,469.5 L460.1,469.3 L460.8,469.1 L461.6,469 L462.4,468.8 L463.1,468.6 L463.9,468.4 L464.7,468.2 L465.4,468 L466.2,467.8 L467,467.6 L467.8,467.4 L468.5,467.1 L469.3,466.8 L470.1,466.6 L470.8,466.3 L471.6,466 L472.4,465.7 L473.2,465.4 L473.9,465 L474.7,464.7 L475.5,464.4 L476.2,464 L477,463.7 L477.8,463.4 L478.6,463.1 L479.3,462.8 L480.1,462.5 L480.9,462.3 L481.6,462 L482.4,461.8 L483.2,461.6 L484,461.5 L484.7,461.4 L485.5,461.3 L486.3,461.2 L487,461.2 L487.8,461.2 L488.6,461.2 L489.3,461.3 L490.1,461.4 L490.9,461.5 L491.7,461.6 L492.4,461.7 L493.2,461.9 L494,462.1 L494.7,462.2 L495.5,462.4 L496.3,462.6 L497.1,462.9 L497.8,463.1 L498.6,463.4 L499.4,463.7 L500.1,464 L500.9,464.4 L501.7,464.8 L502.5,465.2 L503.2,465.7 L504,466.1 L504.8,466.6 L505.5,467.1 L506.3,467.7 L507.1,468.2 L507.8,468.7 L508.6,469.2 L509.4,469.8 L510.2,470.3 L510.9,470.8 L511.7,471.3 L512.5,471.9 L513.2,472.4 L514,472.9 L514.8,473.5 L515.6,474 L516.3,474.6 L517.1,475.2 L517.9,475.8 L518.6,476.4 L519.4,477 L520.2,477.6 L521,478.2 L521.7,478.9 L522.5,479.5 L523.3,480.1 L524,480.8 L524.8,481.4 L525.6,482 L526.3,482.6 L527.1,483.3 L527.9,483.9 L528.7,484.4 L529.4,485 L530.2,485.6 L530.2,508.7 Z" fill="rgb(247,197,197)"/>
<path d="M437.7,508.7 L437.7,493.1 L438.5,492.7 L439.2,492.4 L440,491.9 L440.8,491.5 L441.6,491.1 L442.3,490.6 L443.1,490.1 L443.9,489.6 L444.6,489 L445.4,488.5 L446.2,487.9 L446.9,487.3 L447.7,486.8 L448.5,486.2 L449.3,485.6 L450,484.9 L450.8,484.3 L451.6,483.7 L452.3,483 L453.1,482.4 L453.9,481.8 L454.7,481.1 L455.4,480.5 L456.2,479.9 L457,479.2 L457.7,478.6 L458.5,478 L459.3,477.4 L460.1,476.7 L460.8,476.1 L461.6,475.6 L462.4,475 L463.1,474.4 L463.9,473.9 L464.7,473.3 L465.4,472.8 L466.2,472.2 L467,471.7 L467.8,471.2 L468.5,470.7 L469.3,470.2 L470.1,469.6 L470.8,469.1 L471.6,468.6 L472.4,468.1 L473.2,467.5 L473.9,467 L474.7,466.5 L475.5,465.9 L476.2,465.4 L477,464.8 L477.8,464.3 L478.6,463.7 L479.3,463.2 L480.1,462.6 L480.9,462.1 L481.6,461.5 L482.4,461 L483.2,460.4 L484,459.8 L484.7,459.3 L485.5,458.8 L486.3,458.2 L487,457.7 L487.8,457.2 L488.6,456.7 L489.3,456.2 L490.1,455.7 L490.9,455.3 L491.7,454.9 L492.4,454.4 L493.2,454 L494,453.7 L494.7,453.3 L495.5,453 L496.3,452.7 L497.1,452.4 L497.8,452.2 L498.6,451.9 L499.4,451.7 L500.1,451.6 L500.9,451.4 L501.7,451.3 L502.5,451.3 L503.2,451.2 L504,451.3 L504.8,451.3 L505.5,451.4 L506.3,451.5 L507.1,451.7 L507.8,451.9 L508.6,452.2 L509.4,452.6 L510.2,453 L510.9,453.4 L511.7,454 L512.5,454.5 L513.2,455.2 L514,455.9 L514.8,456.7 L515.6,457.6 L516.3,458.5 L517.1,459.4 L517.9,460.5 L518.6,461.5 L519.4,462.6 L520.2,463.8 L521,465 L521.7,466.2 L522.5,467.5 L523.3,468.8 L524,470 L524.8,471.3 L525.6,472.6 L526.3,473.9 L527.1,475.2 L527.9,476.5 L528.7,477.7 L529.4,478.9 L530.2,480.1 L530.2,508.7 Z" fill="rgb(156,217,222)"/>
<path d="M437.7,508.7 L437.7,493.1 L438.5,492.7 L439.2,492.4 L440,491.9 L440.8,491.5 L441.6,491.1 L442.3,490.6 L443.1,490.1 L443.9,489.6 L444.6,489 L445.4,488.5 L446.2,487.9 L446.9,487.3 L447.7,486.8 L448.5,486.2 L449.3,485.6 L450,484.9 L450.8,484.3 L451.6,483.7 L452.3,483 L453.1,482.4 L453.9,481.8 L454.7,481.1 L455.4,480.5 L456.2,479.9 L457,479.2 L457.7,478.6 L458.5,478 L459.3,477.4 L460.1,476.7 L460.8,476.1 L461.6,475.6 L462.4,475 L463.1,474.4 L463.9,473.9 L464.7,473.3 L465.4,472.8 L466.2,472.2 L467,471.7 L467.8,471.2 L468.5,470.7 L469.3,470.2 L470.1,469.6 L470.8,469.1 L471.6,468.6 L472.4,468.1 L473.2,467.5 L473.9,467 L474.7,466.5 L475.5,465.9 L476.2,465.4 L477,464.8 L477.8,464.3 L478.6,463.7 L479.3,463.2 L480.1,462.6 L480.9,462.3 L481.6,462 L482.4,461.8 L483.2,461.6 L484,461.5 L484.7,461.4 L485.5,461.3 L486.3,461.2 L487,461.2 L487.8,461.2 L488.6,461.2 L489.3,461.3 L490.1,461.4 L490.9,461.5 L491.7,461.6 L492.4,461.7 L493.2,461.9 L494,462.1 L494.7,462.2 L495.5,462.4 L496.3,462.6 L497.1,462.9 L497.8,463.1 L498.6,463.4 L499.4,463.7 L500.1,464 L500.9,464.4 L501.7,464.8 L502.5,465.2 L503.2,465.7 L504,466.1 L504.8,466.6 L505.5,467.1 L506.3,467.7 L507.1,468.2 L507.8,468.7 L508.6,469.2 L509.4,469.8 L510.2,470.3 L510.9,470.8 L511.7,471.3 L512.5,471.9 L513.2,472.4 L514,472.9 L514.8,473.5 L515.6,474 L516.3,474.6 L517.1,475.2 L517.9,475.8 L518.6,476.4 L519.4,477 L520.2,477.6 L521,478.2 L521.7,478.9 L522.5,479.5 L523.3,480.1 L524,480.8 L524.8,481.4 L525.6,482 L526.3,482.6 L527.1,483.3 L527.9,483.9 L528.7,484.4 L529.4,485 L530.2,485.6 L530.2,508.7 Z" fill="rgb(150,195,196)"/>
<path d="M437.7,474.51 L438.5,473.9 L439.2,473.4 L440,473 L440.8,472.6 L441.6,472.3 L442.3,472 L443.1,471.7 L443.9,471.5 L444.6,471.3 L445.4,471.2 L446.2,471 L446.9,470.9 L447.7,470.8 L448.5,470.7 L449.3,470.7 L450,470.6 L450.8,470.6 L451.6,470.5 L452.3,470.4 L453.1,470.4 L453.9,470.3 L454.7,470.2 L455.4,470.1 L456.2,470 L457,469.9 L457.7,469.7 L458.5,469.6 L459.3,469.5 L460.1,469.3 L460.8,469.1 L461.6,469 L462.4,468.8 L463.1,468.6 L463.9,468.4 L464.7,468.2 L465.4,468 L466.2,467.8 L467,467.6 L467.8,467.4 L468.5,467.1 L469.3,466.8 L470.1,466.6 L470.8,466.3 L471.6,466 L472.4,465.7 L473.2,465.4 L473.9,465 L474.7,464.7 L475.5,464.4 L476.2,464 L477,463.7 L477.8,463.4 L478.6,463.1 L479.3,462.8 L480.1,462.5 L480.9,462.3 L481.6,462 L482.4,461.8 L483.2,461.6 L484,461.5 L484.7,461.4 L485.5,461.3 L486.3,461.2 L487,461.2 L487.8,461.2 L488.6,461.2 L489.3,461.3 L490.1,461.4 L490.9,461.5 L491.7,461.6 L492.4,461.7 L493.2,461.9 L494,462.1 L494.7,462.2 L495.5,462.4 L496.3,462.6 L497.1,462.9 L497.8,463.1 L498.6,463.4 L499.4,463.7 L500.1,464 L500.9,464.4 L501.7,464.8 L502.5,465.2 L503.2,465.7 L504,466.1 L504.8,466.6 L505.5,467.1 L506.3,467.7 L507.1,468.2 L507.8,468.7 L508.6,469.2 L509.4,469.8 L510.2,470.3 L510.9,470.8 L511.7,471.3 L512.5,471.9 L513.2,472.4 L514,472.9 L514.8,473.5 L515.6,474 L516.3,474.6 L517.1,475.2 L517.9,475.8 L518.6,476.4 L519.4,477 L520.2,477.6 L521,478.2 L521.7,478.9 L522.5,479.5 L523.3,480.1 L524,480.8 L524.8,481.4 L525.6,482 L526.3,482.6 L527.1,483.3 L527.9,483.9 L528.7,484.4 L529.4,485 L530.2,485.6" fill="none" stroke="#3a3a3a" stroke-width="0.9"/>
<path d="M437.7,493.1 L438.5,492.7 L439.2,492.4 L440,491.9 L440.8,491.5 L441.6,491.1 L442.3,490.6 L443.1,490.1 L443.9,489.6 L444.6,489 L445.4,488.5 L446.2,487.9 L446.9,487.3 L447.7,486.8 L448.5,486.2 L449.3,485.6 L450,484.9 L450.8,484.3 L451.6,483.7 L452.3,483 L453.1,482.4 L453.9,481.8 L454.7,481.1 L455.4,480.5 L456.2,479.9 L457,479.2 L457.7,478.6 L458.5,478 L459.3,477.4 L460.1,476.7 L460.8,476.1 L461.6,475.6 L462.4,475 L463.1,474.4 L463.9,473.9 L464.7,473.3 L465.4,472.8 L466.2,472.2 L467,471.7 L467.8,471.2 L468.5,470.7 L469.3,470.2 L470.1,469.6 L470.8,469.1 L471.6,468.6 L472.4,468.1 L473.2,467.5 L473.9,467 L474.7,466.5 L475.5,465.9 L476.2,465.4 L477,464.8 L477.8,464.3 L478.6,463.7 L479.3,463.2 L480.1,462.6 L480.9,462.1 L481.6,461.5 L482.4,461 L483.2,460.4 L484,459.8 L484.7,459.3 L485.5,458.8 L486.3,458.2 L487,457.7 L487.8,457.2 L488.6,456.7 L489.3,456.2 L490.1,455.7 L490.9,455.3 L491.7,454.9 L492.4,454.4 L493.2,454 L494,453.7 L494.7,453.3 L495.5,453 L496.3,452.7 L497.1,452.4 L497.8,452.2 L498.6,451.9 L499.4,451.7 L500.1,451.6 L500.9,451.4 L501.7,451.3 L502.5,451.3 L503.2,451.2 L504,451.3 L504.8,451.3 L505.5,451.4 L506.3,451.5 L507.1,451.7 L507.8,451.9 L508.6,452.2 L509.4,452.6 L510.2,453 L510.9,453.4 L511.7,454 L512.5,454.5 L513.2,455.2 L514,455.9 L514.8,456.7 L515.6,457.6 L516.3,458.5 L517.1,459.4 L517.9,460.5 L518.6,461.5 L519.4,462.6 L520.2,463.8 L521,465 L521.7,466.2 L522.5,467.5 L523.3,468.8 L524,470 L524.8,471.3 L525.6,472.6 L526.3,473.9 L527.1,475.2 L527.9,476.5 L528.7,477.7 L529.4,478.9 L530.2,480.1" fill="none" stroke="#3a3a3a" stroke-width="0.9"/>
<rect x="433" y="406" width="101.8" height="108" fill="none" stroke="#111" stroke-width="1.5"/>
<line x1="429.4" y1="508.7" x2="433" y2="508.7" stroke="#555" stroke-width="0.8"/>
<text x="429" y="511.8" class="tk" text-anchor="end">0.00</text>
<line x1="429.4" y1="484.1" x2="433" y2="484.1" stroke="#555" stroke-width="0.8"/>
<text x="429" y="487.2" class="tk" text-anchor="end">0.05</text>
<line x1="429.4" y1="459.5" x2="433" y2="459.5" stroke="#555" stroke-width="0.8"/>
<text x="429" y="462.6" class="tk" text-anchor="end">0.10</text>
<line x1="429.4" y1="434.9" x2="433" y2="434.9" stroke="#555" stroke-width="0.8"/>
<text x="429" y="438" class="tk" text-anchor="end">0.15</text>
<line x1="429.4" y1="410.3" x2="433" y2="410.3" stroke="#555" stroke-width="0.8"/>
<text x="429" y="413.4" class="tk" text-anchor="end">0.20</text>
<line x1="437.7" y1="514" x2="437.7" y2="517" stroke="#777" stroke-width="0.8"/>
<text x="437.7" y="523.2" class="tk" text-anchor="middle">0.0</text>
<line x1="460.82" y1="514" x2="460.82" y2="517" stroke="#777" stroke-width="0.8"/>
<text x="460.82" y="523.2" class="tk" text-anchor="middle">2.5</text>
<line x1="483.95" y1="514" x2="483.95" y2="517" stroke="#777" stroke-width="0.8"/>
<text x="483.95" y="523.2" class="tk" text-anchor="middle">5.0</text>
<line x1="507.08" y1="514" x2="507.08" y2="517" stroke="#777" stroke-width="0.8"/>
<text x="507.08" y="523.2" class="tk" text-anchor="middle">7.5</text>
<line x1="530.2" y1="514" x2="530.2" y2="517" stroke="#777" stroke-width="0.8"/>
<text x="530.2" y="523.2" class="tk" text-anchor="middle">10.0</text>
<text transform="translate(413,460) rotate(-90)" class="dl" text-anchor="middle">Density</text>
<text x="484" y="425" class="ti" text-anchor="middle">Mood</text>
<line x1="471.54" y1="426.3" x2="496.46" y2="426.3" stroke="#222" stroke-width="0.9"/>
<text x="440.1" y="451" class="pv"><tspan font-style="italic">P</tspan> = 0.106</text>
<path d="M41.9,640.5 L41.9,617.2 L42.7,616.7 L43.5,616.3 L44.2,615.9 L45,615.6 L45.8,615.3 L46.6,615 L47.3,614.7 L48.1,614.5 L48.9,614.3 L49.7,614.1 L50.5,613.9 L51.2,613.8 L52,613.6 L52.8,613.4 L53.6,613.3 L54.3,613.2 L55.1,613.1 L55.9,613 L56.7,613 L57.4,613 L58.2,613 L59,613.1 L59.8,613.2 L60.6,613.3 L61.3,613.4 L62.1,613.4 L62.9,613.5 L63.7,613.6 L64.4,613.7 L65.2,613.8 L66,613.9 L66.8,614 L67.6,614.1 L68.3,614.2 L69.1,614.2 L69.9,614.2 L70.7,614.3 L71.4,614.3 L72.2,614.3 L73,614.3 L73.8,614.2 L74.6,614.2 L75.3,614.1 L76.1,614 L76.9,613.9 L77.7,613.8 L78.4,613.7 L79.2,613.5 L80,613.3 L80.8,613.2 L81.6,613 L82.3,612.8 L83.1,612.5 L83.9,612.3 L84.7,612 L85.4,611.8 L86.2,611.5 L87,611.2 L87.8,610.9 L88.5,610.5 L89.3,610.2 L90.1,609.9 L90.9,609.5 L91.7,609.1 L92.4,608.7 L93.2,608.3 L94,607.9 L94.8,607.5 L95.5,607.1 L96.3,606.6 L97.1,606.1 L97.9,605.7 L98.7,605.2 L99.4,604.7 L100.2,604.1 L101,603.6 L101.8,603 L102.5,602.5 L103.3,601.9 L104.1,601.3 L104.9,600.7 L105.7,600 L106.4,599.4 L107.2,598.7 L108,598.1 L108.8,597.4 L109.5,596.7 L110.3,596 L111.1,595.3 L111.9,594.7 L112.7,594 L113.4,593.3 L114.2,592.7 L115,592.1 L115.8,591.5 L116.5,590.9 L117.3,590.4 L118.1,589.9 L118.9,589.4 L119.6,589 L120.4,588.6 L121.2,588.3 L122,588 L122.8,587.7 L123.5,587.5 L124.3,587.4 L125.1,587.3 L125.9,587.2 L126.6,587.2 L127.4,587.2 L128.2,587.3 L129,587.5 L129.8,587.7 L130.5,587.9 L131.3,588.3 L132.1,588.7 L132.9,589.1 L133.6,589.6 L134.4,590.2 L135.2,590.9 L135.2,640.5 Z" fill="rgb(247,197,197)"/>
<path d="M41.9,640.5 L41.9,627.7 L42.7,627.6 L43.5,627.4 L44.2,627.2 L45,627 L45.8,626.8 L46.6,626.6 L47.3,626.4 L48.1,626.2 L48.9,626 L49.7,625.8 L50.5,625.5 L51.2,625.3 L52,625.1 L52.8,624.8 L53.6,624.6 L54.3,624.3 L55.1,624 L55.9,623.8 L56.7,623.5 L57.4,623.2 L58.2,622.9 L59,622.7 L59.8,622.4 L60.6,622.1 L61.3,621.8 L62.1,621.5 L62.9,621.2 L63.7,620.9 L64.4,620.6 L65.2,620.3 L66,620 L66.8,619.7 L67.6,619.4 L68.3,619.1 L69.1,618.7 L69.9,618.4 L70.7,618 L71.4,617.7 L72.2,617.3 L73,616.9 L73.8,616.6 L74.6,616.2 L75.3,615.8 L76.1,615.3 L76.9,614.9 L77.7,614.4 L78.4,614 L79.2,613.5 L80,613 L80.8,612.5 L81.6,612 L82.3,611.5 L83.1,610.9 L83.9,610.4 L84.7,609.8 L85.4,609.2 L86.2,608.6 L87,608 L87.8,607.4 L88.5,606.8 L89.3,606.2 L90.1,605.6 L90.9,605 L91.7,604.4 L92.4,603.8 L93.2,603.2 L94,602.6 L94.8,601.9 L95.5,601.3 L96.3,600.7 L97.1,600.1 L97.9,599.5 L98.7,598.9 L99.4,598.3 L100.2,597.7 L101,597.1 L101.8,596.5 L102.5,595.9 L103.3,595.2 L104.1,594.6 L104.9,594 L105.7,593.4 L106.4,592.8 L107.2,592.1 L108,591.5 L108.8,590.9 L109.5,590.2 L110.3,589.6 L111.1,588.9 L111.9,588.3 L112.7,587.7 L113.4,587.1 L114.2,586.5 L115,585.9 L115.8,585.3 L116.5,584.8 L117.3,584.3 L118.1,583.8 L118.9,583.4 L119.6,583 L120.4,582.6 L121.2,582.3 L122,582.1 L122.8,581.9 L123.5,581.8 L124.3,581.7 L125.1,581.7 L125.9,581.8 L126.6,582 L127.4,582.2 L128.2,582.4 L129,582.7 L129.8,583.1 L130.5,583.6 L131.3,584 L132.1,584.6 L132.9,585.2 L133.6,585.8 L134.4,586.5 L135.2,587.2 L135.2,640.5 Z" fill="rgb(156,217,222)"/>
<path d="M41.9,640.5 L41.9,627.7 L42.7,627.6 L43.5,627.4 L44.2,627.2 L45,627 L45.8,626.8 L46.6,626.6 L47.3,626.4 L48.1,626.2 L48.9,626 L49.7,625.8 L50.5,625.5 L51.2,625.3 L52,625.1 L52.8,624.8 L53.6,624.6 L54.3,624.3 L55.1,624 L55.9,623.8 L56.7,623.5 L57.4,623.2 L58.2,622.9 L59,622.7 L59.8,622.4 L60.6,622.1 L61.3,621.8 L62.1,621.5 L62.9,621.2 L63.7,620.9 L64.4,620.6 L65.2,620.3 L66,620 L66.8,619.7 L67.6,619.4 L68.3,619.1 L69.1,618.7 L69.9,618.4 L70.7,618 L71.4,617.7 L72.2,617.3 L73,616.9 L73.8,616.6 L74.6,616.2 L75.3,615.8 L76.1,615.3 L76.9,614.9 L77.7,614.4 L78.4,614 L79.2,613.5 L80,613.3 L80.8,613.2 L81.6,613 L82.3,612.8 L83.1,612.5 L83.9,612.3 L84.7,612 L85.4,611.8 L86.2,611.5 L87,611.2 L87.8,610.9 L88.5,610.5 L89.3,610.2 L90.1,609.9 L90.9,609.5 L91.7,609.1 L92.4,608.7 L93.2,608.3 L94,607.9 L94.8,607.5 L95.5,607.1 L96.3,606.6 L97.1,606.1 L97.9,605.7 L98.7,605.2 L99.4,604.7 L100.2,604.1 L101,603.6 L101.8,603 L102.5,602.5 L103.3,601.9 L104.1,601.3 L104.9,600.7 L105.7,600 L106.4,599.4 L107.2,598.7 L108,598.1 L108.8,597.4 L109.5,596.7 L110.3,596 L111.1,595.3 L111.9,594.7 L112.7,594 L113.4,593.3 L114.2,592.7 L115,592.1 L115.8,591.5 L116.5,590.9 L117.3,590.4 L118.1,589.9 L118.9,589.4 L119.6,589 L120.4,588.6 L121.2,588.3 L122,588 L122.8,587.7 L123.5,587.5 L124.3,587.4 L125.1,587.3 L125.9,587.2 L126.6,587.2 L127.4,587.2 L128.2,587.3 L129,587.5 L129.8,587.7 L130.5,587.9 L131.3,588.3 L132.1,588.7 L132.9,589.1 L133.6,589.6 L134.4,590.2 L135.2,590.9 L135.2,640.5 Z" fill="rgb(150,195,196)"/>
<path d="M41.9,617.16 L42.7,616.7 L43.5,616.3 L44.2,615.9 L45,615.6 L45.8,615.3 L46.6,615 L47.3,614.7 L48.1,614.5 L48.9,614.3 L49.7,614.1 L50.5,613.9 L51.2,613.8 L52,613.6 L52.8,613.4 L53.6,613.3 L54.3,613.2 L55.1,613.1 L55.9,613 L56.7,613 L57.4,613 L58.2,613 L59,613.1 L59.8,613.2 L60.6,613.3 L61.3,613.4 L62.1,613.4 L62.9,613.5 L63.7,613.6 L64.4,613.7 L65.2,613.8 L66,613.9 L66.8,614 L67.6,614.1 L68.3,614.2 L69.1,614.2 L69.9,614.2 L70.7,614.3 L71.4,614.3 L72.2,614.3 L73,614.3 L73.8,614.2 L74.6,614.2 L75.3,614.1 L76.1,614 L76.9,613.9 L77.7,613.8 L78.4,613.7 L79.2,613.5 L80,613.3 L80.8,613.2 L81.6,613 L82.3,612.8 L83.1,612.5 L83.9,612.3 L84.7,612 L85.4,611.8 L86.2,611.5 L87,611.2 L87.8,610.9 L88.5,610.5 L89.3,610.2 L90.1,609.9 L90.9,609.5 L91.7,609.1 L92.4,608.7 L93.2,608.3 L94,607.9 L94.8,607.5 L95.5,607.1 L96.3,606.6 L97.1,606.1 L97.9,605.7 L98.7,605.2 L99.4,604.7 L100.2,604.1 L101,603.6 L101.8,603 L102.5,602.5 L103.3,601.9 L104.1,601.3 L104.9,600.7 L105.7,600 L106.4,599.4 L107.2,598.7 L108,598.1 L108.8,597.4 L109.5,596.7 L110.3,596 L111.1,595.3 L111.9,594.7 L112.7,594 L113.4,593.3 L114.2,592.7 L115,592.1 L115.8,591.5 L116.5,590.9 L117.3,590.4 L118.1,589.9 L118.9,589.4 L119.6,589 L120.4,588.6 L121.2,588.3 L122,588 L122.8,587.7 L123.5,587.5 L124.3,587.4 L125.1,587.3 L125.9,587.2 L126.6,587.2 L127.4,587.2 L128.2,587.3 L129,587.5 L129.8,587.7 L130.5,587.9 L131.3,588.3 L132.1,588.7 L132.9,589.1 L133.6,589.6 L134.4,590.2 L135.2,590.9" fill="none" stroke="#3a3a3a" stroke-width="0.9"/>
<path d="M41.9,627.72 L42.7,627.6 L43.5,627.4 L44.2,627.2 L45,627 L45.8,626.8 L46.6,626.6 L47.3,626.4 L48.1,626.2 L48.9,626 L49.7,625.8 L50.5,625.5 L51.2,625.3 L52,625.1 L52.8,624.8 L53.6,624.6 L54.3,624.3 L55.1,624 L55.9,623.8 L56.7,623.5 L57.4,623.2 L58.2,622.9 L59,622.7 L59.8,622.4 L60.6,622.1 L61.3,621.8 L62.1,621.5 L62.9,621.2 L63.7,620.9 L64.4,620.6 L65.2,620.3 L66,620 L66.8,619.7 L67.6,619.4 L68.3,619.1 L69.1,618.7 L69.9,618.4 L70.7,618 L71.4,617.7 L72.2,617.3 L73,616.9 L73.8,616.6 L74.6,616.2 L75.3,615.8 L76.1,615.3 L76.9,614.9 L77.7,614.4 L78.4,614 L79.2,613.5 L80,613 L80.8,612.5 L81.6,612 L82.3,611.5 L83.1,610.9 L83.9,610.4 L84.7,609.8 L85.4,609.2 L86.2,608.6 L87,608 L87.8,607.4 L88.5,606.8 L89.3,606.2 L90.1,605.6 L90.9,605 L91.7,604.4 L92.4,603.8 L93.2,603.2 L94,602.6 L94.8,601.9 L95.5,601.3 L96.3,600.7 L97.1,600.1 L97.9,599.5 L98.7,598.9 L99.4,598.3 L100.2,597.7 L101,597.1 L101.8,596.5 L102.5,595.9 L103.3,595.2 L104.1,594.6 L104.9,594 L105.7,593.4 L106.4,592.8 L107.2,592.1 L108,591.5 L108.8,590.9 L109.5,590.2 L110.3,589.6 L111.1,588.9 L111.9,588.3 L112.7,587.7 L113.4,587.1 L114.2,586.5 L115,585.9 L115.8,585.3 L116.5,584.8 L117.3,584.3 L118.1,583.8 L118.9,583.4 L119.6,583 L120.4,582.6 L121.2,582.3 L122,582.1 L122.8,581.9 L123.5,581.8 L124.3,581.7 L125.1,581.7 L125.9,581.8 L126.6,582 L127.4,582.2 L128.2,582.4 L129,582.7 L129.8,583.1 L130.5,583.6 L131.3,584 L132.1,584.6 L132.9,585.2 L133.6,585.8 L134.4,586.5 L135.2,587.2" fill="none" stroke="#3a3a3a" stroke-width="0.9"/>
<rect x="37.5" y="537.5" width="101.5" height="107.9" fill="none" stroke="#111" stroke-width="1.5"/>
<line x1="33.9" y1="640.5" x2="37.5" y2="640.5" stroke="#555" stroke-width="0.8"/>
<text x="33.5" y="643.6" class="tk" text-anchor="end">0.00</text>
<line x1="33.9" y1="615.83" x2="37.5" y2="615.83" stroke="#555" stroke-width="0.8"/>
<text x="33.5" y="618.93" class="tk" text-anchor="end">0.05</text>
<line x1="33.9" y1="591.15" x2="37.5" y2="591.15" stroke="#555" stroke-width="0.8"/>
<text x="33.5" y="594.25" class="tk" text-anchor="end">0.10</text>
<line x1="33.9" y1="566.47" x2="37.5" y2="566.47" stroke="#555" stroke-width="0.8"/>
<text x="33.5" y="569.57" class="tk" text-anchor="end">0.15</text>
<line x1="33.9" y1="541.8" x2="37.5" y2="541.8" stroke="#555" stroke-width="0.8"/>
<text x="33.5" y="544.9" class="tk" text-anchor="end">0.20</text>
<line x1="41.9" y1="645.4" x2="41.9" y2="648.4" stroke="#777" stroke-width="0.8"/>
<text x="41.9" y="654.6" class="tk" text-anchor="middle">0.0</text>
<line x1="65.22" y1="645.4" x2="65.22" y2="648.4" stroke="#777" stroke-width="0.8"/>
<text x="65.22" y="654.6" class="tk" text-anchor="middle">2.5</text>
<line x1="88.55" y1="645.4" x2="88.55" y2="648.4" stroke="#777" stroke-width="0.8"/>
<text x="88.55" y="654.6" class="tk" text-anchor="middle">5.0</text>
<line x1="111.88" y1="645.4" x2="111.88" y2="648.4" stroke="#777" stroke-width="0.8"/>
<text x="111.88" y="654.6" class="tk" text-anchor="middle">7.5</text>
<line x1="135.2" y1="645.4" x2="135.2" y2="648.4" stroke="#777" stroke-width="0.8"/>
<text x="135.2" y="654.6" class="tk" text-anchor="middle">10.0</text>
<text transform="translate(17.5,591.45) rotate(-90)" class="dl" text-anchor="middle">Density</text>
<text x="88.2" y="561" class="ti" text-anchor="middle">Work</text>
<line x1="76.6" y1="562.3" x2="99.8" y2="562.3" stroke="#222" stroke-width="0.9"/>
<text x="43.9" y="584" class="pv"><tspan font-style="italic">P</tspan> = 0.341</text>
<path d="M173.9,640.5 L173.9,571.3 L174.7,570.7 L175.5,570.3 L176.2,570.1 L177,569.9 L177.8,569.9 L178.6,570 L179.3,570.2 L180.1,570.5 L180.9,570.9 L181.7,571.4 L182.5,571.9 L183.2,572.5 L184,573.1 L184.8,573.8 L185.6,574.6 L186.3,575.5 L187.1,576.4 L187.9,577.4 L188.7,578.5 L189.4,579.6 L190.2,580.9 L191,582.2 L191.8,583.5 L192.6,584.8 L193.3,586.1 L194.1,587.4 L194.9,588.7 L195.7,589.9 L196.4,591.1 L197.2,592.1 L198,593.1 L198.8,594 L199.6,594.9 L200.3,595.6 L201.1,596.4 L201.9,597 L202.7,597.7 L203.4,598.2 L204.2,598.8 L205,599.3 L205.8,599.8 L206.6,600.3 L207.3,600.8 L208.1,601.2 L208.9,601.6 L209.7,602 L210.4,602.3 L211.2,602.7 L212,603 L212.8,603.4 L213.6,603.7 L214.3,604 L215.1,604.3 L215.9,604.5 L216.7,604.8 L217.4,605.1 L218.2,605.3 L219,605.6 L219.8,605.9 L220.6,606.1 L221.3,606.4 L222.1,606.6 L222.9,606.9 L223.7,607.2 L224.4,607.6 L225.2,608.1 L226,608.6 L226.8,609.2 L227.5,609.8 L228.3,610.5 L229.1,611.1 L229.9,611.8 L230.7,612.4 L231.4,613 L232.2,613.6 L233,614.1 L233.8,614.7 L234.5,615.2 L235.3,615.7 L236.1,616.1 L236.9,616.6 L237.7,617 L238.4,617.5 L239.2,617.9 L240,618.3 L240.8,618.7 L241.5,619.1 L242.3,619.5 L243.1,619.9 L243.9,620.3 L244.7,620.6 L245.4,621 L246.2,621.3 L247,621.7 L247.8,622 L248.5,622.3 L249.3,622.7 L250.1,623 L250.9,623.3 L251.6,623.5 L252.4,623.8 L253.2,624.1 L254,624.4 L254.8,624.7 L255.5,624.9 L256.3,625.2 L257.1,625.5 L257.9,625.7 L258.6,626 L259.4,626.3 L260.2,626.6 L261,626.9 L261.8,627.2 L262.5,627.5 L263.3,627.8 L264.1,628.1 L264.9,628.4 L265.6,628.7 L266.4,629.1 L267.2,629.4 L267.2,640.5 Z" fill="rgb(247,197,197)"/>
<path d="M173.9,640.5 L173.9,599.5 L174.7,599.3 L175.5,599.1 L176.2,599 L177,598.9 L177.8,598.8 L178.6,598.7 L179.3,598.7 L180.1,598.7 L180.9,598.8 L181.7,598.8 L182.5,598.9 L183.2,599 L184,599.1 L184.8,599.3 L185.6,599.4 L186.3,599.6 L187.1,599.8 L187.9,600 L188.7,600.2 L189.4,600.5 L190.2,600.7 L191,600.9 L191.8,601.2 L192.6,601.5 L193.3,601.7 L194.1,602 L194.9,602.3 L195.7,602.6 L196.4,602.8 L197.2,603.1 L198,603.4 L198.8,603.7 L199.6,604 L200.3,604.3 L201.1,604.6 L201.9,604.9 L202.7,605.2 L203.4,605.5 L204.2,605.8 L205,606.1 L205.8,606.4 L206.6,606.7 L207.3,607 L208.1,607.2 L208.9,607.5 L209.7,607.7 L210.4,607.9 L211.2,608.1 L212,608.2 L212.8,608.4 L213.6,608.5 L214.3,608.5 L215.1,608.6 L215.9,608.6 L216.7,608.7 L217.4,608.7 L218.2,608.7 L219,608.6 L219.8,608.6 L220.6,608.6 L221.3,608.5 L222.1,608.5 L222.9,608.4 L223.7,608.3 L224.4,608.2 L225.2,608.2 L226,608.1 L226.8,608 L227.5,607.9 L228.3,607.8 L229.1,607.7 L229.9,607.6 L230.7,607.5 L231.4,607.4 L232.2,607.3 L233,607.2 L233.8,607.1 L234.5,607 L235.3,607 L236.1,606.9 L236.9,606.9 L237.7,606.8 L238.4,606.8 L239.2,606.8 L240,606.9 L240.8,606.9 L241.5,607 L242.3,607.1 L243.1,607.2 L243.9,607.3 L244.7,607.5 L245.4,607.7 L246.2,607.9 L247,608.1 L247.8,608.3 L248.5,608.6 L249.3,608.8 L250.1,609.1 L250.9,609.5 L251.6,609.8 L252.4,610.1 L253.2,610.5 L254,610.9 L254.8,611.3 L255.5,611.7 L256.3,612.1 L257.1,612.6 L257.9,613 L258.6,613.5 L259.4,613.9 L260.2,614.4 L261,614.9 L261.8,615.4 L262.5,615.9 L263.3,616.5 L264.1,617 L264.9,617.5 L265.6,618 L266.4,618.6 L267.2,619.1 L267.2,640.5 Z" fill="rgb(156,217,222)"/>
<path d="M173.9,640.5 L173.9,599.5 L174.7,599.3 L175.5,599.1 L176.2,599 L177,598.9 L177.8,598.8 L178.6,598.7 L179.3,598.7 L180.1,598.7 L180.9,598.8 L181.7,598.8 L182.5,598.9 L183.2,599 L184,599.1 L184.8,599.3 L185.6,599.4 L186.3,599.6 L187.1,599.8 L187.9,600 L188.7,600.2 L189.4,600.5 L190.2,600.7 L191,600.9 L191.8,601.2 L192.6,601.5 L193.3,601.7 L194.1,602 L194.9,602.3 L195.7,602.6 L196.4,602.8 L197.2,603.1 L198,603.4 L198.8,603.7 L199.6,604 L200.3,604.3 L201.1,604.6 L201.9,604.9 L202.7,605.2 L203.4,605.5 L204.2,605.8 L205,606.1 L205.8,606.4 L206.6,606.7 L207.3,607 L208.1,607.2 L208.9,607.5 L209.7,607.7 L210.4,607.9 L211.2,608.1 L212,608.2 L212.8,608.4 L213.6,608.5 L214.3,608.5 L215.1,608.6 L215.9,608.6 L216.7,608.7 L217.4,608.7 L218.2,608.7 L219,608.6 L219.8,608.6 L220.6,608.6 L221.3,608.5 L222.1,608.5 L222.9,608.4 L223.7,608.3 L224.4,608.2 L225.2,608.2 L226,608.6 L226.8,609.2 L227.5,609.8 L228.3,610.5 L229.1,611.1 L229.9,611.8 L230.7,612.4 L231.4,613 L232.2,613.6 L233,614.1 L233.8,614.7 L234.5,615.2 L235.3,615.7 L236.1,616.1 L236.9,616.6 L237.7,617 L238.4,617.5 L239.2,617.9 L240,618.3 L240.8,618.7 L241.5,619.1 L242.3,619.5 L243.1,619.9 L243.9,620.3 L244.7,620.6 L245.4,621 L246.2,621.3 L247,621.7 L247.8,622 L248.5,622.3 L249.3,622.7 L250.1,623 L250.9,623.3 L251.6,623.5 L252.4,623.8 L253.2,624.1 L254,624.4 L254.8,624.7 L255.5,624.9 L256.3,625.2 L257.1,625.5 L257.9,625.7 L258.6,626 L259.4,626.3 L260.2,626.6 L261,626.9 L261.8,627.2 L262.5,627.5 L263.3,627.8 L264.1,628.1 L264.9,628.4 L265.6,628.7 L266.4,629.1 L267.2,629.4 L267.2,640.5 Z" fill="rgb(150,195,196)"/>
<path d="M173.9,571.26 L174.7,570.7 L175.5,570.3 L176.2,570.1 L177,569.9 L177.8,569.9 L178.6,570 L179.3,570.2 L180.1,570.5 L180.9,570.9 L181.7,571.4 L182.5,571.9 L183.2,572.5 L184,573.1 L184.8,573.8 L185.6,574.6 L186.3,575.5 L187.1,576.4 L187.9,577.4 L188.7,578.5 L189.4,579.6 L190.2,580.9 L191,582.2 L191.8,583.5 L192.6,584.8 L193.3,586.1 L194.1,587.4 L194.9,588.7 L195.7,589.9 L196.4,591.1 L197.2,592.1 L198,593.1 L198.8,594 L199.6,594.9 L200.3,595.6 L201.1,596.4 L201.9,597 L202.7,597.7 L203.4,598.2 L204.2,598.8 L205,599.3 L205.8,599.8 L206.6,600.3 L207.3,600.8 L208.1,601.2 L208.9,601.6 L209.7,602 L210.4,602.3 L211.2,602.7 L212,603 L212.8,603.4 L213.6,603.7 L214.3,604 L215.1,604.3 L215.9,604.5 L216.7,604.8 L217.4,605.1 L218.2,605.3 L219,605.6 L219.8,605.9 L220.6,606.1 L221.3,606.4 L222.1,606.6 L222.9,606.9 L223.7,607.2 L224.4,607.6 L225.2,608.1 L226,608.6 L226.8,609.2 L227.5,609.8 L228.3,610.5 L229.1,611.1 L229.9,611.8 L230.7,612.4 L231.4,613 L232.2,613.6 L233,614.1 L233.8,614.7 L234.5,615.2 L235.3,615.7 L236.1,616.1 L236.9,616.6 L237.7,617 L238.4,617.5 L239.2,617.9 L240,618.3 L240.8,618.7 L241.5,619.1 L242.3,619.5 L243.1,619.9 L243.9,620.3 L244.7,620.6 L245.4,621 L246.2,621.3 L247,621.7 L247.8,622 L248.5,622.3 L249.3,622.7 L250.1,623 L250.9,623.3 L251.6,623.5 L252.4,623.8 L253.2,624.1 L254,624.4 L254.8,624.7 L255.5,624.9 L256.3,625.2 L257.1,625.5 L257.9,625.7 L258.6,626 L259.4,626.3 L260.2,626.6 L261,626.9 L261.8,627.2 L262.5,627.5 L263.3,627.8 L264.1,628.1 L264.9,628.4 L265.6,628.7 L266.4,629.1 L267.2,629.4" fill="none" stroke="#3a3a3a" stroke-width="0.9"/>
<path d="M173.9,599.49 L174.7,599.3 L175.5,599.1 L176.2,599 L177,598.9 L177.8,598.8 L178.6,598.7 L179.3,598.7 L180.1,598.7 L180.9,598.8 L181.7,598.8 L182.5,598.9 L183.2,599 L184,599.1 L184.8,599.3 L185.6,599.4 L186.3,599.6 L187.1,599.8 L187.9,600 L188.7,600.2 L189.4,600.5 L190.2,600.7 L191,600.9 L191.8,601.2 L192.6,601.5 L193.3,601.7 L194.1,602 L194.9,602.3 L195.7,602.6 L196.4,602.8 L197.2,603.1 L198,603.4 L198.8,603.7 L199.6,604 L200.3,604.3 L201.1,604.6 L201.9,604.9 L202.7,605.2 L203.4,605.5 L204.2,605.8 L205,606.1 L205.8,606.4 L206.6,606.7 L207.3,607 L208.1,607.2 L208.9,607.5 L209.7,607.7 L210.4,607.9 L211.2,608.1 L212,608.2 L212.8,608.4 L213.6,608.5 L214.3,608.5 L215.1,608.6 L215.9,608.6 L216.7,608.7 L217.4,608.7 L218.2,608.7 L219,608.6 L219.8,608.6 L220.6,608.6 L221.3,608.5 L222.1,608.5 L222.9,608.4 L223.7,608.3 L224.4,608.2 L225.2,608.2 L226,608.1 L226.8,608 L227.5,607.9 L228.3,607.8 L229.1,607.7 L229.9,607.6 L230.7,607.5 L231.4,607.4 L232.2,607.3 L233,607.2 L233.8,607.1 L234.5,607 L235.3,607 L236.1,606.9 L236.9,606.9 L237.7,606.8 L238.4,606.8 L239.2,606.8 L240,606.9 L240.8,606.9 L241.5,607 L242.3,607.1 L243.1,607.2 L243.9,607.3 L244.7,607.5 L245.4,607.7 L246.2,607.9 L247,608.1 L247.8,608.3 L248.5,608.6 L249.3,608.8 L250.1,609.1 L250.9,609.5 L251.6,609.8 L252.4,610.1 L253.2,610.5 L254,610.9 L254.8,611.3 L255.5,611.7 L256.3,612.1 L257.1,612.6 L257.9,613 L258.6,613.5 L259.4,613.9 L260.2,614.4 L261,614.9 L261.8,615.4 L262.5,615.9 L263.3,616.5 L264.1,617 L264.9,617.5 L265.6,618 L266.4,618.6 L267.2,619.1" fill="none" stroke="#3a3a3a" stroke-width="0.9"/>
<rect x="169.5" y="537.5" width="101.7" height="107.9" fill="none" stroke="#111" stroke-width="1.5"/>
<line x1="165.9" y1="640.5" x2="169.5" y2="640.5" stroke="#555" stroke-width="0.8"/>
<text x="165.5" y="643.6" class="tk" text-anchor="end">0.00</text>
<line x1="165.9" y1="615.83" x2="169.5" y2="615.83" stroke="#555" stroke-width="0.8"/>
<text x="165.5" y="618.93" class="tk" text-anchor="end">0.05</text>
<line x1="165.9" y1="591.15" x2="169.5" y2="591.15" stroke="#555" stroke-width="0.8"/>
<text x="165.5" y="594.25" class="tk" text-anchor="end">0.10</text>
<line x1="165.9" y1="566.47" x2="169.5" y2="566.47" stroke="#555" stroke-width="0.8"/>
<text x="165.5" y="569.57" class="tk" text-anchor="end">0.15</text>
<line x1="165.9" y1="541.8" x2="169.5" y2="541.8" stroke="#555" stroke-width="0.8"/>
<text x="165.5" y="544.9" class="tk" text-anchor="end">0.20</text>
<line x1="173.9" y1="645.4" x2="173.9" y2="648.4" stroke="#777" stroke-width="0.8"/>
<text x="173.9" y="654.6" class="tk" text-anchor="middle">0.0</text>
<line x1="197.22" y1="645.4" x2="197.22" y2="648.4" stroke="#777" stroke-width="0.8"/>
<text x="197.22" y="654.6" class="tk" text-anchor="middle">2.5</text>
<line x1="220.55" y1="645.4" x2="220.55" y2="648.4" stroke="#777" stroke-width="0.8"/>
<text x="220.55" y="654.6" class="tk" text-anchor="middle">5.0</text>
<line x1="243.88" y1="645.4" x2="243.88" y2="648.4" stroke="#777" stroke-width="0.8"/>
<text x="243.88" y="654.6" class="tk" text-anchor="middle">7.5</text>
<line x1="267.2" y1="645.4" x2="267.2" y2="648.4" stroke="#777" stroke-width="0.8"/>
<text x="267.2" y="654.6" class="tk" text-anchor="middle">10.0</text>
<text transform="translate(149.5,591.45) rotate(-90)" class="dl" text-anchor="middle">Density</text>
<text x="219.4" y="561" class="ti" text-anchor="middle">Relationship</text>
<line x1="191.35" y1="562.3" x2="247.45" y2="562.3" stroke="#222" stroke-width="0.9"/>
<text x="220.5" y="584" class="pv"><tspan font-style="italic">P</tspan> = 0.078</text>
<path d="M305.7,640.5 L305.7,598.7 L306.5,598.5 L307.3,598.2 L308,598 L308.8,597.8 L309.6,597.6 L310.4,597.5 L311.2,597.4 L311.9,597.4 L312.7,597.4 L313.5,597.4 L314.3,597.4 L315.1,597.5 L315.9,597.6 L316.6,597.8 L317.4,598 L318.2,598.2 L319,598.5 L319.8,598.7 L320.5,599.1 L321.3,599.4 L322.1,599.7 L322.9,600 L323.7,600.4 L324.4,600.7 L325.2,601 L326,601.4 L326.8,601.7 L327.6,602 L328.3,602.2 L329.1,602.5 L329.9,602.8 L330.7,603 L331.5,603.3 L332.2,603.5 L333,603.7 L333.8,603.9 L334.6,604.1 L335.4,604.3 L336.2,604.5 L336.9,604.7 L337.7,604.9 L338.5,605.1 L339.3,605.3 L340.1,605.4 L340.8,605.6 L341.6,605.8 L342.4,605.9 L343.2,606.1 L344,606.3 L344.7,606.4 L345.5,606.6 L346.3,606.8 L347.1,606.9 L347.9,607.1 L348.6,607.2 L349.4,607.3 L350.2,607.4 L351,607.5 L351.8,607.5 L352.5,607.6 L353.3,607.6 L354.1,607.6 L354.9,607.6 L355.7,607.5 L356.5,607.4 L357.2,607.4 L358,607.3 L358.8,607.2 L359.6,607.1 L360.4,607 L361.1,606.9 L361.9,606.8 L362.7,606.8 L363.5,606.7 L364.3,606.6 L365,606.6 L365.8,606.5 L366.6,606.5 L367.4,606.4 L368.2,606.4 L368.9,606.3 L369.7,606.3 L370.5,606.2 L371.3,606.1 L372.1,606 L372.9,605.9 L373.6,605.8 L374.4,605.7 L375.2,605.6 L376,605.5 L376.8,605.4 L377.5,605.3 L378.3,605.3 L379.1,605.2 L379.9,605.2 L380.7,605.2 L381.4,605.2 L382.2,605.2 L383,605.2 L383.8,605.3 L384.6,605.4 L385.3,605.5 L386.1,605.7 L386.9,605.9 L387.7,606.1 L388.5,606.3 L389.2,606.6 L390,606.8 L390.8,607.2 L391.6,607.5 L392.4,607.9 L393.2,608.3 L393.9,608.7 L394.7,609.1 L395.5,609.6 L396.3,610.1 L397.1,610.7 L397.8,611.3 L398.6,611.9 L399.4,612.5 L399.4,640.5 Z" fill="rgb(247,197,197)"/>
<path d="M305.7,640.5 L305.7,624.6 L306.5,624.4 L307.3,624.3 L308,624.2 L308.8,624.2 L309.6,624.2 L310.4,624.2 L311.2,624.2 L311.9,624.3 L312.7,624.4 L313.5,624.4 L314.3,624.5 L315.1,624.6 L315.9,624.6 L316.6,624.7 L317.4,624.7 L318.2,624.7 L319,624.6 L319.8,624.6 L320.5,624.4 L321.3,624.3 L322.1,624.1 L322.9,623.9 L323.7,623.6 L324.4,623.3 L325.2,623 L326,622.6 L326.8,622.2 L327.6,621.7 L328.3,621.1 L329.1,620.4 L329.9,619.6 L330.7,618.7 L331.5,617.7 L332.2,616.7 L333,615.7 L333.8,614.7 L334.6,613.8 L335.4,612.9 L336.2,612.1 L336.9,611.3 L337.7,610.6 L338.5,609.8 L339.3,609.1 L340.1,608.4 L340.8,607.7 L341.6,607 L342.4,606.4 L343.2,605.7 L344,604.9 L344.7,604.2 L345.5,603.5 L346.3,602.8 L347.1,602 L347.9,601.3 L348.6,600.5 L349.4,599.8 L350.2,599.1 L351,598.4 L351.8,597.7 L352.5,597 L353.3,596.4 L354.1,595.7 L354.9,595.1 L355.7,594.5 L356.5,593.9 L357.2,593.4 L358,592.8 L358.8,592.3 L359.6,591.7 L360.4,591.2 L361.1,590.7 L361.9,590.2 L362.7,589.6 L363.5,589.1 L364.3,588.6 L365,588.1 L365.8,587.6 L366.6,587.1 L367.4,586.6 L368.2,586.1 L368.9,585.7 L369.7,585.2 L370.5,584.7 L371.3,584.3 L372.1,583.9 L372.9,583.4 L373.6,583 L374.4,582.6 L375.2,582.3 L376,581.9 L376.8,581.6 L377.5,581.3 L378.3,581 L379.1,580.8 L379.9,580.5 L380.7,580.3 L381.4,580.2 L382.2,580.1 L383,580 L383.8,580 L384.6,580.1 L385.3,580.3 L386.1,580.7 L386.9,581.1 L387.7,581.6 L388.5,582.2 L389.2,582.8 L390,583.6 L390.8,584.3 L391.6,585.2 L392.4,586 L393.2,586.9 L393.9,587.8 L394.7,588.7 L395.5,589.7 L396.3,590.6 L397.1,591.4 L397.8,592.3 L398.6,593.1 L399.4,593.9 L399.4,640.5 Z" fill="rgb(156,217,222)"/>
<path d="M305.7,640.5 L305.7,624.6 L306.5,624.4 L307.3,624.3 L308,624.2 L308.8,624.2 L309.6,624.2 L310.4,624.2 L311.2,624.2 L311.9,624.3 L312.7,624.4 L313.5,624.4 L314.3,624.5 L315.1,624.6 L315.9,624.6 L316.6,624.7 L317.4,624.7 L318.2,624.7 L319,624.6 L319.8,624.6 L320.5,624.4 L321.3,624.3 L322.1,624.1 L322.9,623.9 L323.7,623.6 L324.4,623.3 L325.2,623 L326,622.6 L326.8,622.2 L327.6,621.7 L328.3,621.1 L329.1,620.4 L329.9,619.6 L330.7,618.7 L331.5,617.7 L332.2,616.7 L333,615.7 L333.8,614.7 L334.6,613.8 L335.4,612.9 L336.2,612.1 L336.9,611.3 L337.7,610.6 L338.5,609.8 L339.3,609.1 L340.1,608.4 L340.8,607.7 L341.6,607 L342.4,606.4 L343.2,606.1 L344,606.3 L344.7,606.4 L345.5,606.6 L346.3,606.8 L347.1,606.9 L347.9,607.1 L348.6,607.2 L349.4,607.3 L350.2,607.4 L351,607.5 L351.8,607.5 L352.5,607.6 L353.3,607.6 L354.1,607.6 L354.9,607.6 L355.7,607.5 L356.5,607.4 L357.2,607.4 L358,607.3 L358.8,607.2 L359.6,607.1 L360.4,607 L361.1,606.9 L361.9,606.8 L362.7,606.8 L363.5,606.7 L364.3,606.6 L365,606.6 L365.8,606.5 L366.6,606.5 L367.4,606.4 L368.2,606.4 L368.9,606.3 L369.7,606.3 L370.5,606.2 L371.3,606.1 L372.1,606 L372.9,605.9 L373.6,605.8 L374.4,605.7 L375.2,605.6 L376,605.5 L376.8,605.4 L377.5,605.3 L378.3,605.3 L379.1,605.2 L379.9,605.2 L380.7,605.2 L381.4,605.2 L382.2,605.2 L383,605.2 L383.8,605.3 L384.6,605.4 L385.3,605.5 L386.1,605.7 L386.9,605.9 L387.7,606.1 L388.5,606.3 L389.2,606.6 L390,606.8 L390.8,607.2 L391.6,607.5 L392.4,607.9 L393.2,608.3 L393.9,608.7 L394.7,609.1 L395.5,609.6 L396.3,610.1 L397.1,610.7 L397.8,611.3 L398.6,611.9 L399.4,612.5 L399.4,640.5 Z" fill="rgb(150,195,196)"/>
<path d="M305.7,598.75 L306.5,598.5 L307.3,598.2 L308,598 L308.8,597.8 L309.6,597.6 L310.4,597.5 L311.2,597.4 L311.9,597.4 L312.7,597.4 L313.5,597.4 L314.3,597.4 L315.1,597.5 L315.9,597.6 L316.6,597.8 L317.4,598 L318.2,598.2 L319,598.5 L319.8,598.7 L320.5,599.1 L321.3,599.4 L322.1,599.7 L322.9,600 L323.7,600.4 L324.4,600.7 L325.2,601 L326,601.4 L326.8,601.7 L327.6,602 L328.3,602.2 L329.1,602.5 L329.9,602.8 L330.7,603 L331.5,603.3 L332.2,603.5 L333,603.7 L333.8,603.9 L334.6,604.1 L335.4,604.3 L336.2,604.5 L336.9,604.7 L337.7,604.9 L338.5,605.1 L339.3,605.3 L340.1,605.4 L340.8,605.6 L341.6,605.8 L342.4,605.9 L343.2,606.1 L344,606.3 L344.7,606.4 L345.5,606.6 L346.3,606.8 L347.1,606.9 L347.9,607.1 L348.6,607.2 L349.4,607.3 L350.2,607.4 L351,607.5 L351.8,607.5 L352.5,607.6 L353.3,607.6 L354.1,607.6 L354.9,607.6 L355.7,607.5 L356.5,607.4 L357.2,607.4 L358,607.3 L358.8,607.2 L359.6,607.1 L360.4,607 L361.1,606.9 L361.9,606.8 L362.7,606.8 L363.5,606.7 L364.3,606.6 L365,606.6 L365.8,606.5 L366.6,606.5 L367.4,606.4 L368.2,606.4 L368.9,606.3 L369.7,606.3 L370.5,606.2 L371.3,606.1 L372.1,606 L372.9,605.9 L373.6,605.8 L374.4,605.7 L375.2,605.6 L376,605.5 L376.8,605.4 L377.5,605.3 L378.3,605.3 L379.1,605.2 L379.9,605.2 L380.7,605.2 L381.4,605.2 L382.2,605.2 L383,605.2 L383.8,605.3 L384.6,605.4 L385.3,605.5 L386.1,605.7 L386.9,605.9 L387.7,606.1 L388.5,606.3 L389.2,606.6 L390,606.8 L390.8,607.2 L391.6,607.5 L392.4,607.9 L393.2,608.3 L393.9,608.7 L394.7,609.1 L395.5,609.6 L396.3,610.1 L397.1,610.7 L397.8,611.3 L398.6,611.9 L399.4,612.5" fill="none" stroke="#3a3a3a" stroke-width="0.9"/>
<path d="M305.7,624.56 L306.5,624.4 L307.3,624.3 L308,624.2 L308.8,624.2 L309.6,624.2 L310.4,624.2 L311.2,624.2 L311.9,624.3 L312.7,624.4 L313.5,624.4 L314.3,624.5 L315.1,624.6 L315.9,624.6 L316.6,624.7 L317.4,624.7 L318.2,624.7 L319,624.6 L319.8,624.6 L320.5,624.4 L321.3,624.3 L322.1,624.1 L322.9,623.9 L323.7,623.6 L324.4,623.3 L325.2,623 L326,622.6 L326.8,622.2 L327.6,621.7 L328.3,621.1 L329.1,620.4 L329.9,619.6 L330.7,618.7 L331.5,617.7 L332.2,616.7 L333,615.7 L333.8,614.7 L334.6,613.8 L335.4,612.9 L336.2,612.1 L336.9,611.3 L337.7,610.6 L338.5,609.8 L339.3,609.1 L340.1,608.4 L340.8,607.7 L341.6,607 L342.4,606.4 L343.2,605.7 L344,604.9 L344.7,604.2 L345.5,603.5 L346.3,602.8 L347.1,602 L347.9,601.3 L348.6,600.5 L349.4,599.8 L350.2,599.1 L351,598.4 L351.8,597.7 L352.5,597 L353.3,596.4 L354.1,595.7 L354.9,595.1 L355.7,594.5 L356.5,593.9 L357.2,593.4 L358,592.8 L358.8,592.3 L359.6,591.7 L360.4,591.2 L361.1,590.7 L361.9,590.2 L362.7,589.6 L363.5,589.1 L364.3,588.6 L365,588.1 L365.8,587.6 L366.6,587.1 L367.4,586.6 L368.2,586.1 L368.9,585.7 L369.7,585.2 L370.5,584.7 L371.3,584.3 L372.1,583.9 L372.9,583.4 L373.6,583 L374.4,582.6 L375.2,582.3 L376,581.9 L376.8,581.6 L377.5,581.3 L378.3,581 L379.1,580.8 L379.9,580.5 L380.7,580.3 L381.4,580.2 L382.2,580.1 L383,580 L383.8,580 L384.6,580.1 L385.3,580.3 L386.1,580.7 L386.9,581.1 L387.7,581.6 L388.5,582.2 L389.2,582.8 L390,583.6 L390.8,584.3 L391.6,585.2 L392.4,586 L393.2,586.9 L393.9,587.8 L394.7,588.7 L395.5,589.7 L396.3,590.6 L397.1,591.4 L397.8,592.3 L398.6,593.1 L399.4,593.9" fill="none" stroke="#3a3a3a" stroke-width="0.9"/>
<rect x="301" y="537.5" width="102.5" height="107.9" fill="none" stroke="#111" stroke-width="1.5"/>
<line x1="297.4" y1="640.5" x2="301" y2="640.5" stroke="#555" stroke-width="0.8"/>
<text x="297" y="643.6" class="tk" text-anchor="end">0.00</text>
<line x1="297.4" y1="615.83" x2="301" y2="615.83" stroke="#555" stroke-width="0.8"/>
<text x="297" y="618.93" class="tk" text-anchor="end">0.05</text>
<line x1="297.4" y1="591.15" x2="301" y2="591.15" stroke="#555" stroke-width="0.8"/>
<text x="297" y="594.25" class="tk" text-anchor="end">0.10</text>
<line x1="297.4" y1="566.47" x2="301" y2="566.47" stroke="#555" stroke-width="0.8"/>
<text x="297" y="569.57" class="tk" text-anchor="end">0.15</text>
<line x1="297.4" y1="541.8" x2="301" y2="541.8" stroke="#555" stroke-width="0.8"/>
<text x="297" y="544.9" class="tk" text-anchor="end">0.20</text>
<line x1="305.7" y1="645.4" x2="305.7" y2="648.4" stroke="#777" stroke-width="0.8"/>
<text x="305.7" y="654.6" class="tk" text-anchor="middle">0.0</text>
<line x1="329.12" y1="645.4" x2="329.12" y2="648.4" stroke="#777" stroke-width="0.8"/>
<text x="329.12" y="654.6" class="tk" text-anchor="middle">2.5</text>
<line x1="352.55" y1="645.4" x2="352.55" y2="648.4" stroke="#777" stroke-width="0.8"/>
<text x="352.55" y="654.6" class="tk" text-anchor="middle">5.0</text>
<line x1="375.97" y1="645.4" x2="375.97" y2="648.4" stroke="#777" stroke-width="0.8"/>
<text x="375.97" y="654.6" class="tk" text-anchor="middle">7.5</text>
<line x1="399.4" y1="645.4" x2="399.4" y2="648.4" stroke="#777" stroke-width="0.8"/>
<text x="399.4" y="654.6" class="tk" text-anchor="middle">10.0</text>
<text transform="translate(281,591.45) rotate(-90)" class="dl" text-anchor="middle">Density</text>
<text x="352.2" y="561" class="ti" text-anchor="middle">Walking</text>
<line x1="334.45" y1="562.3" x2="369.95" y2="562.3" stroke="#222" stroke-width="0.9"/>
<text x="308.9" y="583.5" class="pv"><tspan font-style="italic">P</tspan> <0.001</text>
<path d="M437.7,640.5 L437.7,613 L438.5,612.7 L439.3,612.4 L440,612.1 L440.8,611.9 L441.6,611.6 L442.4,611.4 L443.2,611.3 L443.9,611.1 L444.7,611 L445.5,610.8 L446.3,610.7 L447.1,610.6 L447.9,610.5 L448.6,610.5 L449.4,610.4 L450.2,610.3 L451,610.3 L451.8,610.2 L452.5,610.2 L453.3,610.2 L454.1,610.1 L454.9,610.1 L455.7,610 L456.4,610 L457.2,609.9 L458,609.8 L458.8,609.7 L459.6,609.6 L460.3,609.5 L461.1,609.4 L461.9,609.3 L462.7,609.1 L463.5,609 L464.2,608.8 L465,608.6 L465.8,608.3 L466.6,608.1 L467.4,607.9 L468.2,607.6 L468.9,607.3 L469.7,607 L470.5,606.7 L471.3,606.4 L472.1,606.1 L472.8,605.7 L473.6,605.4 L474.4,605 L475.2,604.7 L476,604.3 L476.7,603.9 L477.5,603.5 L478.3,603.1 L479.1,602.7 L479.9,602.2 L480.6,601.8 L481.4,601.3 L482.2,600.9 L483,600.4 L483.8,600 L484.5,599.6 L485.3,599.2 L486.1,598.7 L486.9,598.4 L487.7,598 L488.5,597.7 L489.2,597.4 L490,597.1 L490.8,596.8 L491.6,596.6 L492.4,596.5 L493.1,596.3 L493.9,596.2 L494.7,596.1 L495.5,596 L496.3,595.9 L497,595.9 L497.8,595.8 L498.6,595.8 L499.4,595.8 L500.2,595.7 L500.9,595.7 L501.7,595.7 L502.5,595.7 L503.3,595.7 L504.1,595.7 L504.9,595.7 L505.6,595.7 L506.4,595.7 L507.2,595.7 L508,595.8 L508.8,595.8 L509.5,595.9 L510.3,596 L511.1,596 L511.9,596.1 L512.7,596.2 L513.4,596.3 L514.2,596.5 L515,596.6 L515.8,596.8 L516.6,597 L517.3,597.2 L518.1,597.4 L518.9,597.6 L519.7,597.9 L520.5,598.1 L521.2,598.4 L522,598.7 L522.8,599.1 L523.6,599.4 L524.4,599.8 L525.2,600.1 L525.9,600.5 L526.7,600.9 L527.5,601.3 L528.3,601.8 L529.1,602.2 L529.8,602.7 L530.6,603.2 L531.4,603.7 L531.4,640.5 Z" fill="rgb(247,197,197)"/>
<path d="M437.7,640.5 L437.7,626 L438.5,625.7 L439.3,625.4 L440,625.1 L440.8,624.8 L441.6,624.5 L442.4,624.3 L443.2,624 L443.9,623.7 L444.7,623.5 L445.5,623.2 L446.3,623 L447.1,622.7 L447.9,622.5 L448.6,622.2 L449.4,622 L450.2,621.7 L451,621.5 L451.8,621.2 L452.5,621 L453.3,620.7 L454.1,620.5 L454.9,620.2 L455.7,620 L456.4,619.7 L457.2,619.4 L458,619.1 L458.8,618.8 L459.6,618.5 L460.3,618.2 L461.1,617.9 L461.9,617.6 L462.7,617.3 L463.5,616.9 L464.2,616.6 L465,616.2 L465.8,615.8 L466.6,615.4 L467.4,615 L468.2,614.6 L468.9,614.2 L469.7,613.8 L470.5,613.3 L471.3,612.9 L472.1,612.4 L472.8,611.9 L473.6,611.4 L474.4,610.9 L475.2,610.4 L476,609.9 L476.7,609.3 L477.5,608.7 L478.3,608.2 L479.1,607.6 L479.9,607 L480.6,606.3 L481.4,605.7 L482.2,605 L483,604.3 L483.8,603.6 L484.5,602.9 L485.3,602.2 L486.1,601.5 L486.9,600.8 L487.7,600 L488.5,599.3 L489.2,598.6 L490,597.8 L490.8,597.1 L491.6,596.3 L492.4,595.6 L493.1,594.9 L493.9,594.1 L494.7,593.4 L495.5,592.7 L496.3,592 L497,591.3 L497.8,590.7 L498.6,590 L499.4,589.4 L500.2,588.8 L500.9,588.2 L501.7,587.7 L502.5,587.2 L503.3,586.6 L504.1,586.1 L504.9,585.7 L505.6,585.2 L506.4,584.8 L507.2,584.4 L508,584 L508.8,583.6 L509.5,583.3 L510.3,583 L511.1,582.7 L511.9,582.4 L512.7,582.2 L513.4,582.1 L514.2,582 L515,582 L515.8,582 L516.6,582.2 L517.3,582.3 L518.1,582.6 L518.9,582.9 L519.7,583.2 L520.5,583.6 L521.2,584.1 L522,584.6 L522.8,585.1 L523.6,585.7 L524.4,586.3 L525.2,586.9 L525.9,587.6 L526.7,588.3 L527.5,589 L528.3,589.7 L529.1,590.4 L529.8,591.2 L530.6,591.9 L531.4,592.6 L531.4,640.5 Z" fill="rgb(156,217,222)"/>
<path d="M437.7,640.5 L437.7,626 L438.5,625.7 L439.3,625.4 L440,625.1 L440.8,624.8 L441.6,624.5 L442.4,624.3 L443.2,624 L443.9,623.7 L444.7,623.5 L445.5,623.2 L446.3,623 L447.1,622.7 L447.9,622.5 L448.6,622.2 L449.4,622 L450.2,621.7 L451,621.5 L451.8,621.2 L452.5,621 L453.3,620.7 L454.1,620.5 L454.9,620.2 L455.7,620 L456.4,619.7 L457.2,619.4 L458,619.1 L458.8,618.8 L459.6,618.5 L460.3,618.2 L461.1,617.9 L461.9,617.6 L462.7,617.3 L463.5,616.9 L464.2,616.6 L465,616.2 L465.8,615.8 L466.6,615.4 L467.4,615 L468.2,614.6 L468.9,614.2 L469.7,613.8 L470.5,613.3 L471.3,612.9 L472.1,612.4 L472.8,611.9 L473.6,611.4 L474.4,610.9 L475.2,610.4 L476,609.9 L476.7,609.3 L477.5,608.7 L478.3,608.2 L479.1,607.6 L479.9,607 L480.6,606.3 L481.4,605.7 L482.2,605 L483,604.3 L483.8,603.6 L484.5,602.9 L485.3,602.2 L486.1,601.5 L486.9,600.8 L487.7,600 L488.5,599.3 L489.2,598.6 L490,597.8 L490.8,597.1 L491.6,596.6 L492.4,596.5 L493.1,596.3 L493.9,596.2 L494.7,596.1 L495.5,596 L496.3,595.9 L497,595.9 L497.8,595.8 L498.6,595.8 L499.4,595.8 L500.2,595.7 L500.9,595.7 L501.7,595.7 L502.5,595.7 L503.3,595.7 L504.1,595.7 L504.9,595.7 L505.6,595.7 L506.4,595.7 L507.2,595.7 L508,595.8 L508.8,595.8 L509.5,595.9 L510.3,596 L511.1,596 L511.9,596.1 L512.7,596.2 L513.4,596.3 L514.2,596.5 L515,596.6 L515.8,596.8 L516.6,597 L517.3,597.2 L518.1,597.4 L518.9,597.6 L519.7,597.9 L520.5,598.1 L521.2,598.4 L522,598.7 L522.8,599.1 L523.6,599.4 L524.4,599.8 L525.2,600.1 L525.9,600.5 L526.7,600.9 L527.5,601.3 L528.3,601.8 L529.1,602.2 L529.8,602.7 L530.6,603.2 L531.4,603.7 L531.4,640.5 Z" fill="rgb(150,195,196)"/>
<path d="M437.7,613.01 L438.5,612.7 L439.3,612.4 L440,612.1 L440.8,611.9 L441.6,611.6 L442.4,611.4 L443.2,611.3 L443.9,611.1 L444.7,611 L445.5,610.8 L446.3,610.7 L447.1,610.6 L447.9,610.5 L448.6,610.5 L449.4,610.4 L450.2,610.3 L451,610.3 L451.8,610.2 L452.5,610.2 L453.3,610.2 L454.1,610.1 L454.9,610.1 L455.7,610 L456.4,610 L457.2,609.9 L458,609.8 L458.8,609.7 L459.6,609.6 L460.3,609.5 L461.1,609.4 L461.9,609.3 L462.7,609.1 L463.5,609 L464.2,608.8 L465,608.6 L465.8,608.3 L466.6,608.1 L467.4,607.9 L468.2,607.6 L468.9,607.3 L469.7,607 L470.5,606.7 L471.3,606.4 L472.1,606.1 L472.8,605.7 L473.6,605.4 L474.4,605 L475.2,604.7 L476,604.3 L476.7,603.9 L477.5,603.5 L478.3,603.1 L479.1,602.7 L479.9,602.2 L480.6,601.8 L481.4,601.3 L482.2,600.9 L483,600.4 L483.8,600 L484.5,599.6 L485.3,599.2 L486.1,598.7 L486.9,598.4 L487.7,598 L488.5,597.7 L489.2,597.4 L490,597.1 L490.8,596.8 L491.6,596.6 L492.4,596.5 L493.1,596.3 L493.9,596.2 L494.7,596.1 L495.5,596 L496.3,595.9 L497,595.9 L497.8,595.8 L498.6,595.8 L499.4,595.8 L500.2,595.7 L500.9,595.7 L501.7,595.7 L502.5,595.7 L503.3,595.7 L504.1,595.7 L504.9,595.7 L505.6,595.7 L506.4,595.7 L507.2,595.7 L508,595.8 L508.8,595.8 L509.5,595.9 L510.3,596 L511.1,596 L511.9,596.1 L512.7,596.2 L513.4,596.3 L514.2,596.5 L515,596.6 L515.8,596.8 L516.6,597 L517.3,597.2 L518.1,597.4 L518.9,597.6 L519.7,597.9 L520.5,598.1 L521.2,598.4 L522,598.7 L522.8,599.1 L523.6,599.4 L524.4,599.8 L525.2,600.1 L525.9,600.5 L526.7,600.9 L527.5,601.3 L528.3,601.8 L529.1,602.2 L529.8,602.7 L530.6,603.2 L531.4,603.7" fill="none" stroke="#3a3a3a" stroke-width="0.9"/>
<path d="M437.7,625.99 L438.5,625.7 L439.3,625.4 L440,625.1 L440.8,624.8 L441.6,624.5 L442.4,624.3 L443.2,624 L443.9,623.7 L444.7,623.5 L445.5,623.2 L446.3,623 L447.1,622.7 L447.9,622.5 L448.6,622.2 L449.4,622 L450.2,621.7 L451,621.5 L451.8,621.2 L452.5,621 L453.3,620.7 L454.1,620.5 L454.9,620.2 L455.7,620 L456.4,619.7 L457.2,619.4 L458,619.1 L458.8,618.8 L459.6,618.5 L460.3,618.2 L461.1,617.9 L461.9,617.6 L462.7,617.3 L463.5,616.9 L464.2,616.6 L465,616.2 L465.8,615.8 L466.6,615.4 L467.4,615 L468.2,614.6 L468.9,614.2 L469.7,613.8 L470.5,613.3 L471.3,612.9 L472.1,612.4 L472.8,611.9 L473.6,611.4 L474.4,610.9 L475.2,610.4 L476,609.9 L476.7,609.3 L477.5,608.7 L478.3,608.2 L479.1,607.6 L479.9,607 L480.6,606.3 L481.4,605.7 L482.2,605 L483,604.3 L483.8,603.6 L484.5,602.9 L485.3,602.2 L486.1,601.5 L486.9,600.8 L487.7,600 L488.5,599.3 L489.2,598.6 L490,597.8 L490.8,597.1 L491.6,596.3 L492.4,595.6 L493.1,594.9 L493.9,594.1 L494.7,593.4 L495.5,592.7 L496.3,592 L497,591.3 L497.8,590.7 L498.6,590 L499.4,589.4 L500.2,588.8 L500.9,588.2 L501.7,587.7 L502.5,587.2 L503.3,586.6 L504.1,586.1 L504.9,585.7 L505.6,585.2 L506.4,584.8 L507.2,584.4 L508,584 L508.8,583.6 L509.5,583.3 L510.3,583 L511.1,582.7 L511.9,582.4 L512.7,582.2 L513.4,582.1 L514.2,582 L515,582 L515.8,582 L516.6,582.2 L517.3,582.3 L518.1,582.6 L518.9,582.9 L519.7,583.2 L520.5,583.6 L521.2,584.1 L522,584.6 L522.8,585.1 L523.6,585.7 L524.4,586.3 L525.2,586.9 L525.9,587.6 L526.7,588.3 L527.5,589 L528.3,589.7 L529.1,590.4 L529.8,591.2 L530.6,591.9 L531.4,592.6" fill="none" stroke="#3a3a3a" stroke-width="0.9"/>
<rect x="433" y="537.5" width="102.8" height="107.9" fill="none" stroke="#111" stroke-width="1.5"/>
<line x1="429.4" y1="640.5" x2="433" y2="640.5" stroke="#555" stroke-width="0.8"/>
<text x="429" y="643.6" class="tk" text-anchor="end">0.00</text>
<line x1="429.4" y1="615.83" x2="433" y2="615.83" stroke="#555" stroke-width="0.8"/>
<text x="429" y="618.93" class="tk" text-anchor="end">0.05</text>
<line x1="429.4" y1="591.15" x2="433" y2="591.15" stroke="#555" stroke-width="0.8"/>
<text x="429" y="594.25" class="tk" text-anchor="end">0.10</text>
<line x1="429.4" y1="566.47" x2="433" y2="566.47" stroke="#555" stroke-width="0.8"/>
<text x="429" y="569.57" class="tk" text-anchor="end">0.15</text>
<line x1="429.4" y1="541.8" x2="433" y2="541.8" stroke="#555" stroke-width="0.8"/>
<text x="429" y="544.9" class="tk" text-anchor="end">0.20</text>
<line x1="437.7" y1="645.4" x2="437.7" y2="648.4" stroke="#777" stroke-width="0.8"/>
<text x="437.7" y="654.6" class="tk" text-anchor="middle">0.0</text>
<line x1="461.12" y1="645.4" x2="461.12" y2="648.4" stroke="#777" stroke-width="0.8"/>
<text x="461.12" y="654.6" class="tk" text-anchor="middle">2.5</text>
<line x1="484.55" y1="645.4" x2="484.55" y2="648.4" stroke="#777" stroke-width="0.8"/>
<text x="484.55" y="654.6" class="tk" text-anchor="middle">5.0</text>
<line x1="507.97" y1="645.4" x2="507.97" y2="648.4" stroke="#777" stroke-width="0.8"/>
<text x="507.97" y="654.6" class="tk" text-anchor="middle">7.5</text>
<line x1="531.4" y1="645.4" x2="531.4" y2="648.4" stroke="#777" stroke-width="0.8"/>
<text x="531.4" y="654.6" class="tk" text-anchor="middle">10.0</text>
<text transform="translate(413,591.45) rotate(-90)" class="dl" text-anchor="middle">Density</text>
<text x="486.6" y="561" class="ti" text-anchor="middle">Enjoyment</text>
<line x1="462.7" y1="562.3" x2="510.5" y2="562.3" stroke="#222" stroke-width="0.9"/>
<text x="440.1" y="583.5" class="pv"><tspan font-style="italic">P</tspan> = 0.061</text>
<line x1="103.2" y1="130" x2="103.2" y2="135.5" stroke="#999" stroke-width="1"/>
<text x="432.4" y="40.6" class="lt">90-day mortality</text>
<line x1="432.4" y1="42.4" x2="522.13" y2="42.4" stroke="#222" stroke-width="1.1"/>
<rect x="436.2" y="54.7" width="21.6" height="21.5" fill="rgb(247,197,197)" stroke="#444" stroke-width="1"/>
<rect x="436.2" y="90" width="21.6" height="21.3" fill="rgb(156,217,222)" stroke="#444" stroke-width="1"/>
<text transform="translate(472.2,71) scale(0.89,1)" class="ly">Yes</text>
<text transform="translate(472.2,104.3) scale(0.9,1)" class="ly">No</text>
</svg>
</body></html>
